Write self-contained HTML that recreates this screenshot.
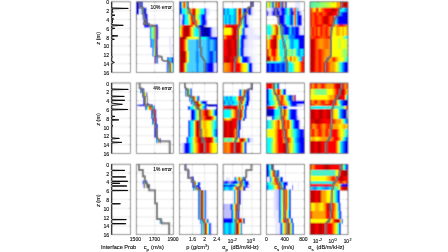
<!DOCTYPE html><html><head><meta charset="utf-8"><style>html,body{margin:0;padding:0;background:#fff;overflow:hidden}svg{display:block}text{font-family:"Liberation Sans",Arial,sans-serif;fill:#111;stroke:#111;stroke-width:0.12px}</style></head><body>
<svg width="448" height="252" viewBox="0 0 448 252">
<rect width="448" height="252" fill="#fff"/>
<filter id="bl" x="0" y="0" width="448" height="252" filterUnits="userSpaceOnUse"><feConvolveMatrix order="3" kernelMatrix="1 3 1 3 12 3 1 3 1" divisor="28" edgeMode="duplicate" preserveAlpha="true"/></filter>
<g filter="url(#bl)"><rect width="448" height="252" fill="#fff"/>
<line x1="111.40" y1="10.63" x2="130.60" y2="10.63" stroke="#d6d6d6" stroke-width="0.5"/>
<line x1="111.40" y1="19.45" x2="130.60" y2="19.45" stroke="#d6d6d6" stroke-width="0.5"/>
<line x1="111.40" y1="28.28" x2="130.60" y2="28.28" stroke="#d6d6d6" stroke-width="0.5"/>
<line x1="111.40" y1="37.10" x2="130.60" y2="37.10" stroke="#d6d6d6" stroke-width="0.5"/>
<line x1="111.40" y1="45.93" x2="130.60" y2="45.93" stroke="#d6d6d6" stroke-width="0.5"/>
<line x1="111.40" y1="54.75" x2="130.60" y2="54.75" stroke="#d6d6d6" stroke-width="0.5"/>
<line x1="111.40" y1="63.58" x2="130.60" y2="63.58" stroke="#d6d6d6" stroke-width="0.5"/>
<rect x="111.40" y="1.80" width="19.20" height="70.60" fill="none" stroke="#262626" stroke-width="0.6"/>
<path d="M111.40 10.63h0.90M130.60 10.63h-0.90M111.40 19.45h0.90M130.60 19.45h-0.90M111.40 28.28h0.90M130.60 28.28h-0.90M111.40 37.10h0.90M130.60 37.10h-0.90M111.40 45.93h0.90M130.60 45.93h-0.90M111.40 54.75h0.90M130.60 54.75h-0.90M111.40 63.58h0.90M130.60 63.58h-0.90" stroke="#262626" stroke-width="0.5" fill="none"/>
<line x1="136.25" y1="10.63" x2="173.40" y2="10.63" stroke="#d6d6d6" stroke-width="0.5"/>
<line x1="136.25" y1="19.45" x2="173.40" y2="19.45" stroke="#d6d6d6" stroke-width="0.5"/>
<line x1="136.25" y1="28.28" x2="173.40" y2="28.28" stroke="#d6d6d6" stroke-width="0.5"/>
<line x1="136.25" y1="37.10" x2="173.40" y2="37.10" stroke="#d6d6d6" stroke-width="0.5"/>
<line x1="136.25" y1="45.93" x2="173.40" y2="45.93" stroke="#d6d6d6" stroke-width="0.5"/>
<line x1="136.25" y1="54.75" x2="173.40" y2="54.75" stroke="#d6d6d6" stroke-width="0.5"/>
<line x1="136.25" y1="63.58" x2="173.40" y2="63.58" stroke="#d6d6d6" stroke-width="0.5"/>
<line x1="154.80" y1="1.80" x2="154.80" y2="72.40" stroke="#d6d6d6" stroke-width="0.5"/>
<linearGradient id="g1" gradientUnits="userSpaceOnUse" x1="136.25" y1="0" x2="173.40" y2="0">
<stop offset="0.0013" stop-color="#0000ff"/>
<stop offset="0.0740" stop-color="#0000ff"/>
<stop offset="0.0848" stop-color="#808080"/>
<stop offset="0.1036" stop-color="#ff0000"/>
<stop offset="0.1279" stop-color="#ff0000"/>
<stop offset="0.1386" stop-color="#0080ff"/>
<stop offset="0.1763" stop-color="#0000ff"/>
<stop offset="0.1898" stop-color="#ffffff" stop-opacity="0"/>
<stop offset="1.0000" stop-color="#ffffff" stop-opacity="0"/>
</linearGradient>
<rect x="136.25" y="1.80" width="37.15" height="6.55" fill="url(#g1)"/>
<linearGradient id="g2" gradientUnits="userSpaceOnUse" x1="136.25" y1="0" x2="173.40" y2="0">
<stop offset="0.0013" stop-color="#0000ff"/>
<stop offset="0.0633" stop-color="#0000ff"/>
<stop offset="0.0740" stop-color="#ffffff" stop-opacity="0"/>
<stop offset="0.1144" stop-color="#d2d2ff"/>
<stop offset="0.1332" stop-color="#aeaeff"/>
<stop offset="0.1602" stop-color="#00ffff"/>
<stop offset="0.1817" stop-color="#808080"/>
<stop offset="0.2032" stop-color="#00ffff"/>
<stop offset="0.2248" stop-color="#0000ff"/>
<stop offset="0.2490" stop-color="#0000a0"/>
<stop offset="0.2624" stop-color="#0000ff"/>
<stop offset="0.2840" stop-color="#e8e8ff"/>
<stop offset="0.3163" stop-color="#ffffff" stop-opacity="0"/>
<stop offset="1.0000" stop-color="#ffffff" stop-opacity="0"/>
</linearGradient>
<rect x="136.25" y="7.70" width="37.15" height="6.75" fill="url(#g2)"/>
<linearGradient id="g3" gradientUnits="userSpaceOnUse" x1="136.25" y1="0" x2="173.40" y2="0">
<stop offset="0.0013" stop-color="#0000ff"/>
<stop offset="0.0202" stop-color="#ffffff" stop-opacity="0"/>
<stop offset="0.1413" stop-color="#ffffff" stop-opacity="0"/>
<stop offset="0.1682" stop-color="#aeaeff"/>
<stop offset="0.1898" stop-color="#00ffff"/>
<stop offset="0.2167" stop-color="#808080"/>
<stop offset="0.2409" stop-color="#0000ff"/>
<stop offset="0.2894" stop-color="#0000ff"/>
<stop offset="0.3163" stop-color="#e8e8ff"/>
<stop offset="0.3432" stop-color="#ffffff" stop-opacity="0"/>
<stop offset="1.0000" stop-color="#ffffff" stop-opacity="0"/>
</linearGradient>
<rect x="136.25" y="13.80" width="37.15" height="5.85" fill="url(#g3)"/>
<linearGradient id="g4" gradientUnits="userSpaceOnUse" x1="136.25" y1="0" x2="173.40" y2="0">
<stop offset="0.0013" stop-color="#ffffff" stop-opacity="0"/>
<stop offset="0.1548" stop-color="#ffffff" stop-opacity="0"/>
<stop offset="0.1817" stop-color="#aeaeff"/>
<stop offset="0.2086" stop-color="#808080"/>
<stop offset="0.2355" stop-color="#0000ff"/>
<stop offset="0.2759" stop-color="#808080"/>
<stop offset="0.3028" stop-color="#0000ff"/>
<stop offset="0.3297" stop-color="#e8e8ff"/>
<stop offset="0.3567" stop-color="#ffffff" stop-opacity="0"/>
<stop offset="1.0000" stop-color="#ffffff" stop-opacity="0"/>
</linearGradient>
<rect x="136.25" y="19.00" width="37.15" height="4.65" fill="url(#g4)"/>
<linearGradient id="g5" gradientUnits="userSpaceOnUse" x1="136.25" y1="0" x2="173.40" y2="0">
<stop offset="0.0013" stop-color="#ffffff" stop-opacity="0"/>
<stop offset="0.1548" stop-color="#ffffff" stop-opacity="0"/>
<stop offset="0.1817" stop-color="#aeaeff"/>
<stop offset="0.2086" stop-color="#0000ff"/>
<stop offset="0.2248" stop-color="#808080"/>
<stop offset="0.2624" stop-color="#0000ff"/>
<stop offset="0.3378" stop-color="#808080"/>
<stop offset="0.3567" stop-color="#0000ff"/>
<stop offset="0.3836" stop-color="#ffffff" stop-opacity="0"/>
<stop offset="1.0000" stop-color="#ffffff" stop-opacity="0"/>
</linearGradient>
<rect x="136.25" y="23.00" width="37.15" height="2.25" fill="url(#g5)"/>
<linearGradient id="g6" gradientUnits="userSpaceOnUse" x1="136.25" y1="0" x2="173.40" y2="0">
<stop offset="0.0013" stop-color="#ffffff" stop-opacity="0"/>
<stop offset="0.1952" stop-color="#ffffff" stop-opacity="0"/>
<stop offset="0.2194" stop-color="#0000ff"/>
<stop offset="0.2624" stop-color="#0000ff"/>
<stop offset="0.3297" stop-color="#0000ff"/>
<stop offset="0.3594" stop-color="#808080"/>
<stop offset="0.3836" stop-color="#00ffff"/>
<stop offset="0.4159" stop-color="#ff0000"/>
<stop offset="0.4616" stop-color="#ff0000"/>
<stop offset="0.4859" stop-color="#00ffff"/>
<stop offset="0.5182" stop-color="#0000ff"/>
<stop offset="0.5720" stop-color="#0000ff"/>
<stop offset="0.5935" stop-color="#e8e8ff"/>
<stop offset="0.6124" stop-color="#ffffff" stop-opacity="0"/>
<stop offset="1.0000" stop-color="#ffffff" stop-opacity="0"/>
</linearGradient>
<rect x="136.25" y="24.60" width="37.15" height="2.85" fill="url(#g6)"/>
<linearGradient id="g7" gradientUnits="userSpaceOnUse" x1="136.25" y1="0" x2="173.40" y2="0">
<stop offset="0.0013" stop-color="#ffffff" stop-opacity="0"/>
<stop offset="0.3513" stop-color="#ffffff" stop-opacity="0"/>
<stop offset="0.3701" stop-color="#0000ff"/>
<stop offset="0.4024" stop-color="#00ffff"/>
<stop offset="0.4240" stop-color="#80ff80"/>
<stop offset="0.4697" stop-color="#80ff80"/>
<stop offset="0.4939" stop-color="#ffff00"/>
<stop offset="0.5182" stop-color="#808080"/>
<stop offset="0.5424" stop-color="#ff0000"/>
<stop offset="0.5585" stop-color="#0000ff"/>
<stop offset="0.5828" stop-color="#0000ff"/>
<stop offset="0.6016" stop-color="#e8e8ff"/>
<stop offset="0.6205" stop-color="#ffffff" stop-opacity="0"/>
<stop offset="1.0000" stop-color="#ffffff" stop-opacity="0"/>
</linearGradient>
<rect x="136.25" y="26.80" width="37.15" height="9.85" fill="url(#g7)"/>
<linearGradient id="g8" gradientUnits="userSpaceOnUse" x1="136.25" y1="0" x2="173.40" y2="0">
<stop offset="0.0013" stop-color="#ffffff" stop-opacity="0"/>
<stop offset="0.3513" stop-color="#ffffff" stop-opacity="0"/>
<stop offset="0.3701" stop-color="#0000ff"/>
<stop offset="0.4024" stop-color="#00ffff"/>
<stop offset="0.4240" stop-color="#80ff80"/>
<stop offset="0.4697" stop-color="#80ff80"/>
<stop offset="0.4939" stop-color="#ffff00"/>
<stop offset="0.5182" stop-color="#808080"/>
<stop offset="0.5424" stop-color="#ff0000"/>
<stop offset="0.5585" stop-color="#0000ff"/>
<stop offset="0.5828" stop-color="#0000ff"/>
<stop offset="0.6016" stop-color="#e8e8ff"/>
<stop offset="0.6205" stop-color="#ffffff" stop-opacity="0"/>
<stop offset="0.8681" stop-color="#ffffff" stop-opacity="0"/>
<stop offset="0.8950" stop-color="#e8e8ff"/>
<stop offset="0.9354" stop-color="#e8e8ff"/>
<stop offset="0.9623" stop-color="#ffffff" stop-opacity="0"/>
<stop offset="1.0000" stop-color="#ffffff" stop-opacity="0"/>
</linearGradient>
<rect x="136.25" y="36.00" width="37.15" height="3.45" fill="url(#g8)"/>
<linearGradient id="g9" gradientUnits="userSpaceOnUse" x1="136.25" y1="0" x2="173.40" y2="0">
<stop offset="0.0013" stop-color="#ffffff" stop-opacity="0"/>
<stop offset="0.3647" stop-color="#ffffff" stop-opacity="0"/>
<stop offset="0.3917" stop-color="#0000ff"/>
<stop offset="0.4320" stop-color="#00ffff"/>
<stop offset="0.4643" stop-color="#0080ff"/>
<stop offset="0.4939" stop-color="#ffff00"/>
<stop offset="0.5182" stop-color="#808080"/>
<stop offset="0.5424" stop-color="#ff0000"/>
<stop offset="0.5666" stop-color="#0000ff"/>
<stop offset="0.5908" stop-color="#ffffff" stop-opacity="0"/>
<stop offset="0.8681" stop-color="#ffffff" stop-opacity="0"/>
<stop offset="0.8950" stop-color="#e8e8ff"/>
<stop offset="0.9354" stop-color="#e8e8ff"/>
<stop offset="0.9623" stop-color="#ffffff" stop-opacity="0"/>
<stop offset="1.0000" stop-color="#ffffff" stop-opacity="0"/>
</linearGradient>
<rect x="136.25" y="38.80" width="37.15" height="8.85" fill="url(#g9)"/>
<linearGradient id="g10" gradientUnits="userSpaceOnUse" x1="136.25" y1="0" x2="173.40" y2="0">
<stop offset="0.0013" stop-color="#ffffff" stop-opacity="0"/>
<stop offset="0.4186" stop-color="#ffffff" stop-opacity="0"/>
<stop offset="0.4455" stop-color="#0000ff"/>
<stop offset="0.4724" stop-color="#00ffff"/>
<stop offset="0.4993" stop-color="#ffff00"/>
<stop offset="0.5262" stop-color="#808080"/>
<stop offset="0.5478" stop-color="#ff0000"/>
<stop offset="0.5720" stop-color="#0000ff"/>
<stop offset="0.5989" stop-color="#ffffff" stop-opacity="0"/>
<stop offset="0.8816" stop-color="#ffffff" stop-opacity="0"/>
<stop offset="0.9085" stop-color="#e8e8ff"/>
<stop offset="0.9489" stop-color="#e8e8ff"/>
<stop offset="0.9758" stop-color="#ffffff" stop-opacity="0"/>
<stop offset="1.0000" stop-color="#ffffff" stop-opacity="0"/>
</linearGradient>
<rect x="136.25" y="47.00" width="37.15" height="9.55" fill="url(#g10)"/>
<linearGradient id="g11" gradientUnits="userSpaceOnUse" x1="136.25" y1="0" x2="173.40" y2="0">
<stop offset="0.0013" stop-color="#ffffff" stop-opacity="0"/>
<stop offset="0.4724" stop-color="#ffffff" stop-opacity="0"/>
<stop offset="0.4993" stop-color="#0000ff"/>
<stop offset="0.5262" stop-color="#ff0000"/>
<stop offset="0.5532" stop-color="#00ffff"/>
<stop offset="0.5801" stop-color="#0000ff"/>
<stop offset="0.6070" stop-color="#ffffff" stop-opacity="0"/>
<stop offset="1.0000" stop-color="#ffffff" stop-opacity="0"/>
</linearGradient>
<rect x="136.25" y="55.90" width="37.15" height="1.75" fill="url(#g11)"/>
<linearGradient id="g12" gradientUnits="userSpaceOnUse" x1="136.25" y1="0" x2="173.40" y2="0">
<stop offset="0.0013" stop-color="#ffffff" stop-opacity="0"/>
<stop offset="0.4724" stop-color="#ffffff" stop-opacity="0"/>
<stop offset="0.4993" stop-color="#0000ff"/>
<stop offset="0.5262" stop-color="#ff0000"/>
<stop offset="0.5532" stop-color="#00ffff"/>
<stop offset="0.5801" stop-color="#0000ff"/>
<stop offset="0.6070" stop-color="#ffffff" stop-opacity="0"/>
<stop offset="0.8143" stop-color="#ffffff" stop-opacity="0"/>
<stop offset="0.8412" stop-color="#0000ff"/>
<stop offset="0.8816" stop-color="#00ffff"/>
<stop offset="0.9085" stop-color="#808080"/>
<stop offset="0.9354" stop-color="#00ffff"/>
<stop offset="0.9758" stop-color="#0000ff"/>
<stop offset="1.0000" stop-color="#0000ff"/>
</linearGradient>
<rect x="136.25" y="57.00" width="37.15" height="6.55" fill="url(#g12)"/>
<linearGradient id="g13" gradientUnits="userSpaceOnUse" x1="136.25" y1="0" x2="173.40" y2="0">
<stop offset="0.0013" stop-color="#ffffff" stop-opacity="0"/>
<stop offset="0.8008" stop-color="#ffffff" stop-opacity="0"/>
<stop offset="0.8277" stop-color="#0000ff"/>
<stop offset="0.8600" stop-color="#00ffff"/>
<stop offset="0.8869" stop-color="#ffff00"/>
<stop offset="0.9085" stop-color="#808080"/>
<stop offset="0.9300" stop-color="#ff0000"/>
<stop offset="0.9515" stop-color="#ffff00"/>
<stop offset="0.9758" stop-color="#00ffff"/>
<stop offset="1.0000" stop-color="#0000ff"/>
</linearGradient>
<rect x="136.25" y="62.90" width="37.15" height="9.55" fill="url(#g13)"/>
<polyline points="139.70,1.80 139.70,7.70 142.90,7.70 142.90,13.80 143.90,14.20 144.40,19.00 146.30,20.10 146.00,21.80 144.40,22.90 144.40,24.00 148.80,24.00 149.60,25.50 155.50,26.30 155.50,36.00 155.70,47.00 156.00,55.90 161.70,56.90 162.20,59.90 163.70,60.90 167.70,60.90 169.20,61.90 169.70,72.40" fill="none" stroke="#333333" stroke-width="1.8" stroke-linejoin="miter"/>
<polyline points="139.70,1.80 139.70,7.70 142.90,7.70 142.90,13.80 143.90,14.20 144.40,19.00 146.30,20.10 146.00,21.80 144.40,22.90 144.40,24.00 148.80,24.00 149.60,25.50 155.50,26.30 155.50,36.00 155.70,47.00 156.00,55.90 161.70,56.90 162.20,59.90 163.70,60.90 167.70,60.90 169.20,61.90 169.70,72.40" fill="none" stroke="#a8a8a8" stroke-width="0.85" stroke-linejoin="miter"/>
<rect x="136.25" y="1.80" width="37.15" height="70.60" fill="none" stroke="#262626" stroke-width="0.6"/>
<path d="M136.25 10.63h0.90M173.40 10.63h-0.90M136.25 19.45h0.90M173.40 19.45h-0.90M136.25 28.28h0.90M173.40 28.28h-0.90M136.25 37.10h0.90M173.40 37.10h-0.90M136.25 45.93h0.90M173.40 45.93h-0.90M136.25 54.75h0.90M173.40 54.75h-0.90M136.25 63.58h0.90M173.40 63.58h-0.90M154.80 1.80v0.90M154.80 72.40v-0.90" stroke="#262626" stroke-width="0.5" fill="none"/>
<line x1="179.50" y1="10.63" x2="217.60" y2="10.63" stroke="#d6d6d6" stroke-width="0.5"/>
<line x1="179.50" y1="19.45" x2="217.60" y2="19.45" stroke="#d6d6d6" stroke-width="0.5"/>
<line x1="179.50" y1="28.28" x2="217.60" y2="28.28" stroke="#d6d6d6" stroke-width="0.5"/>
<line x1="179.50" y1="37.10" x2="217.60" y2="37.10" stroke="#d6d6d6" stroke-width="0.5"/>
<line x1="179.50" y1="45.93" x2="217.60" y2="45.93" stroke="#d6d6d6" stroke-width="0.5"/>
<line x1="179.50" y1="54.75" x2="217.60" y2="54.75" stroke="#d6d6d6" stroke-width="0.5"/>
<line x1="179.50" y1="63.58" x2="217.60" y2="63.58" stroke="#d6d6d6" stroke-width="0.5"/>
<line x1="192.50" y1="1.80" x2="192.50" y2="72.40" stroke="#d6d6d6" stroke-width="0.5"/>
<line x1="204.60" y1="1.80" x2="204.60" y2="72.40" stroke="#d6d6d6" stroke-width="0.5"/>
<line x1="216.70" y1="1.80" x2="216.70" y2="72.40" stroke="#d6d6d6" stroke-width="0.5"/>
<linearGradient id="g14" gradientUnits="userSpaceOnUse" x1="179.50" y1="0" x2="217.60" y2="0">
<stop offset="0.0000" stop-color="#0000ff"/>
<stop offset="0.0382" stop-color="#0000ff"/>
<stop offset="0.0590" stop-color="#00ffff"/>
<stop offset="0.0902" stop-color="#ffff00"/>
<stop offset="0.1162" stop-color="#ff0000"/>
<stop offset="0.1422" stop-color="#ff0000"/>
<stop offset="0.1631" stop-color="#ffff00"/>
<stop offset="0.1839" stop-color="#00ffff"/>
<stop offset="0.2047" stop-color="#0000ff"/>
<stop offset="0.2255" stop-color="#0000ff"/>
<stop offset="0.2411" stop-color="#d2d2ff"/>
<stop offset="0.2619" stop-color="#ffffff" stop-opacity="0"/>
<stop offset="1.0000" stop-color="#ffffff" stop-opacity="0"/>
</linearGradient>
<rect x="179.50" y="1.80" width="38.10" height="7.18" fill="url(#g14)"/>
<linearGradient id="g15" gradientUnits="userSpaceOnUse" x1="179.50" y1="0" x2="217.60" y2="0">
<stop offset="0.0000" stop-color="#0000ff"/>
<stop offset="0.0382" stop-color="#0000ff"/>
<stop offset="0.0772" stop-color="#00ffff"/>
<stop offset="0.1422" stop-color="#00ffff"/>
<stop offset="0.1813" stop-color="#80ff80"/>
<stop offset="0.2255" stop-color="#808080"/>
<stop offset="0.2671" stop-color="#ffff00"/>
<stop offset="0.3113" stop-color="#ffa000"/>
<stop offset="0.3504" stop-color="#ff0000"/>
<stop offset="0.4024" stop-color="#b00000"/>
<stop offset="0.4414" stop-color="#ffff00"/>
<stop offset="0.5194" stop-color="#c0ff40"/>
<stop offset="0.5715" stop-color="#00ffff"/>
<stop offset="0.6365" stop-color="#00ffff"/>
<stop offset="0.6755" stop-color="#0000ff"/>
<stop offset="0.7145" stop-color="#d2d2ff"/>
<stop offset="0.7796" stop-color="#e8e8ff"/>
<stop offset="0.8446" stop-color="#ffffff" stop-opacity="0"/>
<stop offset="1.0000" stop-color="#ffffff" stop-opacity="0"/>
</linearGradient>
<rect x="179.50" y="8.33" width="38.10" height="6.70" fill="url(#g15)"/>
<linearGradient id="g16" gradientUnits="userSpaceOnUse" x1="179.50" y1="0" x2="217.60" y2="0">
<stop offset="0.0000" stop-color="#e8e8ff"/>
<stop offset="0.0642" stop-color="#e8e8ff"/>
<stop offset="0.1032" stop-color="#0000ff"/>
<stop offset="0.1553" stop-color="#00ffff"/>
<stop offset="0.2073" stop-color="#00ffff"/>
<stop offset="0.2593" stop-color="#ffff00"/>
<stop offset="0.3243" stop-color="#ff0000"/>
<stop offset="0.3894" stop-color="#b00000"/>
<stop offset="0.4414" stop-color="#ffff00"/>
<stop offset="0.4934" stop-color="#80ff80"/>
<stop offset="0.5454" stop-color="#00ffff"/>
<stop offset="0.5975" stop-color="#0000ff"/>
<stop offset="0.6625" stop-color="#0000ff"/>
<stop offset="0.7145" stop-color="#d2d2ff"/>
<stop offset="0.7666" stop-color="#ffffff" stop-opacity="0"/>
<stop offset="1.0000" stop-color="#ffffff" stop-opacity="0"/>
</linearGradient>
<rect x="179.50" y="14.37" width="38.10" height="6.10" fill="url(#g16)"/>
<linearGradient id="g17" gradientUnits="userSpaceOnUse" x1="179.50" y1="0" x2="217.60" y2="0">
<stop offset="0.0000" stop-color="#e8e8ff"/>
<stop offset="0.0512" stop-color="#d2d2ff"/>
<stop offset="0.0902" stop-color="#0000ff"/>
<stop offset="0.1553" stop-color="#00ffff"/>
<stop offset="0.2203" stop-color="#00ffff"/>
<stop offset="0.2723" stop-color="#ffff00"/>
<stop offset="0.3373" stop-color="#ff0000"/>
<stop offset="0.4024" stop-color="#ff0000"/>
<stop offset="0.4544" stop-color="#ffa000"/>
<stop offset="0.5064" stop-color="#ffff00"/>
<stop offset="0.5454" stop-color="#00ffff"/>
<stop offset="0.6105" stop-color="#0000ff"/>
<stop offset="0.6755" stop-color="#0000ff"/>
<stop offset="0.7275" stop-color="#d2d2ff"/>
<stop offset="0.7796" stop-color="#ffffff" stop-opacity="0"/>
<stop offset="1.0000" stop-color="#ffffff" stop-opacity="0"/>
</linearGradient>
<rect x="179.50" y="19.82" width="38.10" height="5.80" fill="url(#g17)"/>
<linearGradient id="g18" gradientUnits="userSpaceOnUse" x1="179.50" y1="0" x2="217.60" y2="0">
<stop offset="0.0000" stop-color="#00ffff"/>
<stop offset="0.0252" stop-color="#80ff80"/>
<stop offset="0.0642" stop-color="#ffa000"/>
<stop offset="0.1162" stop-color="#ff0000"/>
<stop offset="0.1943" stop-color="#b00000"/>
<stop offset="0.2983" stop-color="#ff0000"/>
<stop offset="0.3504" stop-color="#ffa000"/>
<stop offset="0.4024" stop-color="#ffff00"/>
<stop offset="0.4674" stop-color="#80ff80"/>
<stop offset="0.5324" stop-color="#0000ff"/>
<stop offset="0.6105" stop-color="#0000a0"/>
<stop offset="0.6885" stop-color="#aeaeff"/>
<stop offset="0.7666" stop-color="#ffffff" stop-opacity="0"/>
<stop offset="1.0000" stop-color="#ffffff" stop-opacity="0"/>
</linearGradient>
<rect x="179.50" y="24.97" width="38.10" height="2.63" fill="url(#g18)"/>
<linearGradient id="g19" gradientUnits="userSpaceOnUse" x1="179.50" y1="0" x2="217.60" y2="0">
<stop offset="0.0000" stop-color="#00ffff"/>
<stop offset="0.0252" stop-color="#ffff00"/>
<stop offset="0.0590" stop-color="#ffa000"/>
<stop offset="0.0902" stop-color="#ff0000"/>
<stop offset="0.1422" stop-color="#b00000"/>
<stop offset="0.2203" stop-color="#b00000"/>
<stop offset="0.2671" stop-color="#ff0000"/>
<stop offset="0.2983" stop-color="#ffa000"/>
<stop offset="0.3295" stop-color="#ffff00"/>
<stop offset="0.3764" stop-color="#80ff80"/>
<stop offset="0.4284" stop-color="#00ffff"/>
<stop offset="0.5064" stop-color="#00ffff"/>
<stop offset="0.5585" stop-color="#0000ff"/>
<stop offset="0.6625" stop-color="#0000a0"/>
<stop offset="0.7405" stop-color="#0000a0"/>
<stop offset="0.8056" stop-color="#0000ff"/>
<stop offset="0.8576" stop-color="#d2d2ff"/>
<stop offset="0.9226" stop-color="#e8e8ff"/>
<stop offset="1.0000" stop-color="#e8e8ff"/>
</linearGradient>
<rect x="179.50" y="26.96" width="38.10" height="10.56" fill="url(#g19)"/>
<linearGradient id="g20" gradientUnits="userSpaceOnUse" x1="179.50" y1="0" x2="217.60" y2="0">
<stop offset="0.0000" stop-color="#ff0000"/>
<stop offset="0.0512" stop-color="#b00000"/>
<stop offset="0.1553" stop-color="#b00000"/>
<stop offset="0.1943" stop-color="#ffa000"/>
<stop offset="0.2333" stop-color="#ffff00"/>
<stop offset="0.4284" stop-color="#ffff00"/>
<stop offset="0.4934" stop-color="#c0ff40"/>
<stop offset="0.5454" stop-color="#00ffff"/>
<stop offset="0.6885" stop-color="#00ffff"/>
<stop offset="0.7666" stop-color="#0080ff"/>
<stop offset="0.8446" stop-color="#0000ff"/>
<stop offset="1.0000" stop-color="#0000ff"/>
</linearGradient>
<rect x="179.50" y="36.87" width="38.10" height="3.13" fill="url(#g20)"/>
<linearGradient id="g21" gradientUnits="userSpaceOnUse" x1="179.50" y1="0" x2="217.60" y2="0">
<stop offset="0.0000" stop-color="#ff0000"/>
<stop offset="0.0382" stop-color="#b00000"/>
<stop offset="0.1162" stop-color="#ff0000"/>
<stop offset="0.1553" stop-color="#ffa000"/>
<stop offset="0.1891" stop-color="#ffff00"/>
<stop offset="0.2151" stop-color="#80ff80"/>
<stop offset="0.2463" stop-color="#48d0ff"/>
<stop offset="0.3504" stop-color="#48d0ff"/>
<stop offset="0.4284" stop-color="#48d0ff"/>
<stop offset="0.4674" stop-color="#0080ff"/>
<stop offset="0.5064" stop-color="#48d0ff"/>
<stop offset="0.6105" stop-color="#48d0ff"/>
<stop offset="0.6885" stop-color="#48d0ff"/>
<stop offset="0.7666" stop-color="#0080ff"/>
<stop offset="0.8446" stop-color="#48d0ff"/>
<stop offset="0.9226" stop-color="#0080ff"/>
<stop offset="1.0000" stop-color="#0000ff"/>
</linearGradient>
<rect x="179.50" y="39.34" width="38.10" height="12.28" fill="url(#g21)"/>
<linearGradient id="g22" gradientUnits="userSpaceOnUse" x1="179.50" y1="0" x2="217.60" y2="0">
<stop offset="0.0000" stop-color="#ff0000"/>
<stop offset="0.0382" stop-color="#b00000"/>
<stop offset="0.1292" stop-color="#b00000"/>
<stop offset="0.1631" stop-color="#ff0000"/>
<stop offset="0.1891" stop-color="#ffa000"/>
<stop offset="0.2099" stop-color="#ffff00"/>
<stop offset="0.2411" stop-color="#80ff80"/>
<stop offset="0.2723" stop-color="#48d0ff"/>
<stop offset="0.3504" stop-color="#48d0ff"/>
<stop offset="0.4024" stop-color="#48d0ff"/>
<stop offset="0.4674" stop-color="#0080ff"/>
<stop offset="0.5324" stop-color="#48d0ff"/>
<stop offset="0.6105" stop-color="#48d0ff"/>
<stop offset="0.6885" stop-color="#48d0ff"/>
<stop offset="0.7796" stop-color="#0080ff"/>
<stop offset="0.8316" stop-color="#0000ff"/>
<stop offset="0.8836" stop-color="#0080ff"/>
<stop offset="0.9356" stop-color="#48d0ff"/>
<stop offset="0.9747" stop-color="#0000ff"/>
<stop offset="1.0000" stop-color="#0000ff"/>
</linearGradient>
<rect x="179.50" y="50.97" width="38.10" height="12.54" fill="url(#g22)"/>
<linearGradient id="g23" gradientUnits="userSpaceOnUse" x1="179.50" y1="0" x2="217.60" y2="0">
<stop offset="0.0000" stop-color="#ff0000"/>
<stop offset="0.0512" stop-color="#b00000"/>
<stop offset="0.1162" stop-color="#ff0000"/>
<stop offset="0.1475" stop-color="#ffff00"/>
<stop offset="0.1813" stop-color="#80ff80"/>
<stop offset="0.2333" stop-color="#48d0ff"/>
<stop offset="0.3243" stop-color="#48d0ff"/>
<stop offset="0.4284" stop-color="#48d0ff"/>
<stop offset="0.4674" stop-color="#0080ff"/>
<stop offset="0.5194" stop-color="#48d0ff"/>
<stop offset="0.6105" stop-color="#48d0ff"/>
<stop offset="0.6885" stop-color="#0080ff"/>
<stop offset="0.7666" stop-color="#0000ff"/>
<stop offset="0.8706" stop-color="#0000ff"/>
<stop offset="0.9096" stop-color="#d2d2ff"/>
<stop offset="0.9616" stop-color="#e8e8ff"/>
<stop offset="1.0000" stop-color="#0000ff"/>
</linearGradient>
<rect x="179.50" y="62.87" width="38.10" height="9.58" fill="url(#g23)"/>
<polyline points="187.70,1.80 187.70,7.40 189.40,8.90 189.90,12.90 192.40,15.90 194.30,17.30 193.30,19.80 195.30,22.80 195.80,25.00 197.30,27.00 199.30,28.00 199.80,31.90 199.80,47.00 201.30,48.00 201.30,55.90 202.80,57.90 204.70,60.90 204.70,72.40" fill="none" stroke="#333333" stroke-width="1.8" stroke-linejoin="miter"/>
<polyline points="187.70,1.80 187.70,7.40 189.40,8.90 189.90,12.90 192.40,15.90 194.30,17.30 193.30,19.80 195.30,22.80 195.80,25.00 197.30,27.00 199.30,28.00 199.80,31.90 199.80,47.00 201.30,48.00 201.30,55.90 202.80,57.90 204.70,60.90 204.70,72.40" fill="none" stroke="#a8a8a8" stroke-width="0.85" stroke-linejoin="miter"/>
<rect x="179.50" y="1.80" width="38.10" height="70.60" fill="none" stroke="#262626" stroke-width="0.6"/>
<path d="M179.50 10.63h0.90M217.60 10.63h-0.90M179.50 19.45h0.90M217.60 19.45h-0.90M179.50 28.28h0.90M217.60 28.28h-0.90M179.50 37.10h0.90M217.60 37.10h-0.90M179.50 45.93h0.90M217.60 45.93h-0.90M179.50 54.75h0.90M217.60 54.75h-0.90M179.50 63.58h0.90M217.60 63.58h-0.90M192.50 1.80v0.90M192.50 72.40v-0.90M204.60 1.80v0.90M204.60 72.40v-0.90M216.70 1.80v0.90M216.70 72.40v-0.90" stroke="#262626" stroke-width="0.5" fill="none"/>
<line x1="223.10" y1="10.63" x2="260.80" y2="10.63" stroke="#d6d6d6" stroke-width="0.5"/>
<line x1="223.10" y1="19.45" x2="260.80" y2="19.45" stroke="#d6d6d6" stroke-width="0.5"/>
<line x1="223.10" y1="28.28" x2="260.80" y2="28.28" stroke="#d6d6d6" stroke-width="0.5"/>
<line x1="223.10" y1="37.10" x2="260.80" y2="37.10" stroke="#d6d6d6" stroke-width="0.5"/>
<line x1="223.10" y1="45.93" x2="260.80" y2="45.93" stroke="#d6d6d6" stroke-width="0.5"/>
<line x1="223.10" y1="54.75" x2="260.80" y2="54.75" stroke="#d6d6d6" stroke-width="0.5"/>
<line x1="223.10" y1="63.58" x2="260.80" y2="63.58" stroke="#d6d6d6" stroke-width="0.5"/>
<line x1="232.70" y1="1.80" x2="232.70" y2="72.40" stroke="#d6d6d6" stroke-width="0.5"/>
<line x1="242.30" y1="1.80" x2="242.30" y2="72.40" stroke="#d6d6d6" stroke-width="0.5"/>
<line x1="251.90" y1="1.80" x2="251.90" y2="72.40" stroke="#d6d6d6" stroke-width="0.5"/>
<linearGradient id="g24" gradientUnits="userSpaceOnUse" x1="223.10" y1="0" x2="260.80" y2="0">
<stop offset="0.0000" stop-color="#ffffff" stop-opacity="0"/>
<stop offset="0.7012" stop-color="#ffffff" stop-opacity="0"/>
<stop offset="0.7196" stop-color="#0000a0"/>
<stop offset="0.7406" stop-color="#0000ff"/>
<stop offset="0.7590" stop-color="#ffa000"/>
<stop offset="0.7748" stop-color="#808080"/>
<stop offset="0.7906" stop-color="#0000a0"/>
<stop offset="0.8116" stop-color="#0000ff"/>
<stop offset="0.8274" stop-color="#ffffff" stop-opacity="0"/>
<stop offset="1.0000" stop-color="#ffffff" stop-opacity="0"/>
</linearGradient>
<rect x="223.10" y="1.80" width="37.70" height="4.99" fill="url(#g24)"/>
<linearGradient id="g25" gradientUnits="userSpaceOnUse" x1="223.10" y1="0" x2="260.80" y2="0">
<stop offset="0.0000" stop-color="#ffffff" stop-opacity="0"/>
<stop offset="0.6276" stop-color="#ffffff" stop-opacity="0"/>
<stop offset="0.6591" stop-color="#aeaeff"/>
<stop offset="0.6854" stop-color="#ffa000"/>
<stop offset="0.7064" stop-color="#808080"/>
<stop offset="0.7327" stop-color="#0000ff"/>
<stop offset="0.7537" stop-color="#d2d2ff"/>
<stop offset="0.7853" stop-color="#ffffff" stop-opacity="0"/>
<stop offset="1.0000" stop-color="#ffffff" stop-opacity="0"/>
</linearGradient>
<rect x="223.10" y="6.14" width="37.70" height="2.63" fill="url(#g25)"/>
<linearGradient id="g26" gradientUnits="userSpaceOnUse" x1="223.10" y1="0" x2="260.80" y2="0">
<stop offset="0.0000" stop-color="#0000ff"/>
<stop offset="0.0361" stop-color="#0080ff"/>
<stop offset="0.0755" stop-color="#00ffff"/>
<stop offset="0.1281" stop-color="#0080ff"/>
<stop offset="0.1807" stop-color="#00ffff"/>
<stop offset="0.2595" stop-color="#00ffff"/>
<stop offset="0.3384" stop-color="#0080ff"/>
<stop offset="0.3857" stop-color="#ffff00"/>
<stop offset="0.4173" stop-color="#ff0000"/>
<stop offset="0.4567" stop-color="#b00000"/>
<stop offset="0.4909" stop-color="#ffa000"/>
<stop offset="0.5224" stop-color="#00ffff"/>
<stop offset="0.5618" stop-color="#0000ff"/>
<stop offset="0.6065" stop-color="#0000ff"/>
<stop offset="0.6407" stop-color="#ffff00"/>
<stop offset="0.6617" stop-color="#808080"/>
<stop offset="0.6854" stop-color="#0000ff"/>
<stop offset="0.7222" stop-color="#0000ff"/>
<stop offset="0.7590" stop-color="#d2d2ff"/>
<stop offset="0.7984" stop-color="#e8e8ff"/>
<stop offset="0.8642" stop-color="#ffffff" stop-opacity="0"/>
<stop offset="1.0000" stop-color="#ffffff" stop-opacity="0"/>
</linearGradient>
<rect x="223.10" y="8.13" width="37.70" height="7.39" fill="url(#g26)"/>
<linearGradient id="g27" gradientUnits="userSpaceOnUse" x1="223.10" y1="0" x2="260.80" y2="0">
<stop offset="0.0000" stop-color="#0080ff"/>
<stop offset="0.0361" stop-color="#00ffff"/>
<stop offset="0.0755" stop-color="#0080ff"/>
<stop offset="0.1149" stop-color="#00ffff"/>
<stop offset="0.1807" stop-color="#0080ff"/>
<stop offset="0.2332" stop-color="#00ffff"/>
<stop offset="0.3384" stop-color="#0080ff"/>
<stop offset="0.3857" stop-color="#ffff00"/>
<stop offset="0.4225" stop-color="#ff0000"/>
<stop offset="0.4646" stop-color="#ff0000"/>
<stop offset="0.4961" stop-color="#ffff00"/>
<stop offset="0.5277" stop-color="#00ffff"/>
<stop offset="0.5540" stop-color="#808080"/>
<stop offset="0.5802" stop-color="#0000ff"/>
<stop offset="0.6065" stop-color="#0000ff"/>
<stop offset="0.6407" stop-color="#d2d2ff"/>
<stop offset="0.6933" stop-color="#e8e8ff"/>
<stop offset="0.7590" stop-color="#ffffff" stop-opacity="0"/>
<stop offset="1.0000" stop-color="#ffffff" stop-opacity="0"/>
</linearGradient>
<rect x="223.10" y="14.87" width="37.70" height="10.76" fill="url(#g27)"/>
<linearGradient id="g28" gradientUnits="userSpaceOnUse" x1="223.10" y1="0" x2="260.80" y2="0">
<stop offset="0.0000" stop-color="#ff0000"/>
<stop offset="0.0361" stop-color="#ffa000"/>
<stop offset="0.0755" stop-color="#ff0000"/>
<stop offset="0.1807" stop-color="#ff0000"/>
<stop offset="0.2595" stop-color="#b00000"/>
<stop offset="0.3384" stop-color="#ff0000"/>
<stop offset="0.3910" stop-color="#ff0000"/>
<stop offset="0.4304" stop-color="#808080"/>
<stop offset="0.4567" stop-color="#ffff00"/>
<stop offset="0.4961" stop-color="#ffff00"/>
<stop offset="0.5356" stop-color="#00ffff"/>
<stop offset="0.5881" stop-color="#0000ff"/>
<stop offset="0.6407" stop-color="#0000ff"/>
<stop offset="0.6801" stop-color="#d2d2ff"/>
<stop offset="0.7196" stop-color="#e8e8ff"/>
<stop offset="0.7853" stop-color="#ffffff" stop-opacity="0"/>
<stop offset="1.0000" stop-color="#ffffff" stop-opacity="0"/>
</linearGradient>
<rect x="223.10" y="24.48" width="37.70" height="4.12" fill="url(#g28)"/>
<linearGradient id="g29" gradientUnits="userSpaceOnUse" x1="223.10" y1="0" x2="260.80" y2="0">
<stop offset="0.0000" stop-color="#ffa000"/>
<stop offset="0.0361" stop-color="#ffff00"/>
<stop offset="0.1938" stop-color="#ffff00"/>
<stop offset="0.2280" stop-color="#ffa000"/>
<stop offset="0.2595" stop-color="#ff0000"/>
<stop offset="0.3121" stop-color="#b00000"/>
<stop offset="0.3647" stop-color="#ff0000"/>
<stop offset="0.4041" stop-color="#808080"/>
<stop offset="0.4304" stop-color="#ffff00"/>
<stop offset="0.4698" stop-color="#ffff00"/>
<stop offset="0.5014" stop-color="#00ffff"/>
<stop offset="0.5487" stop-color="#0000ff"/>
<stop offset="0.5881" stop-color="#d2d2ff"/>
<stop offset="0.6539" stop-color="#e8e8ff"/>
<stop offset="0.7590" stop-color="#e8e8ff"/>
<stop offset="1.0000" stop-color="#ffffff" stop-opacity="0"/>
</linearGradient>
<rect x="223.10" y="27.95" width="37.70" height="7.59" fill="url(#g29)"/>
<linearGradient id="g30" gradientUnits="userSpaceOnUse" x1="223.10" y1="0" x2="260.80" y2="0">
<stop offset="0.0000" stop-color="#ff0000"/>
<stop offset="0.0361" stop-color="#ffa000"/>
<stop offset="0.1281" stop-color="#ff0000"/>
<stop offset="0.2069" stop-color="#ff0000"/>
<stop offset="0.2858" stop-color="#b00000"/>
<stop offset="0.3647" stop-color="#ff0000"/>
<stop offset="0.4041" stop-color="#808080"/>
<stop offset="0.4304" stop-color="#ffff00"/>
<stop offset="0.4567" stop-color="#00ffff"/>
<stop offset="0.4961" stop-color="#0000ff"/>
<stop offset="0.5618" stop-color="#0000ff"/>
<stop offset="0.6276" stop-color="#aeaeff"/>
<stop offset="0.6801" stop-color="#e8e8ff"/>
<stop offset="1.0000" stop-color="#e8e8ff"/>
</linearGradient>
<rect x="223.10" y="34.88" width="37.70" height="5.11" fill="url(#g30)"/>
<linearGradient id="g31" gradientUnits="userSpaceOnUse" x1="223.10" y1="0" x2="260.80" y2="0">
<stop offset="0.0000" stop-color="#ff0000"/>
<stop offset="0.0755" stop-color="#ff0000"/>
<stop offset="0.1544" stop-color="#b00000"/>
<stop offset="0.2595" stop-color="#ff0000"/>
<stop offset="0.3384" stop-color="#b00000"/>
<stop offset="0.3778" stop-color="#ff0000"/>
<stop offset="0.3962" stop-color="#808080"/>
<stop offset="0.4225" stop-color="#ffff00"/>
<stop offset="0.4514" stop-color="#00ffff"/>
<stop offset="0.4830" stop-color="#0000ff"/>
<stop offset="0.5277" stop-color="#0000ff"/>
<stop offset="0.5750" stop-color="#d2d2ff"/>
<stop offset="0.6801" stop-color="#e8e8ff"/>
<stop offset="1.0000" stop-color="#ffffff" stop-opacity="0"/>
</linearGradient>
<rect x="223.10" y="39.34" width="37.70" height="9.31" fill="url(#g31)"/>
<linearGradient id="g32" gradientUnits="userSpaceOnUse" x1="223.10" y1="0" x2="260.80" y2="0">
<stop offset="0.0000" stop-color="#ff0000"/>
<stop offset="0.0755" stop-color="#ff0000"/>
<stop offset="0.1807" stop-color="#b00000"/>
<stop offset="0.2858" stop-color="#ff0000"/>
<stop offset="0.3515" stop-color="#b00000"/>
<stop offset="0.3778" stop-color="#808080"/>
<stop offset="0.4120" stop-color="#ffff00"/>
<stop offset="0.4435" stop-color="#00ffff"/>
<stop offset="0.4830" stop-color="#0000ff"/>
<stop offset="0.5277" stop-color="#0000ff"/>
<stop offset="0.5618" stop-color="#d2d2ff"/>
<stop offset="0.6276" stop-color="#e8e8ff"/>
<stop offset="1.0000" stop-color="#ffffff" stop-opacity="0"/>
</linearGradient>
<rect x="223.10" y="48.00" width="37.70" height="9.07" fill="url(#g32)"/>
<linearGradient id="g33" gradientUnits="userSpaceOnUse" x1="223.10" y1="0" x2="260.80" y2="0">
<stop offset="0.0000" stop-color="#ff0000"/>
<stop offset="0.1281" stop-color="#b00000"/>
<stop offset="0.2332" stop-color="#ff0000"/>
<stop offset="0.2858" stop-color="#b00000"/>
<stop offset="0.3121" stop-color="#808080"/>
<stop offset="0.3515" stop-color="#ff0000"/>
<stop offset="0.4041" stop-color="#ffa000"/>
<stop offset="0.4567" stop-color="#ffff00"/>
<stop offset="0.4909" stop-color="#00ffff"/>
<stop offset="0.5277" stop-color="#0000ff"/>
<stop offset="0.6276" stop-color="#0000ff"/>
<stop offset="0.7064" stop-color="#aeaeff"/>
<stop offset="0.7590" stop-color="#e8e8ff"/>
<stop offset="1.0000" stop-color="#ffffff" stop-opacity="0"/>
</linearGradient>
<rect x="223.10" y="56.42" width="37.70" height="7.09" fill="url(#g33)"/>
<linearGradient id="g34" gradientUnits="userSpaceOnUse" x1="223.10" y1="0" x2="260.80" y2="0">
<stop offset="0.0000" stop-color="#ffa000"/>
<stop offset="0.0492" stop-color="#ffa000"/>
<stop offset="0.1807" stop-color="#ff6000"/>
<stop offset="0.2201" stop-color="#ff0000"/>
<stop offset="0.2806" stop-color="#ff0000"/>
<stop offset="0.2990" stop-color="#808080"/>
<stop offset="0.3252" stop-color="#ff0000"/>
<stop offset="0.4435" stop-color="#ff0000"/>
<stop offset="0.4830" stop-color="#ffa000"/>
<stop offset="0.5487" stop-color="#ffff00"/>
<stop offset="0.6276" stop-color="#ffff00"/>
<stop offset="0.6670" stop-color="#00ffff"/>
<stop offset="0.7064" stop-color="#0000ff"/>
<stop offset="0.7643" stop-color="#0000ff"/>
<stop offset="0.7853" stop-color="#e8e8ff"/>
<stop offset="1.0000" stop-color="#ffffff" stop-opacity="0"/>
</linearGradient>
<rect x="223.10" y="62.87" width="37.70" height="9.58" fill="url(#g34)"/>
<polyline points="252.20,1.80 252.20,5.90 249.70,7.40 247.70,8.40 247.30,11.90 243.80,14.90 242.80,16.80 241.30,19.80 240.30,25.00 239.00,26.00 237.90,29.90 237.80,47.00 237.80,48.00 237.80,55.90 235.90,58.90 234.90,61.90 234.40,72.40" fill="none" stroke="#333333" stroke-width="1.8" stroke-linejoin="miter"/>
<polyline points="252.20,1.80 252.20,5.90 249.70,7.40 247.70,8.40 247.30,11.90 243.80,14.90 242.80,16.80 241.30,19.80 240.30,25.00 239.00,26.00 237.90,29.90 237.80,47.00 237.80,48.00 237.80,55.90 235.90,58.90 234.90,61.90 234.40,72.40" fill="none" stroke="#a8a8a8" stroke-width="0.85" stroke-linejoin="miter"/>
<rect x="223.10" y="1.80" width="37.70" height="70.60" fill="none" stroke="#262626" stroke-width="0.6"/>
<path d="M223.10 10.63h0.90M260.80 10.63h-0.90M223.10 19.45h0.90M260.80 19.45h-0.90M223.10 28.28h0.90M260.80 28.28h-0.90M223.10 37.10h0.90M260.80 37.10h-0.90M223.10 45.93h0.90M260.80 45.93h-0.90M223.10 54.75h0.90M260.80 54.75h-0.90M223.10 63.58h0.90M260.80 63.58h-0.90M232.70 1.80v0.90M232.70 72.40v-0.90M242.30 1.80v0.90M242.30 72.40v-0.90M251.90 1.80v0.90M251.90 72.40v-0.90" stroke="#262626" stroke-width="0.5" fill="none"/>
<line x1="266.25" y1="10.63" x2="304.50" y2="10.63" stroke="#d6d6d6" stroke-width="0.5"/>
<line x1="266.25" y1="19.45" x2="304.50" y2="19.45" stroke="#d6d6d6" stroke-width="0.5"/>
<line x1="266.25" y1="28.28" x2="304.50" y2="28.28" stroke="#d6d6d6" stroke-width="0.5"/>
<line x1="266.25" y1="37.10" x2="304.50" y2="37.10" stroke="#d6d6d6" stroke-width="0.5"/>
<line x1="266.25" y1="45.93" x2="304.50" y2="45.93" stroke="#d6d6d6" stroke-width="0.5"/>
<line x1="266.25" y1="54.75" x2="304.50" y2="54.75" stroke="#d6d6d6" stroke-width="0.5"/>
<line x1="266.25" y1="63.58" x2="304.50" y2="63.58" stroke="#d6d6d6" stroke-width="0.5"/>
<line x1="285.40" y1="1.80" x2="285.40" y2="72.40" stroke="#d6d6d6" stroke-width="0.5"/>
<linearGradient id="g35" gradientUnits="userSpaceOnUse" x1="266.25" y1="0" x2="304.50" y2="0">
<stop offset="0.0008" stop-color="#00ffff"/>
<stop offset="0.0241" stop-color="#80ff80"/>
<stop offset="0.0578" stop-color="#ffff00"/>
<stop offset="0.0837" stop-color="#ffa000"/>
<stop offset="0.1174" stop-color="#80ff80"/>
<stop offset="0.1485" stop-color="#00ffff"/>
<stop offset="0.1796" stop-color="#0000ff"/>
<stop offset="0.2132" stop-color="#ffff00"/>
<stop offset="0.2391" stop-color="#80ff80"/>
<stop offset="0.2651" stop-color="#ffff00"/>
<stop offset="0.2910" stop-color="#ffa000"/>
<stop offset="0.3169" stop-color="#ff0000"/>
<stop offset="0.3557" stop-color="#ff0000"/>
<stop offset="0.3868" stop-color="#00ffff"/>
<stop offset="0.4205" stop-color="#0000ff"/>
<stop offset="0.4594" stop-color="#ffa000"/>
<stop offset="0.4853" stop-color="#ffff00"/>
<stop offset="0.5060" stop-color="#0000ff"/>
<stop offset="0.5268" stop-color="#0000ff"/>
<stop offset="0.5423" stop-color="#ffffff" stop-opacity="0"/>
<stop offset="0.7185" stop-color="#ffffff" stop-opacity="0"/>
<stop offset="0.7703" stop-color="#e8e8ff"/>
<stop offset="0.8740" stop-color="#e8e8ff"/>
<stop offset="0.9258" stop-color="#ffffff" stop-opacity="0"/>
<stop offset="1.0000" stop-color="#ffffff" stop-opacity="0"/>
</linearGradient>
<rect x="266.25" y="1.80" width="38.25" height="6.58" fill="url(#g35)"/>
<linearGradient id="g36" gradientUnits="userSpaceOnUse" x1="266.25" y1="0" x2="304.50" y2="0">
<stop offset="0.0008" stop-color="#d2d2ff"/>
<stop offset="0.0319" stop-color="#e8e8ff"/>
<stop offset="0.0966" stop-color="#e8e8ff"/>
<stop offset="0.1355" stop-color="#d2d2ff"/>
<stop offset="0.1744" stop-color="#aeaeff"/>
<stop offset="0.2210" stop-color="#0000ff"/>
<stop offset="0.2417" stop-color="#808080"/>
<stop offset="0.2651" stop-color="#808080"/>
<stop offset="0.2780" stop-color="#0000ff"/>
<stop offset="0.3557" stop-color="#aeaeff"/>
<stop offset="0.4076" stop-color="#0000ff"/>
<stop offset="0.4594" stop-color="#0000ff"/>
<stop offset="0.4983" stop-color="#0080ff"/>
<stop offset="0.5501" stop-color="#00ffff"/>
<stop offset="0.5889" stop-color="#80ff80"/>
<stop offset="0.6278" stop-color="#0080ff"/>
<stop offset="0.6667" stop-color="#0000ff"/>
<stop offset="0.7055" stop-color="#aeaeff"/>
<stop offset="0.7314" stop-color="#ffa000"/>
<stop offset="0.7651" stop-color="#ff0000"/>
<stop offset="0.7962" stop-color="#00ffff"/>
<stop offset="0.8351" stop-color="#aeaeff"/>
<stop offset="0.8740" stop-color="#e8e8ff"/>
<stop offset="0.9258" stop-color="#ffffff" stop-opacity="0"/>
<stop offset="1.0000" stop-color="#ffffff" stop-opacity="0"/>
</linearGradient>
<rect x="266.25" y="7.73" width="38.25" height="4.02" fill="url(#g36)"/>
<linearGradient id="g37" gradientUnits="userSpaceOnUse" x1="266.25" y1="0" x2="304.50" y2="0">
<stop offset="0.0008" stop-color="#e8e8ff"/>
<stop offset="0.0189" stop-color="#0000ff"/>
<stop offset="0.0578" stop-color="#aeaeff"/>
<stop offset="0.0966" stop-color="#e8e8ff"/>
<stop offset="0.1485" stop-color="#aeaeff"/>
<stop offset="0.1873" stop-color="#0000ff"/>
<stop offset="0.2262" stop-color="#0000ff"/>
<stop offset="0.2417" stop-color="#808080"/>
<stop offset="0.2651" stop-color="#808080"/>
<stop offset="0.2780" stop-color="#0000ff"/>
<stop offset="0.3298" stop-color="#0000ff"/>
<stop offset="0.3687" stop-color="#aeaeff"/>
<stop offset="0.4205" stop-color="#0000ff"/>
<stop offset="0.4594" stop-color="#0000ff"/>
<stop offset="0.4983" stop-color="#0080ff"/>
<stop offset="0.5501" stop-color="#00ffff"/>
<stop offset="0.5889" stop-color="#80ff80"/>
<stop offset="0.6278" stop-color="#0080ff"/>
<stop offset="0.6667" stop-color="#0000ff"/>
<stop offset="0.7055" stop-color="#0000ff"/>
<stop offset="0.7314" stop-color="#ffa000"/>
<stop offset="0.7651" stop-color="#ff0000"/>
<stop offset="0.7962" stop-color="#00ffff"/>
<stop offset="0.8351" stop-color="#0000ff"/>
<stop offset="0.8869" stop-color="#aeaeff"/>
<stop offset="0.9258" stop-color="#e8e8ff"/>
<stop offset="1.0000" stop-color="#ffffff" stop-opacity="0"/>
</linearGradient>
<rect x="266.25" y="11.10" width="38.25" height="4.71" fill="url(#g37)"/>
<linearGradient id="g38" gradientUnits="userSpaceOnUse" x1="266.25" y1="0" x2="304.50" y2="0">
<stop offset="0.0008" stop-color="#aeaeff"/>
<stop offset="0.0189" stop-color="#ffffff" stop-opacity="0"/>
<stop offset="0.2910" stop-color="#ffffff" stop-opacity="0"/>
<stop offset="0.3039" stop-color="#808080"/>
<stop offset="0.3350" stop-color="#808080"/>
<stop offset="0.3506" stop-color="#0000ff"/>
<stop offset="0.4594" stop-color="#0000ff"/>
<stop offset="0.4905" stop-color="#aeaeff"/>
<stop offset="0.5242" stop-color="#00ffff"/>
<stop offset="0.5889" stop-color="#00ffff"/>
<stop offset="0.6278" stop-color="#0080ff"/>
<stop offset="0.6796" stop-color="#0000ff"/>
<stop offset="0.7055" stop-color="#00ffff"/>
<stop offset="0.7392" stop-color="#ffa000"/>
<stop offset="0.7625" stop-color="#ff0000"/>
<stop offset="0.7962" stop-color="#00ffff"/>
<stop offset="0.8351" stop-color="#0000ff"/>
<stop offset="0.9128" stop-color="#0000ff"/>
<stop offset="0.9387" stop-color="#e8e8ff"/>
<stop offset="1.0000" stop-color="#ffffff" stop-opacity="0"/>
</linearGradient>
<rect x="266.25" y="15.16" width="38.25" height="10.46" fill="url(#g38)"/>
<linearGradient id="g39" gradientUnits="userSpaceOnUse" x1="266.25" y1="0" x2="304.50" y2="0">
<stop offset="0.0008" stop-color="#00ffff"/>
<stop offset="0.0448" stop-color="#80ff80"/>
<stop offset="0.0966" stop-color="#00ffff"/>
<stop offset="0.1485" stop-color="#ffff00"/>
<stop offset="0.2132" stop-color="#ffa000"/>
<stop offset="0.2651" stop-color="#ff0000"/>
<stop offset="0.3039" stop-color="#ffff00"/>
<stop offset="0.3428" stop-color="#00ffff"/>
<stop offset="0.3687" stop-color="#808080"/>
<stop offset="0.4076" stop-color="#808080"/>
<stop offset="0.4335" stop-color="#0000ff"/>
<stop offset="0.5112" stop-color="#0000ff"/>
<stop offset="0.5760" stop-color="#ffffff" stop-opacity="0"/>
<stop offset="1.0000" stop-color="#ffffff" stop-opacity="0"/>
</linearGradient>
<rect x="266.25" y="24.48" width="38.25" height="2.63" fill="url(#g39)"/>
<linearGradient id="g40" gradientUnits="userSpaceOnUse" x1="266.25" y1="0" x2="304.50" y2="0">
<stop offset="0.0008" stop-color="#ffff00"/>
<stop offset="0.0241" stop-color="#00ffff"/>
<stop offset="0.0966" stop-color="#00ffff"/>
<stop offset="0.1485" stop-color="#80ff80"/>
<stop offset="0.1951" stop-color="#ffff00"/>
<stop offset="0.2391" stop-color="#ffa000"/>
<stop offset="0.2910" stop-color="#b00000"/>
<stop offset="0.3298" stop-color="#ffff00"/>
<stop offset="0.3765" stop-color="#00ffff"/>
<stop offset="0.3998" stop-color="#808080"/>
<stop offset="0.4231" stop-color="#808080"/>
<stop offset="0.4464" stop-color="#0080ff"/>
<stop offset="0.4983" stop-color="#0000ff"/>
<stop offset="0.5630" stop-color="#0000ff"/>
<stop offset="0.6019" stop-color="#0080ff"/>
<stop offset="0.6408" stop-color="#00ffff"/>
<stop offset="0.6796" stop-color="#0000ff"/>
<stop offset="0.7314" stop-color="#0080ff"/>
<stop offset="0.7703" stop-color="#0000ff"/>
<stop offset="0.8351" stop-color="#0000ff"/>
<stop offset="0.8869" stop-color="#e8e8ff"/>
<stop offset="1.0000" stop-color="#e8e8ff"/>
</linearGradient>
<rect x="266.25" y="26.46" width="38.25" height="9.07" fill="url(#g40)"/>
<linearGradient id="g41" gradientUnits="userSpaceOnUse" x1="266.25" y1="0" x2="304.50" y2="0">
<stop offset="0.0008" stop-color="#ffa000"/>
<stop offset="0.0448" stop-color="#ffff00"/>
<stop offset="0.0837" stop-color="#00ffff"/>
<stop offset="0.1355" stop-color="#ffa000"/>
<stop offset="0.2003" stop-color="#ff0000"/>
<stop offset="0.2521" stop-color="#b00000"/>
<stop offset="0.2910" stop-color="#ffa000"/>
<stop offset="0.3428" stop-color="#ffff00"/>
<stop offset="0.3817" stop-color="#80ff80"/>
<stop offset="0.4205" stop-color="#808080"/>
<stop offset="0.4542" stop-color="#00ffff"/>
<stop offset="0.4905" stop-color="#00ffff"/>
<stop offset="0.5242" stop-color="#ffa000"/>
<stop offset="0.5630" stop-color="#00ffff"/>
<stop offset="0.6408" stop-color="#0080ff"/>
<stop offset="0.7185" stop-color="#0080ff"/>
<stop offset="0.7703" stop-color="#0000ff"/>
<stop offset="1.0000" stop-color="#0000ff"/>
</linearGradient>
<rect x="266.25" y="34.88" width="38.25" height="5.11" fill="url(#g41)"/>
<linearGradient id="g42" gradientUnits="userSpaceOnUse" x1="266.25" y1="0" x2="304.50" y2="0">
<stop offset="0.0008" stop-color="#ff0000"/>
<stop offset="0.0448" stop-color="#ffff00"/>
<stop offset="0.0837" stop-color="#ffa000"/>
<stop offset="0.1226" stop-color="#ff0000"/>
<stop offset="0.2262" stop-color="#b00000"/>
<stop offset="0.2728" stop-color="#ff0000"/>
<stop offset="0.3091" stop-color="#ffff00"/>
<stop offset="0.3557" stop-color="#00ffff"/>
<stop offset="0.4076" stop-color="#00ffff"/>
<stop offset="0.4387" stop-color="#808080"/>
<stop offset="0.4723" stop-color="#00ffff"/>
<stop offset="0.5242" stop-color="#00ffff"/>
<stop offset="0.5630" stop-color="#ffff00"/>
<stop offset="0.6019" stop-color="#00ffff"/>
<stop offset="0.6796" stop-color="#0080ff"/>
<stop offset="0.7444" stop-color="#00ffff"/>
<stop offset="0.8221" stop-color="#00ffff"/>
<stop offset="0.8740" stop-color="#0000ff"/>
<stop offset="1.0000" stop-color="#0000ff"/>
</linearGradient>
<rect x="266.25" y="39.34" width="38.25" height="10.30" fill="url(#g42)"/>
<linearGradient id="g43" gradientUnits="userSpaceOnUse" x1="266.25" y1="0" x2="304.50" y2="0">
<stop offset="0.0008" stop-color="#ffa000"/>
<stop offset="0.0448" stop-color="#ff0000"/>
<stop offset="0.0966" stop-color="#ffff00"/>
<stop offset="0.1485" stop-color="#ff0000"/>
<stop offset="0.2391" stop-color="#ff0000"/>
<stop offset="0.2780" stop-color="#ffa000"/>
<stop offset="0.3169" stop-color="#ffff00"/>
<stop offset="0.3687" stop-color="#00ffff"/>
<stop offset="0.4335" stop-color="#00ffff"/>
<stop offset="0.4594" stop-color="#80ff80"/>
<stop offset="0.4853" stop-color="#808080"/>
<stop offset="0.5242" stop-color="#00ffff"/>
<stop offset="0.5760" stop-color="#80ff80"/>
<stop offset="0.6278" stop-color="#c0ff40"/>
<stop offset="0.6796" stop-color="#00ffff"/>
<stop offset="0.7314" stop-color="#ffff00"/>
<stop offset="0.7833" stop-color="#00ffff"/>
<stop offset="0.8610" stop-color="#0080ff"/>
<stop offset="0.9258" stop-color="#00ffff"/>
<stop offset="1.0000" stop-color="#0080ff"/>
</linearGradient>
<rect x="266.25" y="48.99" width="38.25" height="8.08" fill="url(#g43)"/>
<linearGradient id="g44" gradientUnits="userSpaceOnUse" x1="266.25" y1="0" x2="304.50" y2="0">
<stop offset="0.0008" stop-color="#b00000"/>
<stop offset="0.0655" stop-color="#b00000"/>
<stop offset="0.0966" stop-color="#ff0000"/>
<stop offset="0.1485" stop-color="#ffff00"/>
<stop offset="0.2003" stop-color="#ff0000"/>
<stop offset="0.2651" stop-color="#ffa000"/>
<stop offset="0.3298" stop-color="#ffff00"/>
<stop offset="0.3817" stop-color="#80ff80"/>
<stop offset="0.4335" stop-color="#00ffff"/>
<stop offset="0.4853" stop-color="#808080"/>
<stop offset="0.5371" stop-color="#ffff00"/>
<stop offset="0.6019" stop-color="#ffff00"/>
<stop offset="0.6408" stop-color="#ff0000"/>
<stop offset="0.6796" stop-color="#ffff00"/>
<stop offset="0.7444" stop-color="#ffa000"/>
<stop offset="0.7962" stop-color="#ffff00"/>
<stop offset="0.8740" stop-color="#00ffff"/>
<stop offset="0.9387" stop-color="#0080ff"/>
<stop offset="0.9646" stop-color="#ff0000"/>
<stop offset="1.0000" stop-color="#ff0000"/>
</linearGradient>
<rect x="266.25" y="56.42" width="38.25" height="5.61" fill="url(#g44)"/>
<linearGradient id="g45" gradientUnits="userSpaceOnUse" x1="266.25" y1="0" x2="304.50" y2="0">
<stop offset="0.0008" stop-color="#80ff80"/>
<stop offset="0.0966" stop-color="#00ffff"/>
<stop offset="0.2003" stop-color="#00ffff"/>
<stop offset="0.3298" stop-color="#00ffff"/>
<stop offset="0.4594" stop-color="#0080ff"/>
<stop offset="0.5242" stop-color="#808080"/>
<stop offset="0.5889" stop-color="#00ffff"/>
<stop offset="0.6667" stop-color="#80ff80"/>
<stop offset="0.7444" stop-color="#ffff00"/>
<stop offset="0.8351" stop-color="#ffff00"/>
<stop offset="0.8740" stop-color="#ffa000"/>
<stop offset="0.9258" stop-color="#ff0000"/>
<stop offset="1.0000" stop-color="#ff0000"/>
</linearGradient>
<rect x="266.25" y="61.38" width="38.25" height="2.33" fill="url(#g45)"/>
<linearGradient id="g46" gradientUnits="userSpaceOnUse" x1="266.25" y1="0" x2="304.50" y2="0">
<stop offset="0.0008" stop-color="#0000ff"/>
<stop offset="0.0578" stop-color="#0000ff"/>
<stop offset="0.0966" stop-color="#0080ff"/>
<stop offset="0.1355" stop-color="#0000ff"/>
<stop offset="0.2003" stop-color="#0000ff"/>
<stop offset="0.2521" stop-color="#0080ff"/>
<stop offset="0.3039" stop-color="#0000ff"/>
<stop offset="0.3817" stop-color="#0080ff"/>
<stop offset="0.4464" stop-color="#0000ff"/>
<stop offset="0.4983" stop-color="#0080ff"/>
<stop offset="0.5371" stop-color="#808080"/>
<stop offset="0.5630" stop-color="#808080"/>
<stop offset="0.6019" stop-color="#00ffff"/>
<stop offset="0.6796" stop-color="#00ffff"/>
<stop offset="0.7185" stop-color="#80ff80"/>
<stop offset="0.7703" stop-color="#ffff00"/>
<stop offset="0.8351" stop-color="#ffff00"/>
<stop offset="0.8869" stop-color="#ffa000"/>
<stop offset="0.9387" stop-color="#ff0000"/>
<stop offset="1.0000" stop-color="#ff0000"/>
</linearGradient>
<rect x="266.25" y="63.06" width="38.25" height="9.39" fill="url(#g46)"/>
<polyline points="275.80,1.80 275.80,14.00 276.50,16.00 278.50,17.50 278.50,23.50 280.80,24.50 281.30,27.00 281.80,34.00 283.30,40.00 285.50,48.00 285.80,56.00 287.00,61.00 287.00,72.40" fill="none" stroke="#333333" stroke-width="1.8" stroke-linejoin="miter"/>
<polyline points="275.80,1.80 275.80,14.00 276.50,16.00 278.50,17.50 278.50,23.50 280.80,24.50 281.30,27.00 281.80,34.00 283.30,40.00 285.50,48.00 285.80,56.00 287.00,61.00 287.00,72.40" fill="none" stroke="#a8a8a8" stroke-width="0.85" stroke-linejoin="miter"/>
<rect x="266.25" y="1.80" width="38.25" height="70.60" fill="none" stroke="#262626" stroke-width="0.6"/>
<path d="M266.25 10.63h0.90M304.50 10.63h-0.90M266.25 19.45h0.90M304.50 19.45h-0.90M266.25 28.28h0.90M304.50 28.28h-0.90M266.25 37.10h0.90M304.50 37.10h-0.90M266.25 45.93h0.90M304.50 45.93h-0.90M266.25 54.75h0.90M304.50 54.75h-0.90M266.25 63.58h0.90M304.50 63.58h-0.90M285.40 1.80v0.90M285.40 72.40v-0.90" stroke="#262626" stroke-width="0.5" fill="none"/>
<line x1="310.00" y1="10.63" x2="348.00" y2="10.63" stroke="#d6d6d6" stroke-width="0.5"/>
<line x1="310.00" y1="19.45" x2="348.00" y2="19.45" stroke="#d6d6d6" stroke-width="0.5"/>
<line x1="310.00" y1="28.28" x2="348.00" y2="28.28" stroke="#d6d6d6" stroke-width="0.5"/>
<line x1="310.00" y1="37.10" x2="348.00" y2="37.10" stroke="#d6d6d6" stroke-width="0.5"/>
<line x1="310.00" y1="45.93" x2="348.00" y2="45.93" stroke="#d6d6d6" stroke-width="0.5"/>
<line x1="310.00" y1="54.75" x2="348.00" y2="54.75" stroke="#d6d6d6" stroke-width="0.5"/>
<line x1="310.00" y1="63.58" x2="348.00" y2="63.58" stroke="#d6d6d6" stroke-width="0.5"/>
<line x1="318.10" y1="1.80" x2="318.10" y2="72.40" stroke="#d6d6d6" stroke-width="0.5"/>
<line x1="333.10" y1="1.80" x2="333.10" y2="72.40" stroke="#d6d6d6" stroke-width="0.5"/>
<linearGradient id="g47" gradientUnits="userSpaceOnUse" x1="310.00" y1="0" x2="348.00" y2="0">
<stop offset="0.0000" stop-color="#50f0a8"/>
<stop offset="0.1297" stop-color="#60f8a0"/>
<stop offset="0.3123" stop-color="#90ff70"/>
<stop offset="0.4948" stop-color="#c0ff40"/>
<stop offset="0.5992" stop-color="#ffff00"/>
<stop offset="0.6774" stop-color="#ffff00"/>
<stop offset="0.7165" stop-color="#ffa000"/>
<stop offset="0.7817" stop-color="#ffa000"/>
<stop offset="0.8078" stop-color="#ff0000"/>
<stop offset="0.8339" stop-color="#808080"/>
<stop offset="0.8600" stop-color="#ff0000"/>
<stop offset="0.9252" stop-color="#b00000"/>
<stop offset="1.0000" stop-color="#ff0000"/>
</linearGradient>
<rect x="310.00" y="1.80" width="38.00" height="6.58" fill="url(#g47)"/>
<linearGradient id="g48" gradientUnits="userSpaceOnUse" x1="310.00" y1="0" x2="348.00" y2="0">
<stop offset="0.0000" stop-color="#ff0000"/>
<stop offset="0.0384" stop-color="#ff6000"/>
<stop offset="0.0775" stop-color="#ffa000"/>
<stop offset="0.1167" stop-color="#ffff00"/>
<stop offset="0.1558" stop-color="#ff6000"/>
<stop offset="0.2079" stop-color="#ff0000"/>
<stop offset="0.2471" stop-color="#ffff00"/>
<stop offset="0.2862" stop-color="#ffa000"/>
<stop offset="0.3383" stop-color="#ff6000"/>
<stop offset="0.4036" stop-color="#ff0000"/>
<stop offset="0.5209" stop-color="#ff0000"/>
<stop offset="0.6252" stop-color="#b00000"/>
<stop offset="0.7035" stop-color="#ff0000"/>
<stop offset="0.7426" stop-color="#ff0000"/>
<stop offset="0.7687" stop-color="#808080"/>
<stop offset="0.8078" stop-color="#00ffff"/>
<stop offset="0.8861" stop-color="#00ffff"/>
<stop offset="0.9382" stop-color="#0080ff"/>
<stop offset="1.0000" stop-color="#0080ff"/>
</linearGradient>
<rect x="310.00" y="7.73" width="38.00" height="4.81" fill="url(#g48)"/>
<linearGradient id="g49" gradientUnits="userSpaceOnUse" x1="310.00" y1="0" x2="348.00" y2="0">
<stop offset="0.0000" stop-color="#ff0000"/>
<stop offset="0.0775" stop-color="#ff6000"/>
<stop offset="0.1297" stop-color="#ff0000"/>
<stop offset="0.2079" stop-color="#ff6000"/>
<stop offset="0.2862" stop-color="#ff0000"/>
<stop offset="0.3644" stop-color="#ff6000"/>
<stop offset="0.4427" stop-color="#ff0000"/>
<stop offset="0.5470" stop-color="#b00000"/>
<stop offset="0.6252" stop-color="#ff0000"/>
<stop offset="0.7035" stop-color="#ff0000"/>
<stop offset="0.7296" stop-color="#808080"/>
<stop offset="0.7687" stop-color="#00ffff"/>
<stop offset="0.8208" stop-color="#0080ff"/>
<stop offset="0.8730" stop-color="#0000ff"/>
<stop offset="1.0000" stop-color="#0000ff"/>
</linearGradient>
<rect x="310.00" y="11.89" width="38.00" height="4.61" fill="url(#g49)"/>
<linearGradient id="g50" gradientUnits="userSpaceOnUse" x1="310.00" y1="0" x2="348.00" y2="0">
<stop offset="0.0000" stop-color="#ff0000"/>
<stop offset="0.0775" stop-color="#ff6000"/>
<stop offset="0.1558" stop-color="#ff0000"/>
<stop offset="0.2601" stop-color="#ff6000"/>
<stop offset="0.3383" stop-color="#ff0000"/>
<stop offset="0.4166" stop-color="#b00000"/>
<stop offset="0.4948" stop-color="#ff0000"/>
<stop offset="0.5600" stop-color="#ff6000"/>
<stop offset="0.6044" stop-color="#ff0000"/>
<stop offset="0.6383" stop-color="#808080"/>
<stop offset="0.6826" stop-color="#00ffff"/>
<stop offset="0.7165" stop-color="#0080ff"/>
<stop offset="0.7556" stop-color="#0000ff"/>
<stop offset="0.9121" stop-color="#0000ff"/>
<stop offset="1.0000" stop-color="#0000ff"/>
</linearGradient>
<rect x="310.00" y="15.86" width="38.00" height="9.77" fill="url(#g50)"/>
<linearGradient id="g51" gradientUnits="userSpaceOnUse" x1="310.00" y1="0" x2="348.00" y2="0">
<stop offset="0.0000" stop-color="#ff0000"/>
<stop offset="0.0775" stop-color="#ff6000"/>
<stop offset="0.1819" stop-color="#ff0000"/>
<stop offset="0.2862" stop-color="#ff0000"/>
<stop offset="0.3905" stop-color="#ff6000"/>
<stop offset="0.4948" stop-color="#ff0000"/>
<stop offset="0.5731" stop-color="#ff0000"/>
<stop offset="0.5992" stop-color="#808080"/>
<stop offset="0.6383" stop-color="#ffa000"/>
<stop offset="0.7035" stop-color="#ffa000"/>
<stop offset="0.8078" stop-color="#ff0000"/>
<stop offset="1.0000" stop-color="#ffa000"/>
</linearGradient>
<rect x="310.00" y="24.48" width="38.00" height="3.13" fill="url(#g51)"/>
<linearGradient id="g52" gradientUnits="userSpaceOnUse" x1="310.00" y1="0" x2="348.00" y2="0">
<stop offset="0.0000" stop-color="#ffa000"/>
<stop offset="0.0775" stop-color="#ff0000"/>
<stop offset="0.1297" stop-color="#ff6000"/>
<stop offset="0.1819" stop-color="#ff0000"/>
<stop offset="0.2340" stop-color="#ffa000"/>
<stop offset="0.2862" stop-color="#ff0000"/>
<stop offset="0.3644" stop-color="#ff6000"/>
<stop offset="0.4427" stop-color="#ff0000"/>
<stop offset="0.5209" stop-color="#ffa000"/>
<stop offset="0.5548" stop-color="#808080"/>
<stop offset="0.5992" stop-color="#ffff00"/>
<stop offset="0.6644" stop-color="#ffff00"/>
<stop offset="0.7035" stop-color="#ffa000"/>
<stop offset="0.7556" stop-color="#ffa000"/>
<stop offset="0.8208" stop-color="#ffff00"/>
<stop offset="0.8730" stop-color="#ffa000"/>
<stop offset="0.9121" stop-color="#ffff00"/>
<stop offset="1.0000" stop-color="#ffa000"/>
</linearGradient>
<rect x="310.00" y="26.96" width="38.00" height="9.57" fill="url(#g52)"/>
<linearGradient id="g53" gradientUnits="userSpaceOnUse" x1="310.00" y1="0" x2="348.00" y2="0">
<stop offset="0.0000" stop-color="#ff6000"/>
<stop offset="0.1819" stop-color="#ff0000"/>
<stop offset="0.3383" stop-color="#ff6000"/>
<stop offset="0.5209" stop-color="#ff0000"/>
<stop offset="0.5470" stop-color="#808080"/>
<stop offset="0.5861" stop-color="#ffff00"/>
<stop offset="0.8078" stop-color="#ffff00"/>
<stop offset="0.8861" stop-color="#c0ff40"/>
<stop offset="0.9513" stop-color="#00ffff"/>
<stop offset="1.0000" stop-color="#00ffff"/>
</linearGradient>
<rect x="310.00" y="35.88" width="38.00" height="3.62" fill="url(#g53)"/>
<linearGradient id="g54" gradientUnits="userSpaceOnUse" x1="310.00" y1="0" x2="348.00" y2="0">
<stop offset="0.0000" stop-color="#ff0000"/>
<stop offset="0.0775" stop-color="#b00000"/>
<stop offset="0.1297" stop-color="#ff0000"/>
<stop offset="0.1819" stop-color="#ff6000"/>
<stop offset="0.2862" stop-color="#ffa000"/>
<stop offset="0.4427" stop-color="#ff6000"/>
<stop offset="0.5340" stop-color="#ffa000"/>
<stop offset="0.5600" stop-color="#808080"/>
<stop offset="0.5861" stop-color="#ffff00"/>
<stop offset="0.7035" stop-color="#ffff00"/>
<stop offset="0.7817" stop-color="#c0ff40"/>
<stop offset="0.8600" stop-color="#ffff00"/>
<stop offset="1.0000" stop-color="#c0ff40"/>
</linearGradient>
<rect x="310.00" y="38.85" width="38.00" height="10.79" fill="url(#g54)"/>
<linearGradient id="g55" gradientUnits="userSpaceOnUse" x1="310.00" y1="0" x2="348.00" y2="0">
<stop offset="0.0000" stop-color="#ff0000"/>
<stop offset="0.0775" stop-color="#b00000"/>
<stop offset="0.1297" stop-color="#ff0000"/>
<stop offset="0.1819" stop-color="#ff6000"/>
<stop offset="0.2601" stop-color="#ff0000"/>
<stop offset="0.3383" stop-color="#ff6000"/>
<stop offset="0.4427" stop-color="#ffa000"/>
<stop offset="0.5340" stop-color="#ffa000"/>
<stop offset="0.5522" stop-color="#808080"/>
<stop offset="0.5861" stop-color="#ffff00"/>
<stop offset="0.7817" stop-color="#ffff00"/>
<stop offset="0.8600" stop-color="#c0ff40"/>
<stop offset="0.9382" stop-color="#80ff80"/>
<stop offset="1.0000" stop-color="#c0ff40"/>
</linearGradient>
<rect x="310.00" y="48.99" width="38.00" height="8.58" fill="url(#g55)"/>
<linearGradient id="g56" gradientUnits="userSpaceOnUse" x1="310.00" y1="0" x2="348.00" y2="0">
<stop offset="0.0000" stop-color="#ff0000"/>
<stop offset="0.0775" stop-color="#b00000"/>
<stop offset="0.1297" stop-color="#ff0000"/>
<stop offset="0.1819" stop-color="#ff6000"/>
<stop offset="0.2601" stop-color="#ff0000"/>
<stop offset="0.3383" stop-color="#ff6000"/>
<stop offset="0.4036" stop-color="#ffa000"/>
<stop offset="0.4557" stop-color="#808080"/>
<stop offset="0.5079" stop-color="#ffa000"/>
<stop offset="0.5731" stop-color="#ffa000"/>
<stop offset="0.6252" stop-color="#ff0000"/>
<stop offset="0.7035" stop-color="#ffa000"/>
<stop offset="0.7817" stop-color="#ffff00"/>
<stop offset="0.8600" stop-color="#ffff00"/>
<stop offset="0.9252" stop-color="#80ff80"/>
<stop offset="1.0000" stop-color="#00ffff"/>
</linearGradient>
<rect x="310.00" y="56.92" width="38.00" height="5.61" fill="url(#g56)"/>
<linearGradient id="g57" gradientUnits="userSpaceOnUse" x1="310.00" y1="0" x2="348.00" y2="0">
<stop offset="0.0000" stop-color="#ff0000"/>
<stop offset="0.0645" stop-color="#b00000"/>
<stop offset="0.1167" stop-color="#ff0000"/>
<stop offset="0.1819" stop-color="#ff6000"/>
<stop offset="0.2601" stop-color="#ff0000"/>
<stop offset="0.3383" stop-color="#ff6000"/>
<stop offset="0.3905" stop-color="#ff0000"/>
<stop offset="0.4166" stop-color="#808080"/>
<stop offset="0.4427" stop-color="#ff0000"/>
<stop offset="0.5470" stop-color="#ffa000"/>
<stop offset="0.6252" stop-color="#ffa000"/>
<stop offset="0.7035" stop-color="#ffff00"/>
<stop offset="0.7687" stop-color="#80ff80"/>
<stop offset="0.8208" stop-color="#00ffff"/>
<stop offset="0.8730" stop-color="#0080ff"/>
<stop offset="0.9252" stop-color="#0000ff"/>
<stop offset="1.0000" stop-color="#0000ff"/>
</linearGradient>
<rect x="310.00" y="61.88" width="38.00" height="10.57" fill="url(#g57)"/>
<polyline points="341.70,1.80 341.70,7.40 339.20,8.90 338.70,14.90 336.70,16.80 334.70,19.80 333.30,22.80 333.80,24.00 332.30,27.00 331.30,31.90 330.80,47.00 330.80,55.90 328.30,58.90 325.80,61.90 325.30,72.40" fill="none" stroke="#333333" stroke-width="1.8" stroke-linejoin="miter"/>
<polyline points="341.70,1.80 341.70,7.40 339.20,8.90 338.70,14.90 336.70,16.80 334.70,19.80 333.30,22.80 333.80,24.00 332.30,27.00 331.30,31.90 330.80,47.00 330.80,55.90 328.30,58.90 325.80,61.90 325.30,72.40" fill="none" stroke="#a8a8a8" stroke-width="0.85" stroke-linejoin="miter"/>
<rect x="310.00" y="1.80" width="38.00" height="70.60" fill="none" stroke="#262626" stroke-width="0.6"/>
<path d="M310.00 10.63h0.90M348.00 10.63h-0.90M310.00 19.45h0.90M348.00 19.45h-0.90M310.00 28.28h0.90M348.00 28.28h-0.90M310.00 37.10h0.90M348.00 37.10h-0.90M310.00 45.93h0.90M348.00 45.93h-0.90M310.00 54.75h0.90M348.00 54.75h-0.90M310.00 63.58h0.90M348.00 63.58h-0.90M318.10 1.80v0.90M318.10 72.40v-0.90M333.10 1.80v0.90M333.10 72.40v-0.90" stroke="#262626" stroke-width="0.5" fill="none"/>
<line x1="111.40" y1="91.80" x2="130.60" y2="91.80" stroke="#d6d6d6" stroke-width="0.5"/>
<line x1="111.40" y1="100.60" x2="130.60" y2="100.60" stroke="#d6d6d6" stroke-width="0.5"/>
<line x1="111.40" y1="109.40" x2="130.60" y2="109.40" stroke="#d6d6d6" stroke-width="0.5"/>
<line x1="111.40" y1="118.20" x2="130.60" y2="118.20" stroke="#d6d6d6" stroke-width="0.5"/>
<line x1="111.40" y1="127.00" x2="130.60" y2="127.00" stroke="#d6d6d6" stroke-width="0.5"/>
<line x1="111.40" y1="135.80" x2="130.60" y2="135.80" stroke="#d6d6d6" stroke-width="0.5"/>
<line x1="111.40" y1="144.60" x2="130.60" y2="144.60" stroke="#d6d6d6" stroke-width="0.5"/>
<rect x="111.40" y="83.00" width="19.20" height="70.40" fill="none" stroke="#262626" stroke-width="0.6"/>
<path d="M111.40 91.80h0.90M130.60 91.80h-0.90M111.40 100.60h0.90M130.60 100.60h-0.90M111.40 109.40h0.90M130.60 109.40h-0.90M111.40 118.20h0.90M130.60 118.20h-0.90M111.40 127.00h0.90M130.60 127.00h-0.90M111.40 135.80h0.90M130.60 135.80h-0.90M111.40 144.60h0.90M130.60 144.60h-0.90" stroke="#262626" stroke-width="0.5" fill="none"/>
<line x1="136.25" y1="91.80" x2="173.40" y2="91.80" stroke="#d6d6d6" stroke-width="0.5"/>
<line x1="136.25" y1="100.60" x2="173.40" y2="100.60" stroke="#d6d6d6" stroke-width="0.5"/>
<line x1="136.25" y1="109.40" x2="173.40" y2="109.40" stroke="#d6d6d6" stroke-width="0.5"/>
<line x1="136.25" y1="118.20" x2="173.40" y2="118.20" stroke="#d6d6d6" stroke-width="0.5"/>
<line x1="136.25" y1="127.00" x2="173.40" y2="127.00" stroke="#d6d6d6" stroke-width="0.5"/>
<line x1="136.25" y1="135.80" x2="173.40" y2="135.80" stroke="#d6d6d6" stroke-width="0.5"/>
<line x1="136.25" y1="144.60" x2="173.40" y2="144.60" stroke="#d6d6d6" stroke-width="0.5"/>
<line x1="154.80" y1="83.00" x2="154.80" y2="153.40" stroke="#d6d6d6" stroke-width="0.5"/>
<linearGradient id="g58" gradientUnits="userSpaceOnUse" x1="136.25" y1="0" x2="173.40" y2="0">
<stop offset="0.0013" stop-color="#ffffff" stop-opacity="0"/>
<stop offset="0.0606" stop-color="#ffffff" stop-opacity="0"/>
<stop offset="0.0848" stop-color="#808080"/>
<stop offset="0.1117" stop-color="#ffffff" stop-opacity="0"/>
<stop offset="1.0000" stop-color="#ffffff" stop-opacity="0"/>
</linearGradient>
<rect x="136.25" y="83.00" width="37.15" height="6.05" fill="url(#g58)"/>
<linearGradient id="g59" gradientUnits="userSpaceOnUse" x1="136.25" y1="0" x2="173.40" y2="0">
<stop offset="0.0013" stop-color="#ffffff" stop-opacity="0"/>
<stop offset="0.0875" stop-color="#ffffff" stop-opacity="0"/>
<stop offset="0.1090" stop-color="#0000ff"/>
<stop offset="0.1279" stop-color="#00ffff"/>
<stop offset="0.1521" stop-color="#808080"/>
<stop offset="0.1790" stop-color="#0000ff"/>
<stop offset="0.2086" stop-color="#0000ff"/>
<stop offset="0.2355" stop-color="#ffffff" stop-opacity="0"/>
<stop offset="1.0000" stop-color="#ffffff" stop-opacity="0"/>
</linearGradient>
<rect x="136.25" y="88.40" width="37.15" height="4.75" fill="url(#g59)"/>
<linearGradient id="g60" gradientUnits="userSpaceOnUse" x1="136.25" y1="0" x2="173.40" y2="0">
<stop offset="0.0013" stop-color="#ffffff" stop-opacity="0"/>
<stop offset="0.1413" stop-color="#ffffff" stop-opacity="0"/>
<stop offset="0.1682" stop-color="#0000ff"/>
<stop offset="0.1952" stop-color="#80ff80"/>
<stop offset="0.2194" stop-color="#808080"/>
<stop offset="0.2490" stop-color="#ffff00"/>
<stop offset="0.2894" stop-color="#0000ff"/>
<stop offset="0.3163" stop-color="#ffffff" stop-opacity="0"/>
<stop offset="1.0000" stop-color="#ffffff" stop-opacity="0"/>
</linearGradient>
<rect x="136.25" y="92.50" width="37.15" height="4.65" fill="url(#g60)"/>
<linearGradient id="g61" gradientUnits="userSpaceOnUse" x1="136.25" y1="0" x2="173.40" y2="0">
<stop offset="0.0013" stop-color="#ffffff" stop-opacity="0"/>
<stop offset="0.1682" stop-color="#ffffff" stop-opacity="0"/>
<stop offset="0.1952" stop-color="#0000ff"/>
<stop offset="0.2221" stop-color="#80ff80"/>
<stop offset="0.2490" stop-color="#808080"/>
<stop offset="0.2759" stop-color="#ffff00"/>
<stop offset="0.3028" stop-color="#0000ff"/>
<stop offset="0.3297" stop-color="#ffffff" stop-opacity="0"/>
<stop offset="1.0000" stop-color="#ffffff" stop-opacity="0"/>
</linearGradient>
<rect x="136.25" y="96.50" width="37.15" height="7.65" fill="url(#g61)"/>
<linearGradient id="g62" gradientUnits="userSpaceOnUse" x1="136.25" y1="0" x2="173.40" y2="0">
<stop offset="0.0013" stop-color="#ffffff" stop-opacity="0"/>
<stop offset="0.1682" stop-color="#ffffff" stop-opacity="0"/>
<stop offset="0.1952" stop-color="#0000ff"/>
<stop offset="0.2221" stop-color="#808080"/>
<stop offset="0.2759" stop-color="#ffa000"/>
<stop offset="0.3028" stop-color="#0000ff"/>
<stop offset="0.3432" stop-color="#0000ff"/>
<stop offset="0.3701" stop-color="#ffffff" stop-opacity="0"/>
<stop offset="1.0000" stop-color="#ffffff" stop-opacity="0"/>
</linearGradient>
<rect x="136.25" y="103.50" width="37.15" height="1.75" fill="url(#g62)"/>
<linearGradient id="g63" gradientUnits="userSpaceOnUse" x1="136.25" y1="0" x2="173.40" y2="0">
<stop offset="0.0013" stop-color="#ffffff" stop-opacity="0"/>
<stop offset="0.0148" stop-color="#aeaeff"/>
<stop offset="0.1009" stop-color="#0000ff"/>
<stop offset="0.1682" stop-color="#0000ff"/>
<stop offset="0.1952" stop-color="#0000ff"/>
<stop offset="0.2221" stop-color="#808080"/>
<stop offset="0.2894" stop-color="#808080"/>
<stop offset="0.3432" stop-color="#0000ff"/>
<stop offset="0.4374" stop-color="#0000ff"/>
<stop offset="0.4643" stop-color="#ffffff" stop-opacity="0"/>
<stop offset="1.0000" stop-color="#ffffff" stop-opacity="0"/>
</linearGradient>
<rect x="136.25" y="104.60" width="37.15" height="1.65" fill="url(#g63)"/>
<linearGradient id="g64" gradientUnits="userSpaceOnUse" x1="136.25" y1="0" x2="173.40" y2="0">
<stop offset="0.0013" stop-color="#ffffff" stop-opacity="0"/>
<stop offset="0.2221" stop-color="#ffffff" stop-opacity="0"/>
<stop offset="0.2490" stop-color="#0000ff"/>
<stop offset="0.2894" stop-color="#00ffff"/>
<stop offset="0.3297" stop-color="#ffff00"/>
<stop offset="0.3701" stop-color="#ff0000"/>
<stop offset="0.4105" stop-color="#ffff00"/>
<stop offset="0.4374" stop-color="#808080"/>
<stop offset="0.4643" stop-color="#00ffff"/>
<stop offset="0.4913" stop-color="#0000ff"/>
<stop offset="0.5182" stop-color="#ffffff" stop-opacity="0"/>
<stop offset="1.0000" stop-color="#ffffff" stop-opacity="0"/>
</linearGradient>
<rect x="136.25" y="105.50" width="37.15" height="4.65" fill="url(#g64)"/>
<linearGradient id="g65" gradientUnits="userSpaceOnUse" x1="136.25" y1="0" x2="173.40" y2="0">
<stop offset="0.0013" stop-color="#ffffff" stop-opacity="0"/>
<stop offset="0.3836" stop-color="#ffffff" stop-opacity="0"/>
<stop offset="0.4105" stop-color="#0000ff"/>
<stop offset="0.4374" stop-color="#00ffff"/>
<stop offset="0.4643" stop-color="#ffff00"/>
<stop offset="0.4778" stop-color="#808080"/>
<stop offset="0.5047" stop-color="#ff0000"/>
<stop offset="0.5316" stop-color="#0000ff"/>
<stop offset="0.5585" stop-color="#ffffff" stop-opacity="0"/>
<stop offset="1.0000" stop-color="#ffffff" stop-opacity="0"/>
</linearGradient>
<rect x="136.25" y="109.50" width="37.15" height="9.15" fill="url(#g65)"/>
<linearGradient id="g66" gradientUnits="userSpaceOnUse" x1="136.25" y1="0" x2="173.40" y2="0">
<stop offset="0.0013" stop-color="#ffffff" stop-opacity="0"/>
<stop offset="0.4105" stop-color="#ffffff" stop-opacity="0"/>
<stop offset="0.4374" stop-color="#0000ff"/>
<stop offset="0.4643" stop-color="#00ffff"/>
<stop offset="0.4913" stop-color="#808080"/>
<stop offset="0.5182" stop-color="#ff0000"/>
<stop offset="0.5451" stop-color="#0000ff"/>
<stop offset="0.5720" stop-color="#ffffff" stop-opacity="0"/>
<stop offset="1.0000" stop-color="#ffffff" stop-opacity="0"/>
</linearGradient>
<rect x="136.25" y="118.00" width="37.15" height="6.65" fill="url(#g66)"/>
<linearGradient id="g67" gradientUnits="userSpaceOnUse" x1="136.25" y1="0" x2="173.40" y2="0">
<stop offset="0.0013" stop-color="#ffffff" stop-opacity="0"/>
<stop offset="0.4643" stop-color="#ffffff" stop-opacity="0"/>
<stop offset="0.4913" stop-color="#0000ff"/>
<stop offset="0.5316" stop-color="#808080"/>
<stop offset="0.5720" stop-color="#0000ff"/>
<stop offset="0.5989" stop-color="#ffffff" stop-opacity="0"/>
<stop offset="1.0000" stop-color="#ffffff" stop-opacity="0"/>
</linearGradient>
<rect x="136.25" y="124.00" width="37.15" height="13.65" fill="url(#g67)"/>
<linearGradient id="g68" gradientUnits="userSpaceOnUse" x1="136.25" y1="0" x2="173.40" y2="0">
<stop offset="0.0013" stop-color="#ffffff" stop-opacity="0"/>
<stop offset="0.5182" stop-color="#ffffff" stop-opacity="0"/>
<stop offset="0.5451" stop-color="#808080"/>
<stop offset="0.5720" stop-color="#ffffff" stop-opacity="0"/>
<stop offset="1.0000" stop-color="#ffffff" stop-opacity="0"/>
</linearGradient>
<rect x="136.25" y="137.00" width="37.15" height="1.65" fill="url(#g68)"/>
<linearGradient id="g69" gradientUnits="userSpaceOnUse" x1="136.25" y1="0" x2="173.40" y2="0">
<stop offset="0.0013" stop-color="#ffffff" stop-opacity="0"/>
<stop offset="0.5182" stop-color="#ffffff" stop-opacity="0"/>
<stop offset="0.5397" stop-color="#0000ff"/>
<stop offset="0.5720" stop-color="#00ffff"/>
<stop offset="0.5989" stop-color="#ff0000"/>
<stop offset="0.6258" stop-color="#ffff00"/>
<stop offset="0.6528" stop-color="#0000ff"/>
<stop offset="0.6797" stop-color="#ffffff" stop-opacity="0"/>
<stop offset="1.0000" stop-color="#ffffff" stop-opacity="0"/>
</linearGradient>
<rect x="136.25" y="138.00" width="37.15" height="5.15" fill="url(#g69)"/>
<linearGradient id="g70" gradientUnits="userSpaceOnUse" x1="136.25" y1="0" x2="173.40" y2="0">
<stop offset="0.0013" stop-color="#ffffff" stop-opacity="0"/>
<stop offset="1.0000" stop-color="#ffffff" stop-opacity="0"/>
</linearGradient>
<rect x="136.25" y="142.50" width="37.15" height="10.95" fill="url(#g70)"/>
<polyline points="139.60,83.00 139.60,88.00 141.80,88.50 143.30,90.00 143.30,96.50 144.80,97.00 145.20,104.00 145.20,105.50 151.20,105.50 152.30,107.50 152.80,109.50 153.80,117.90 154.80,123.80 156.20,129.00 156.80,130.00 156.80,137.40 158.30,139.00 159.30,141.40 169.70,141.40 169.70,153.40" fill="none" stroke="#333333" stroke-width="1.8" stroke-linejoin="miter"/>
<polyline points="139.60,83.00 139.60,88.00 141.80,88.50 143.30,90.00 143.30,96.50 144.80,97.00 145.20,104.00 145.20,105.50 151.20,105.50 152.30,107.50 152.80,109.50 153.80,117.90 154.80,123.80 156.20,129.00 156.80,130.00 156.80,137.40 158.30,139.00 159.30,141.40 169.70,141.40 169.70,153.40" fill="none" stroke="#a8a8a8" stroke-width="0.85" stroke-linejoin="miter"/>
<rect x="136.25" y="83.00" width="37.15" height="70.40" fill="none" stroke="#262626" stroke-width="0.6"/>
<path d="M136.25 91.80h0.90M173.40 91.80h-0.90M136.25 100.60h0.90M173.40 100.60h-0.90M136.25 109.40h0.90M173.40 109.40h-0.90M136.25 118.20h0.90M173.40 118.20h-0.90M136.25 127.00h0.90M173.40 127.00h-0.90M136.25 135.80h0.90M173.40 135.80h-0.90M136.25 144.60h0.90M173.40 144.60h-0.90M154.80 83.00v0.90M154.80 153.40v-0.90" stroke="#262626" stroke-width="0.5" fill="none"/>
<line x1="179.50" y1="91.80" x2="217.60" y2="91.80" stroke="#d6d6d6" stroke-width="0.5"/>
<line x1="179.50" y1="100.60" x2="217.60" y2="100.60" stroke="#d6d6d6" stroke-width="0.5"/>
<line x1="179.50" y1="109.40" x2="217.60" y2="109.40" stroke="#d6d6d6" stroke-width="0.5"/>
<line x1="179.50" y1="118.20" x2="217.60" y2="118.20" stroke="#d6d6d6" stroke-width="0.5"/>
<line x1="179.50" y1="127.00" x2="217.60" y2="127.00" stroke="#d6d6d6" stroke-width="0.5"/>
<line x1="179.50" y1="135.80" x2="217.60" y2="135.80" stroke="#d6d6d6" stroke-width="0.5"/>
<line x1="179.50" y1="144.60" x2="217.60" y2="144.60" stroke="#d6d6d6" stroke-width="0.5"/>
<line x1="192.50" y1="83.00" x2="192.50" y2="153.40" stroke="#d6d6d6" stroke-width="0.5"/>
<line x1="204.60" y1="83.00" x2="204.60" y2="153.40" stroke="#d6d6d6" stroke-width="0.5"/>
<line x1="216.70" y1="83.00" x2="216.70" y2="153.40" stroke="#d6d6d6" stroke-width="0.5"/>
<linearGradient id="g71" gradientUnits="userSpaceOnUse" x1="179.50" y1="0" x2="217.60" y2="0">
<stop offset="0.0000" stop-color="#ffffff" stop-opacity="0"/>
<stop offset="0.1162" stop-color="#ffffff" stop-opacity="0"/>
<stop offset="0.1422" stop-color="#808080"/>
<stop offset="0.1683" stop-color="#ffffff" stop-opacity="0"/>
<stop offset="1.0000" stop-color="#ffffff" stop-opacity="0"/>
</linearGradient>
<rect x="179.50" y="83.00" width="38.10" height="6.08" fill="url(#g71)"/>
<linearGradient id="g72" gradientUnits="userSpaceOnUse" x1="179.50" y1="0" x2="217.60" y2="0">
<stop offset="0.0000" stop-color="#ffffff" stop-opacity="0"/>
<stop offset="0.1292" stop-color="#ffffff" stop-opacity="0"/>
<stop offset="0.1475" stop-color="#0000ff"/>
<stop offset="0.1735" stop-color="#00ffff"/>
<stop offset="0.1995" stop-color="#ffa000"/>
<stop offset="0.2151" stop-color="#ff0000"/>
<stop offset="0.2333" stop-color="#808080"/>
<stop offset="0.2541" stop-color="#ffff00"/>
<stop offset="0.2775" stop-color="#00ffff"/>
<stop offset="0.3035" stop-color="#0000ff"/>
<stop offset="0.3295" stop-color="#aeaeff"/>
<stop offset="0.3504" stop-color="#ffffff" stop-opacity="0"/>
<stop offset="1.0000" stop-color="#ffffff" stop-opacity="0"/>
</linearGradient>
<rect x="179.50" y="88.43" width="38.10" height="8.08" fill="url(#g72)"/>
<linearGradient id="g73" gradientUnits="userSpaceOnUse" x1="179.50" y1="0" x2="217.60" y2="0">
<stop offset="0.0000" stop-color="#ffffff" stop-opacity="0"/>
<stop offset="0.2333" stop-color="#ffffff" stop-opacity="0"/>
<stop offset="0.2515" stop-color="#0000ff"/>
<stop offset="0.2905" stop-color="#00ffff"/>
<stop offset="0.3243" stop-color="#808080"/>
<stop offset="0.3556" stop-color="#808080"/>
<stop offset="0.3816" stop-color="#ff0000"/>
<stop offset="0.4232" stop-color="#ffff00"/>
<stop offset="0.4596" stop-color="#00ffff"/>
<stop offset="0.4934" stop-color="#0000ff"/>
<stop offset="0.5272" stop-color="#aeaeff"/>
<stop offset="0.5532" stop-color="#ffffff" stop-opacity="0"/>
<stop offset="1.0000" stop-color="#ffffff" stop-opacity="0"/>
</linearGradient>
<rect x="179.50" y="95.87" width="38.10" height="5.61" fill="url(#g73)"/>
<linearGradient id="g74" gradientUnits="userSpaceOnUse" x1="179.50" y1="0" x2="217.60" y2="0">
<stop offset="0.0000" stop-color="#ffffff" stop-opacity="0"/>
<stop offset="0.2723" stop-color="#ffffff" stop-opacity="0"/>
<stop offset="0.3035" stop-color="#0000ff"/>
<stop offset="0.3504" stop-color="#00ffff"/>
<stop offset="0.3894" stop-color="#808080"/>
<stop offset="0.4154" stop-color="#808080"/>
<stop offset="0.4414" stop-color="#ff0000"/>
<stop offset="0.4804" stop-color="#b00000"/>
<stop offset="0.5194" stop-color="#ffff00"/>
<stop offset="0.5637" stop-color="#00ffff"/>
<stop offset="0.6157" stop-color="#0000ff"/>
<stop offset="0.6885" stop-color="#0000ff"/>
<stop offset="0.7275" stop-color="#aeaeff"/>
<stop offset="0.7666" stop-color="#ffffff" stop-opacity="0"/>
<stop offset="1.0000" stop-color="#ffffff" stop-opacity="0"/>
</linearGradient>
<rect x="179.50" y="100.82" width="38.10" height="3.83" fill="url(#g74)"/>
<linearGradient id="g75" gradientUnits="userSpaceOnUse" x1="179.50" y1="0" x2="217.60" y2="0">
<stop offset="0.0000" stop-color="#ffffff" stop-opacity="0"/>
<stop offset="0.2983" stop-color="#ffffff" stop-opacity="0"/>
<stop offset="0.3373" stop-color="#00ffff"/>
<stop offset="0.3894" stop-color="#808080"/>
<stop offset="0.4284" stop-color="#ff0000"/>
<stop offset="0.5064" stop-color="#b00000"/>
<stop offset="0.5897" stop-color="#ffff00"/>
<stop offset="0.6417" stop-color="#00ffff"/>
<stop offset="0.7015" stop-color="#0000ff"/>
<stop offset="0.7666" stop-color="#0000a0"/>
<stop offset="0.9747" stop-color="#0000ff"/>
<stop offset="1.0000" stop-color="#0000ff"/>
</linearGradient>
<rect x="179.50" y="104.00" width="38.10" height="2.63" fill="url(#g75)"/>
<linearGradient id="g76" gradientUnits="userSpaceOnUse" x1="179.50" y1="0" x2="217.60" y2="0">
<stop offset="0.0000" stop-color="#ffffff" stop-opacity="0"/>
<stop offset="0.1943" stop-color="#ffffff" stop-opacity="0"/>
<stop offset="0.2333" stop-color="#0000ff"/>
<stop offset="0.2983" stop-color="#00ffff"/>
<stop offset="0.3634" stop-color="#00ffff"/>
<stop offset="0.4024" stop-color="#ffff00"/>
<stop offset="0.4466" stop-color="#808080"/>
<stop offset="0.4934" stop-color="#b00000"/>
<stop offset="0.5454" stop-color="#ffff00"/>
<stop offset="0.6157" stop-color="#00ffff"/>
<stop offset="0.6885" stop-color="#0000ff"/>
<stop offset="0.7275" stop-color="#d2d2ff"/>
<stop offset="0.7535" stop-color="#ffffff" stop-opacity="0"/>
<stop offset="0.9356" stop-color="#ffffff" stop-opacity="0"/>
<stop offset="0.9747" stop-color="#0000ff"/>
<stop offset="1.0000" stop-color="#0000ff"/>
</linearGradient>
<rect x="179.50" y="105.98" width="38.10" height="4.12" fill="url(#g76)"/>
<linearGradient id="g77" gradientUnits="userSpaceOnUse" x1="179.50" y1="0" x2="217.60" y2="0">
<stop offset="0.0000" stop-color="#ffffff" stop-opacity="0"/>
<stop offset="0.2723" stop-color="#ffffff" stop-opacity="0"/>
<stop offset="0.3113" stop-color="#0000ff"/>
<stop offset="0.3764" stop-color="#0000ff"/>
<stop offset="0.4284" stop-color="#00ffff"/>
<stop offset="0.4856" stop-color="#ffff00"/>
<stop offset="0.5324" stop-color="#808080"/>
<stop offset="0.5897" stop-color="#ffa000"/>
<stop offset="0.6625" stop-color="#ff0000"/>
<stop offset="0.7275" stop-color="#b00000"/>
<stop offset="0.7926" stop-color="#ffa000"/>
<stop offset="0.8446" stop-color="#ffff00"/>
<stop offset="0.9018" stop-color="#00ffff"/>
<stop offset="0.9486" stop-color="#0000ff"/>
<stop offset="1.0000" stop-color="#0000ff"/>
</linearGradient>
<rect x="179.50" y="109.45" width="38.10" height="7.09" fill="url(#g77)"/>
<linearGradient id="g78" gradientUnits="userSpaceOnUse" x1="179.50" y1="0" x2="217.60" y2="0">
<stop offset="0.0000" stop-color="#ffffff" stop-opacity="0"/>
<stop offset="0.2723" stop-color="#ffffff" stop-opacity="0"/>
<stop offset="0.3113" stop-color="#0000ff"/>
<stop offset="0.3764" stop-color="#0000ff"/>
<stop offset="0.4284" stop-color="#00ffff"/>
<stop offset="0.4934" stop-color="#ffff00"/>
<stop offset="0.5454" stop-color="#808080"/>
<stop offset="0.6105" stop-color="#ffa000"/>
<stop offset="0.6885" stop-color="#ff0000"/>
<stop offset="0.7535" stop-color="#b00000"/>
<stop offset="0.8316" stop-color="#ff0000"/>
<stop offset="0.8836" stop-color="#ffa000"/>
<stop offset="0.9226" stop-color="#ffff00"/>
<stop offset="0.9616" stop-color="#00ffff"/>
<stop offset="1.0000" stop-color="#0000ff"/>
</linearGradient>
<rect x="179.50" y="115.89" width="38.10" height="5.11" fill="url(#g78)"/>
<linearGradient id="g79" gradientUnits="userSpaceOnUse" x1="179.50" y1="0" x2="217.60" y2="0">
<stop offset="0.0000" stop-color="#ffffff" stop-opacity="0"/>
<stop offset="0.2073" stop-color="#ffffff" stop-opacity="0"/>
<stop offset="0.2411" stop-color="#0000ff"/>
<stop offset="0.2983" stop-color="#00ffff"/>
<stop offset="0.3556" stop-color="#00ffff"/>
<stop offset="0.3972" stop-color="#ffff00"/>
<stop offset="0.4414" stop-color="#ff0000"/>
<stop offset="0.4934" stop-color="#b00000"/>
<stop offset="0.5402" stop-color="#808080"/>
<stop offset="0.5845" stop-color="#ffff00"/>
<stop offset="0.6625" stop-color="#ffa000"/>
<stop offset="0.7405" stop-color="#ffff00"/>
<stop offset="0.8056" stop-color="#ffff00"/>
<stop offset="0.8576" stop-color="#80ff80"/>
<stop offset="0.9226" stop-color="#00ffff"/>
<stop offset="1.0000" stop-color="#0080ff"/>
</linearGradient>
<rect x="179.50" y="120.35" width="38.10" height="9.30" fill="url(#g79)"/>
<linearGradient id="g80" gradientUnits="userSpaceOnUse" x1="179.50" y1="0" x2="217.60" y2="0">
<stop offset="0.0000" stop-color="#ffffff" stop-opacity="0"/>
<stop offset="0.2073" stop-color="#ffffff" stop-opacity="0"/>
<stop offset="0.2411" stop-color="#0000ff"/>
<stop offset="0.2983" stop-color="#00ffff"/>
<stop offset="0.3556" stop-color="#00ffff"/>
<stop offset="0.3972" stop-color="#ffff00"/>
<stop offset="0.4414" stop-color="#ff0000"/>
<stop offset="0.5012" stop-color="#b00000"/>
<stop offset="0.5454" stop-color="#ffa000"/>
<stop offset="0.5715" stop-color="#808080"/>
<stop offset="0.6105" stop-color="#ffff00"/>
<stop offset="0.6885" stop-color="#ffa000"/>
<stop offset="0.7666" stop-color="#ffff00"/>
<stop offset="0.8316" stop-color="#ffff00"/>
<stop offset="0.8966" stop-color="#00ffff"/>
<stop offset="0.9486" stop-color="#0080ff"/>
<stop offset="1.0000" stop-color="#0000ff"/>
</linearGradient>
<rect x="179.50" y="129.00" width="38.10" height="8.58" fill="url(#g80)"/>
<linearGradient id="g81" gradientUnits="userSpaceOnUse" x1="179.50" y1="0" x2="217.60" y2="0">
<stop offset="0.0000" stop-color="#ffffff" stop-opacity="0"/>
<stop offset="0.1553" stop-color="#ffffff" stop-opacity="0"/>
<stop offset="0.1943" stop-color="#0000ff"/>
<stop offset="0.2593" stop-color="#00ffff"/>
<stop offset="0.3243" stop-color="#00ffff"/>
<stop offset="0.3764" stop-color="#ffff00"/>
<stop offset="0.4284" stop-color="#ffa000"/>
<stop offset="0.4934" stop-color="#ff0000"/>
<stop offset="0.5454" stop-color="#b00000"/>
<stop offset="0.6105" stop-color="#808080"/>
<stop offset="0.6885" stop-color="#ff0000"/>
<stop offset="0.7666" stop-color="#b00000"/>
<stop offset="0.8446" stop-color="#ff0000"/>
<stop offset="0.9096" stop-color="#ffff00"/>
<stop offset="0.9486" stop-color="#00ffff"/>
<stop offset="1.0000" stop-color="#00ffff"/>
</linearGradient>
<rect x="179.50" y="136.93" width="38.10" height="6.60" fill="url(#g81)"/>
<linearGradient id="g82" gradientUnits="userSpaceOnUse" x1="179.50" y1="0" x2="217.60" y2="0">
<stop offset="0.0000" stop-color="#ffffff" stop-opacity="0"/>
<stop offset="0.0512" stop-color="#e8e8ff"/>
<stop offset="0.1032" stop-color="#d2d2ff"/>
<stop offset="0.1553" stop-color="#0000ff"/>
<stop offset="0.2333" stop-color="#0000ff"/>
<stop offset="0.2983" stop-color="#00ffff"/>
<stop offset="0.3556" stop-color="#80ff80"/>
<stop offset="0.4024" stop-color="#ffff00"/>
<stop offset="0.4544" stop-color="#ffa000"/>
<stop offset="0.5194" stop-color="#ff0000"/>
<stop offset="0.5845" stop-color="#b00000"/>
<stop offset="0.6365" stop-color="#ff0000"/>
<stop offset="0.6625" stop-color="#808080"/>
<stop offset="0.7015" stop-color="#ff0000"/>
<stop offset="0.7666" stop-color="#ff0000"/>
<stop offset="0.8186" stop-color="#ffa000"/>
<stop offset="0.8836" stop-color="#ffff00"/>
<stop offset="0.9486" stop-color="#ffff00"/>
<stop offset="1.0000" stop-color="#ffff00"/>
</linearGradient>
<rect x="179.50" y="142.88" width="38.10" height="10.57" fill="url(#g82)"/>
<polyline points="184.90,83.00 184.90,87.40 186.90,88.90 187.90,90.90 188.40,95.90 192.40,97.40 193.30,100.80 194.80,102.80 195.30,104.00 196.80,107.00 199.80,110.00 200.30,115.90 200.30,129.00 201.30,129.50 201.30,136.90 203.80,139.90 204.70,142.90 204.70,153.40" fill="none" stroke="#333333" stroke-width="1.8" stroke-linejoin="miter"/>
<polyline points="184.90,83.00 184.90,87.40 186.90,88.90 187.90,90.90 188.40,95.90 192.40,97.40 193.30,100.80 194.80,102.80 195.30,104.00 196.80,107.00 199.80,110.00 200.30,115.90 200.30,129.00 201.30,129.50 201.30,136.90 203.80,139.90 204.70,142.90 204.70,153.40" fill="none" stroke="#a8a8a8" stroke-width="0.85" stroke-linejoin="miter"/>
<rect x="179.50" y="83.00" width="38.10" height="70.40" fill="none" stroke="#262626" stroke-width="0.6"/>
<path d="M179.50 91.80h0.90M217.60 91.80h-0.90M179.50 100.60h0.90M217.60 100.60h-0.90M179.50 109.40h0.90M217.60 109.40h-0.90M179.50 118.20h0.90M217.60 118.20h-0.90M179.50 127.00h0.90M217.60 127.00h-0.90M179.50 135.80h0.90M217.60 135.80h-0.90M179.50 144.60h0.90M217.60 144.60h-0.90M192.50 83.00v0.90M192.50 153.40v-0.90M204.60 83.00v0.90M204.60 153.40v-0.90M216.70 83.00v0.90M216.70 153.40v-0.90" stroke="#262626" stroke-width="0.5" fill="none"/>
<line x1="223.10" y1="91.80" x2="260.80" y2="91.80" stroke="#d6d6d6" stroke-width="0.5"/>
<line x1="223.10" y1="100.60" x2="260.80" y2="100.60" stroke="#d6d6d6" stroke-width="0.5"/>
<line x1="223.10" y1="109.40" x2="260.80" y2="109.40" stroke="#d6d6d6" stroke-width="0.5"/>
<line x1="223.10" y1="118.20" x2="260.80" y2="118.20" stroke="#d6d6d6" stroke-width="0.5"/>
<line x1="223.10" y1="127.00" x2="260.80" y2="127.00" stroke="#d6d6d6" stroke-width="0.5"/>
<line x1="223.10" y1="135.80" x2="260.80" y2="135.80" stroke="#d6d6d6" stroke-width="0.5"/>
<line x1="223.10" y1="144.60" x2="260.80" y2="144.60" stroke="#d6d6d6" stroke-width="0.5"/>
<line x1="232.70" y1="83.00" x2="232.70" y2="153.40" stroke="#d6d6d6" stroke-width="0.5"/>
<line x1="242.30" y1="83.00" x2="242.30" y2="153.40" stroke="#d6d6d6" stroke-width="0.5"/>
<line x1="251.90" y1="83.00" x2="251.90" y2="153.40" stroke="#d6d6d6" stroke-width="0.5"/>
<linearGradient id="g83" gradientUnits="userSpaceOnUse" x1="223.10" y1="0" x2="260.80" y2="0">
<stop offset="0.0000" stop-color="#ffffff" stop-opacity="0"/>
<stop offset="0.7196" stop-color="#ffffff" stop-opacity="0"/>
<stop offset="0.7380" stop-color="#0000ff"/>
<stop offset="0.7590" stop-color="#808080"/>
<stop offset="0.7800" stop-color="#0000ff"/>
<stop offset="0.7984" stop-color="#ffffff" stop-opacity="0"/>
<stop offset="1.0000" stop-color="#ffffff" stop-opacity="0"/>
</linearGradient>
<rect x="223.10" y="83.00" width="37.70" height="7.07" fill="url(#g83)"/>
<linearGradient id="g84" gradientUnits="userSpaceOnUse" x1="223.10" y1="0" x2="260.80" y2="0">
<stop offset="0.0000" stop-color="#ffffff" stop-opacity="0"/>
<stop offset="0.3778" stop-color="#ffffff" stop-opacity="0"/>
<stop offset="0.4173" stop-color="#d2d2ff"/>
<stop offset="0.4567" stop-color="#0000ff"/>
<stop offset="0.4909" stop-color="#00ffff"/>
<stop offset="0.5277" stop-color="#ffff00"/>
<stop offset="0.5618" stop-color="#ff0000"/>
<stop offset="0.5881" stop-color="#808080"/>
<stop offset="0.6144" stop-color="#00ffff"/>
<stop offset="0.6407" stop-color="#0000ff"/>
<stop offset="0.6801" stop-color="#0000ff"/>
<stop offset="0.7117" stop-color="#e8e8ff"/>
<stop offset="0.7380" stop-color="#ffffff" stop-opacity="0"/>
<stop offset="1.0000" stop-color="#ffffff" stop-opacity="0"/>
</linearGradient>
<rect x="223.10" y="89.42" width="37.70" height="7.09" fill="url(#g84)"/>
<linearGradient id="g85" gradientUnits="userSpaceOnUse" x1="223.10" y1="0" x2="260.80" y2="0">
<stop offset="0.0000" stop-color="#0080ff"/>
<stop offset="0.0492" stop-color="#00ffff"/>
<stop offset="0.1018" stop-color="#0080ff"/>
<stop offset="0.1544" stop-color="#00ffff"/>
<stop offset="0.2069" stop-color="#0080ff"/>
<stop offset="0.2595" stop-color="#00ffff"/>
<stop offset="0.3384" stop-color="#00ffff"/>
<stop offset="0.3857" stop-color="#ffff00"/>
<stop offset="0.4225" stop-color="#ff0000"/>
<stop offset="0.4567" stop-color="#ff0000"/>
<stop offset="0.5014" stop-color="#808080"/>
<stop offset="0.5434" stop-color="#ff0000"/>
<stop offset="0.5750" stop-color="#ffff00"/>
<stop offset="0.6065" stop-color="#00ffff"/>
<stop offset="0.6328" stop-color="#0000ff"/>
<stop offset="0.6801" stop-color="#0000ff"/>
<stop offset="0.7196" stop-color="#e8e8ff"/>
<stop offset="0.7459" stop-color="#ffffff" stop-opacity="0"/>
<stop offset="1.0000" stop-color="#ffffff" stop-opacity="0"/>
</linearGradient>
<rect x="223.10" y="95.87" width="37.70" height="5.61" fill="url(#g85)"/>
<linearGradient id="g86" gradientUnits="userSpaceOnUse" x1="223.10" y1="0" x2="260.80" y2="0">
<stop offset="0.0000" stop-color="#0000ff"/>
<stop offset="0.0361" stop-color="#0080ff"/>
<stop offset="0.1018" stop-color="#00ffff"/>
<stop offset="0.1544" stop-color="#0080ff"/>
<stop offset="0.2069" stop-color="#00ffff"/>
<stop offset="0.2595" stop-color="#0080ff"/>
<stop offset="0.3121" stop-color="#00ffff"/>
<stop offset="0.3778" stop-color="#00ffff"/>
<stop offset="0.4173" stop-color="#ffa000"/>
<stop offset="0.4567" stop-color="#808080"/>
<stop offset="0.4961" stop-color="#ff0000"/>
<stop offset="0.5487" stop-color="#ffff00"/>
<stop offset="0.5881" stop-color="#00ffff"/>
<stop offset="0.6223" stop-color="#0000ff"/>
<stop offset="0.6801" stop-color="#0000ff"/>
<stop offset="0.7064" stop-color="#ffffff" stop-opacity="0"/>
<stop offset="1.0000" stop-color="#ffffff" stop-opacity="0"/>
</linearGradient>
<rect x="223.10" y="100.82" width="37.70" height="3.83" fill="url(#g86)"/>
<linearGradient id="g87" gradientUnits="userSpaceOnUse" x1="223.10" y1="0" x2="260.80" y2="0">
<stop offset="0.0000" stop-color="#0080ff"/>
<stop offset="0.0755" stop-color="#00ffff"/>
<stop offset="0.1807" stop-color="#0080ff"/>
<stop offset="0.2858" stop-color="#00ffff"/>
<stop offset="0.3778" stop-color="#00ffff"/>
<stop offset="0.4120" stop-color="#ffa000"/>
<stop offset="0.4567" stop-color="#808080"/>
<stop offset="0.5093" stop-color="#ffff00"/>
<stop offset="0.5618" stop-color="#00ffff"/>
<stop offset="0.6065" stop-color="#0000ff"/>
<stop offset="0.6670" stop-color="#0000ff"/>
<stop offset="0.6933" stop-color="#ffffff" stop-opacity="0"/>
<stop offset="1.0000" stop-color="#ffffff" stop-opacity="0"/>
</linearGradient>
<rect x="223.10" y="104.00" width="37.70" height="2.14" fill="url(#g87)"/>
<linearGradient id="g88" gradientUnits="userSpaceOnUse" x1="223.10" y1="0" x2="260.80" y2="0">
<stop offset="0.0000" stop-color="#ff0000"/>
<stop offset="0.0361" stop-color="#ff0000"/>
<stop offset="0.1281" stop-color="#b00000"/>
<stop offset="0.2332" stop-color="#ff0000"/>
<stop offset="0.3121" stop-color="#b00000"/>
<stop offset="0.3647" stop-color="#ff0000"/>
<stop offset="0.4041" stop-color="#ffa000"/>
<stop offset="0.4435" stop-color="#808080"/>
<stop offset="0.4830" stop-color="#ffff00"/>
<stop offset="0.5172" stop-color="#ff0000"/>
<stop offset="0.5434" stop-color="#ffa000"/>
<stop offset="0.5671" stop-color="#00ffff"/>
<stop offset="0.6013" stop-color="#0000ff"/>
<stop offset="0.6328" stop-color="#0000ff"/>
<stop offset="0.6539" stop-color="#ffffff" stop-opacity="0"/>
<stop offset="1.0000" stop-color="#ffffff" stop-opacity="0"/>
</linearGradient>
<rect x="223.10" y="105.49" width="37.70" height="4.61" fill="url(#g88)"/>
<linearGradient id="g89" gradientUnits="userSpaceOnUse" x1="223.10" y1="0" x2="260.80" y2="0">
<stop offset="0.0000" stop-color="#0080ff"/>
<stop offset="0.0361" stop-color="#00ffff"/>
<stop offset="0.1807" stop-color="#00ffff"/>
<stop offset="0.2201" stop-color="#80ff80"/>
<stop offset="0.2543" stop-color="#ffff00"/>
<stop offset="0.2990" stop-color="#ffa000"/>
<stop offset="0.3515" stop-color="#ff0000"/>
<stop offset="0.4041" stop-color="#808080"/>
<stop offset="0.4435" stop-color="#b00000"/>
<stop offset="0.4961" stop-color="#ff0000"/>
<stop offset="0.5277" stop-color="#ffff00"/>
<stop offset="0.5540" stop-color="#00ffff"/>
<stop offset="0.5802" stop-color="#0000ff"/>
<stop offset="0.6144" stop-color="#0000ff"/>
<stop offset="0.6328" stop-color="#ffffff" stop-opacity="0"/>
<stop offset="1.0000" stop-color="#ffffff" stop-opacity="0"/>
</linearGradient>
<rect x="223.10" y="109.45" width="37.70" height="9.07" fill="url(#g89)"/>
<linearGradient id="g90" gradientUnits="userSpaceOnUse" x1="223.10" y1="0" x2="260.80" y2="0">
<stop offset="0.0000" stop-color="#ff0000"/>
<stop offset="0.0361" stop-color="#ffa000"/>
<stop offset="0.1281" stop-color="#ffff00"/>
<stop offset="0.2069" stop-color="#ffa000"/>
<stop offset="0.2464" stop-color="#ff0000"/>
<stop offset="0.3647" stop-color="#ff0000"/>
<stop offset="0.3910" stop-color="#808080"/>
<stop offset="0.4304" stop-color="#ff0000"/>
<stop offset="0.4698" stop-color="#ff0000"/>
<stop offset="0.5014" stop-color="#ffff00"/>
<stop offset="0.5224" stop-color="#00ffff"/>
<stop offset="0.5487" stop-color="#0000ff"/>
<stop offset="0.5750" stop-color="#0000ff"/>
<stop offset="0.5960" stop-color="#ffffff" stop-opacity="0"/>
<stop offset="1.0000" stop-color="#ffffff" stop-opacity="0"/>
</linearGradient>
<rect x="223.10" y="117.88" width="37.70" height="3.13" fill="url(#g90)"/>
<linearGradient id="g91" gradientUnits="userSpaceOnUse" x1="223.10" y1="0" x2="260.80" y2="0">
<stop offset="0.0000" stop-color="#ff0000"/>
<stop offset="0.0492" stop-color="#b00000"/>
<stop offset="0.1281" stop-color="#ff0000"/>
<stop offset="0.2069" stop-color="#b00000"/>
<stop offset="0.2858" stop-color="#ff0000"/>
<stop offset="0.3515" stop-color="#ff0000"/>
<stop offset="0.3831" stop-color="#808080"/>
<stop offset="0.4120" stop-color="#00ffff"/>
<stop offset="0.4357" stop-color="#0000ff"/>
<stop offset="0.4619" stop-color="#0000ff"/>
<stop offset="0.4830" stop-color="#ffffff" stop-opacity="0"/>
<stop offset="1.0000" stop-color="#ffffff" stop-opacity="0"/>
</linearGradient>
<rect x="223.10" y="120.35" width="37.70" height="9.30" fill="url(#g91)"/>
<linearGradient id="g92" gradientUnits="userSpaceOnUse" x1="223.10" y1="0" x2="260.80" y2="0">
<stop offset="0.0000" stop-color="#ff0000"/>
<stop offset="0.0492" stop-color="#b00000"/>
<stop offset="0.1281" stop-color="#ff0000"/>
<stop offset="0.2069" stop-color="#b00000"/>
<stop offset="0.2858" stop-color="#ff0000"/>
<stop offset="0.3331" stop-color="#ffa000"/>
<stop offset="0.3699" stop-color="#808080"/>
<stop offset="0.3962" stop-color="#00ffff"/>
<stop offset="0.4225" stop-color="#0000ff"/>
<stop offset="0.4435" stop-color="#0000ff"/>
<stop offset="0.4646" stop-color="#ffffff" stop-opacity="0"/>
<stop offset="1.0000" stop-color="#ffffff" stop-opacity="0"/>
</linearGradient>
<rect x="223.10" y="129.00" width="37.70" height="9.57" fill="url(#g92)"/>
<linearGradient id="g93" gradientUnits="userSpaceOnUse" x1="223.10" y1="0" x2="260.80" y2="0">
<stop offset="0.0000" stop-color="#48f0c8"/>
<stop offset="0.0755" stop-color="#80ff80"/>
<stop offset="0.1544" stop-color="#48f0c8"/>
<stop offset="0.2464" stop-color="#80ff80"/>
<stop offset="0.2858" stop-color="#ffff00"/>
<stop offset="0.3252" stop-color="#808080"/>
<stop offset="0.3647" stop-color="#00ffff"/>
<stop offset="0.4041" stop-color="#ffff00"/>
<stop offset="0.4567" stop-color="#ff0000"/>
<stop offset="0.5224" stop-color="#b00000"/>
<stop offset="0.5802" stop-color="#ffa000"/>
<stop offset="0.6144" stop-color="#ffff00"/>
<stop offset="0.6407" stop-color="#00ffff"/>
<stop offset="0.6801" stop-color="#0000ff"/>
<stop offset="0.7064" stop-color="#d2d2ff"/>
<stop offset="0.7853" stop-color="#e8e8ff"/>
<stop offset="0.8642" stop-color="#ffffff" stop-opacity="0"/>
<stop offset="1.0000" stop-color="#ffffff" stop-opacity="0"/>
</linearGradient>
<rect x="223.10" y="137.92" width="37.70" height="4.61" fill="url(#g93)"/>
<linearGradient id="g94" gradientUnits="userSpaceOnUse" x1="223.10" y1="0" x2="260.80" y2="0">
<stop offset="0.0000" stop-color="#ffa000"/>
<stop offset="0.0492" stop-color="#ff6000"/>
<stop offset="0.1544" stop-color="#ffa000"/>
<stop offset="0.2069" stop-color="#ff0000"/>
<stop offset="0.2727" stop-color="#ff0000"/>
<stop offset="0.2990" stop-color="#808080"/>
<stop offset="0.3331" stop-color="#ff0000"/>
<stop offset="0.3910" stop-color="#b00000"/>
<stop offset="0.4567" stop-color="#ff0000"/>
<stop offset="0.5014" stop-color="#ffa000"/>
<stop offset="0.5356" stop-color="#ffff00"/>
<stop offset="0.5566" stop-color="#00ffff"/>
<stop offset="0.5881" stop-color="#0000ff"/>
<stop offset="0.6144" stop-color="#0000ff"/>
<stop offset="0.6328" stop-color="#ffffff" stop-opacity="0"/>
<stop offset="1.0000" stop-color="#ffffff" stop-opacity="0"/>
</linearGradient>
<rect x="223.10" y="141.88" width="37.70" height="11.57" fill="url(#g94)"/>
<polyline points="251.70,83.00 251.70,88.40 248.20,89.40 245.80,91.90 245.30,95.90 242.30,98.30 241.30,100.80 240.30,104.00 240.30,107.00 239.30,110.00 238.80,117.90 237.80,120.80 237.50,129.00 237.30,137.90 235.90,139.40 234.90,141.90 234.40,153.40" fill="none" stroke="#333333" stroke-width="1.8" stroke-linejoin="miter"/>
<polyline points="251.70,83.00 251.70,88.40 248.20,89.40 245.80,91.90 245.30,95.90 242.30,98.30 241.30,100.80 240.30,104.00 240.30,107.00 239.30,110.00 238.80,117.90 237.80,120.80 237.50,129.00 237.30,137.90 235.90,139.40 234.90,141.90 234.40,153.40" fill="none" stroke="#a8a8a8" stroke-width="0.85" stroke-linejoin="miter"/>
<rect x="223.10" y="83.00" width="37.70" height="70.40" fill="none" stroke="#262626" stroke-width="0.6"/>
<path d="M223.10 91.80h0.90M260.80 91.80h-0.90M223.10 100.60h0.90M260.80 100.60h-0.90M223.10 109.40h0.90M260.80 109.40h-0.90M223.10 118.20h0.90M260.80 118.20h-0.90M223.10 127.00h0.90M260.80 127.00h-0.90M223.10 135.80h0.90M260.80 135.80h-0.90M223.10 144.60h0.90M260.80 144.60h-0.90M232.70 83.00v0.90M232.70 153.40v-0.90M242.30 83.00v0.90M242.30 153.40v-0.90M251.90 83.00v0.90M251.90 153.40v-0.90" stroke="#262626" stroke-width="0.5" fill="none"/>
<line x1="266.25" y1="91.80" x2="304.50" y2="91.80" stroke="#d6d6d6" stroke-width="0.5"/>
<line x1="266.25" y1="100.60" x2="304.50" y2="100.60" stroke="#d6d6d6" stroke-width="0.5"/>
<line x1="266.25" y1="109.40" x2="304.50" y2="109.40" stroke="#d6d6d6" stroke-width="0.5"/>
<line x1="266.25" y1="118.20" x2="304.50" y2="118.20" stroke="#d6d6d6" stroke-width="0.5"/>
<line x1="266.25" y1="127.00" x2="304.50" y2="127.00" stroke="#d6d6d6" stroke-width="0.5"/>
<line x1="266.25" y1="135.80" x2="304.50" y2="135.80" stroke="#d6d6d6" stroke-width="0.5"/>
<line x1="266.25" y1="144.60" x2="304.50" y2="144.60" stroke="#d6d6d6" stroke-width="0.5"/>
<line x1="285.40" y1="83.00" x2="285.40" y2="153.40" stroke="#d6d6d6" stroke-width="0.5"/>
<linearGradient id="g95" gradientUnits="userSpaceOnUse" x1="266.25" y1="0" x2="304.50" y2="0">
<stop offset="0.0008" stop-color="#ff0000"/>
<stop offset="0.1485" stop-color="#ff0000"/>
<stop offset="0.1744" stop-color="#ffa000"/>
<stop offset="0.2003" stop-color="#808080"/>
<stop offset="0.2391" stop-color="#00ffff"/>
<stop offset="0.2780" stop-color="#80ff80"/>
<stop offset="0.3091" stop-color="#0000ff"/>
<stop offset="0.3350" stop-color="#0000ff"/>
<stop offset="0.3557" stop-color="#ffffff" stop-opacity="0"/>
<stop offset="1.0000" stop-color="#ffffff" stop-opacity="0"/>
</linearGradient>
<rect x="266.25" y="83.00" width="38.25" height="6.58" fill="url(#g95)"/>
<linearGradient id="g96" gradientUnits="userSpaceOnUse" x1="266.25" y1="0" x2="304.50" y2="0">
<stop offset="0.0008" stop-color="#0000ff"/>
<stop offset="0.0448" stop-color="#0000ff"/>
<stop offset="0.0837" stop-color="#00ffff"/>
<stop offset="0.1355" stop-color="#00ffff"/>
<stop offset="0.1744" stop-color="#ffff00"/>
<stop offset="0.2132" stop-color="#808080"/>
<stop offset="0.2573" stop-color="#ffff00"/>
<stop offset="0.3039" stop-color="#ff0000"/>
<stop offset="0.3506" stop-color="#ff0000"/>
<stop offset="0.3817" stop-color="#ffff00"/>
<stop offset="0.4283" stop-color="#00ffff"/>
<stop offset="0.4723" stop-color="#0000ff"/>
<stop offset="0.5112" stop-color="#0000ff"/>
<stop offset="0.5371" stop-color="#ffffff" stop-opacity="0"/>
<stop offset="1.0000" stop-color="#ffffff" stop-opacity="0"/>
</linearGradient>
<rect x="266.25" y="88.93" width="38.25" height="6.60" fill="url(#g96)"/>
<linearGradient id="g97" gradientUnits="userSpaceOnUse" x1="266.25" y1="0" x2="304.50" y2="0">
<stop offset="0.0008" stop-color="#0000ff"/>
<stop offset="0.0448" stop-color="#0000ff"/>
<stop offset="0.0837" stop-color="#00ffff"/>
<stop offset="0.1355" stop-color="#00ffff"/>
<stop offset="0.1873" stop-color="#80ff80"/>
<stop offset="0.2391" stop-color="#ffff00"/>
<stop offset="0.3039" stop-color="#808080"/>
<stop offset="0.3557" stop-color="#ffa000"/>
<stop offset="0.4205" stop-color="#ff0000"/>
<stop offset="0.4853" stop-color="#ffff00"/>
<stop offset="0.5630" stop-color="#00ffff"/>
<stop offset="0.6200" stop-color="#0000ff"/>
<stop offset="0.6796" stop-color="#0080ff"/>
<stop offset="0.7185" stop-color="#ffa000"/>
<stop offset="0.7392" stop-color="#ff0000"/>
<stop offset="0.7651" stop-color="#0000ff"/>
<stop offset="0.7962" stop-color="#ffffff" stop-opacity="0"/>
<stop offset="1.0000" stop-color="#ffffff" stop-opacity="0"/>
</linearGradient>
<rect x="266.25" y="94.88" width="38.25" height="6.60" fill="url(#g97)"/>
<linearGradient id="g98" gradientUnits="userSpaceOnUse" x1="266.25" y1="0" x2="304.50" y2="0">
<stop offset="0.0008" stop-color="#0000ff"/>
<stop offset="0.0578" stop-color="#0000ff"/>
<stop offset="0.0966" stop-color="#00ffff"/>
<stop offset="0.1614" stop-color="#00ffff"/>
<stop offset="0.2262" stop-color="#80ff80"/>
<stop offset="0.2780" stop-color="#ffff00"/>
<stop offset="0.3350" stop-color="#808080"/>
<stop offset="0.3817" stop-color="#ff0000"/>
<stop offset="0.4594" stop-color="#ffa000"/>
<stop offset="0.5371" stop-color="#ffff00"/>
<stop offset="0.6019" stop-color="#00ffff"/>
<stop offset="0.6667" stop-color="#0000ff"/>
<stop offset="0.7703" stop-color="#0000ff"/>
<stop offset="0.8221" stop-color="#0000ff"/>
<stop offset="1.0000" stop-color="#0000ff"/>
</linearGradient>
<rect x="266.25" y="100.82" width="38.25" height="3.83" fill="url(#g98)"/>
<linearGradient id="g99" gradientUnits="userSpaceOnUse" x1="266.25" y1="0" x2="304.50" y2="0">
<stop offset="0.0008" stop-color="#0000ff"/>
<stop offset="0.0578" stop-color="#0080ff"/>
<stop offset="0.1226" stop-color="#00ffff"/>
<stop offset="0.2003" stop-color="#80ff80"/>
<stop offset="0.2780" stop-color="#ffff00"/>
<stop offset="0.3247" stop-color="#ffa000"/>
<stop offset="0.3687" stop-color="#808080"/>
<stop offset="0.4205" stop-color="#ff0000"/>
<stop offset="0.4905" stop-color="#ffa000"/>
<stop offset="0.5630" stop-color="#ffff00"/>
<stop offset="0.6200" stop-color="#00ffff"/>
<stop offset="0.6796" stop-color="#0000ff"/>
<stop offset="0.7703" stop-color="#0000ff"/>
<stop offset="0.8221" stop-color="#aeaeff"/>
<stop offset="1.0000" stop-color="#e8e8ff"/>
</linearGradient>
<rect x="266.25" y="104.00" width="38.25" height="2.63" fill="url(#g99)"/>
<linearGradient id="g100" gradientUnits="userSpaceOnUse" x1="266.25" y1="0" x2="304.50" y2="0">
<stop offset="0.0008" stop-color="#b00000"/>
<stop offset="0.0578" stop-color="#b00000"/>
<stop offset="0.1744" stop-color="#ff0000"/>
<stop offset="0.2262" stop-color="#ffa000"/>
<stop offset="0.2651" stop-color="#ffff00"/>
<stop offset="0.3169" stop-color="#00ffff"/>
<stop offset="0.3765" stop-color="#808080"/>
<stop offset="0.4205" stop-color="#00ffff"/>
<stop offset="0.4594" stop-color="#0000ff"/>
<stop offset="0.5112" stop-color="#0000ff"/>
<stop offset="0.5630" stop-color="#e8e8ff"/>
<stop offset="0.6149" stop-color="#ffffff" stop-opacity="0"/>
<stop offset="1.0000" stop-color="#ffffff" stop-opacity="0"/>
</linearGradient>
<rect x="266.25" y="105.98" width="38.25" height="3.62" fill="url(#g100)"/>
<linearGradient id="g101" gradientUnits="userSpaceOnUse" x1="266.25" y1="0" x2="304.50" y2="0">
<stop offset="0.0008" stop-color="#0000ff"/>
<stop offset="0.0707" stop-color="#0000a0"/>
<stop offset="0.1873" stop-color="#0000ff"/>
<stop offset="0.2391" stop-color="#00ffff"/>
<stop offset="0.3298" stop-color="#00ffff"/>
<stop offset="0.3687" stop-color="#80ff80"/>
<stop offset="0.4024" stop-color="#808080"/>
<stop offset="0.4387" stop-color="#ffff00"/>
<stop offset="0.4723" stop-color="#b00000"/>
<stop offset="0.5164" stop-color="#ffa000"/>
<stop offset="0.5578" stop-color="#ffff00"/>
<stop offset="0.5941" stop-color="#00ffff"/>
<stop offset="0.6537" stop-color="#0000ff"/>
<stop offset="0.7703" stop-color="#0000ff"/>
<stop offset="0.8221" stop-color="#e8e8ff"/>
<stop offset="0.8740" stop-color="#ffffff" stop-opacity="0"/>
<stop offset="1.0000" stop-color="#ffffff" stop-opacity="0"/>
</linearGradient>
<rect x="266.25" y="108.96" width="38.25" height="7.59" fill="url(#g101)"/>
<linearGradient id="g102" gradientUnits="userSpaceOnUse" x1="266.25" y1="0" x2="304.50" y2="0">
<stop offset="0.0008" stop-color="#d2d2ff"/>
<stop offset="0.0448" stop-color="#ffffff" stop-opacity="0"/>
<stop offset="0.1226" stop-color="#ffffff" stop-opacity="0"/>
<stop offset="0.1614" stop-color="#0000ff"/>
<stop offset="0.2262" stop-color="#00ffff"/>
<stop offset="0.3298" stop-color="#80ff80"/>
<stop offset="0.3946" stop-color="#808080"/>
<stop offset="0.4464" stop-color="#ff0000"/>
<stop offset="0.4983" stop-color="#ffa000"/>
<stop offset="0.5423" stop-color="#ffff00"/>
<stop offset="0.5941" stop-color="#00ffff"/>
<stop offset="0.6537" stop-color="#0000ff"/>
<stop offset="0.7703" stop-color="#0000ff"/>
<stop offset="0.8351" stop-color="#e8e8ff"/>
<stop offset="0.8999" stop-color="#ffffff" stop-opacity="0"/>
<stop offset="1.0000" stop-color="#ffffff" stop-opacity="0"/>
</linearGradient>
<rect x="266.25" y="115.89" width="38.25" height="4.61" fill="url(#g102)"/>
<linearGradient id="g103" gradientUnits="userSpaceOnUse" x1="266.25" y1="0" x2="304.50" y2="0">
<stop offset="0.0008" stop-color="#0080ff"/>
<stop offset="0.0578" stop-color="#00ffff"/>
<stop offset="0.1485" stop-color="#80ff80"/>
<stop offset="0.2132" stop-color="#ffff00"/>
<stop offset="0.2780" stop-color="#ffa000"/>
<stop offset="0.3298" stop-color="#ff0000"/>
<stop offset="0.3765" stop-color="#ffff00"/>
<stop offset="0.4283" stop-color="#808080"/>
<stop offset="0.4723" stop-color="#ff0000"/>
<stop offset="0.5242" stop-color="#ffa000"/>
<stop offset="0.5760" stop-color="#ff0000"/>
<stop offset="0.6278" stop-color="#ffff00"/>
<stop offset="0.6926" stop-color="#00ffff"/>
<stop offset="0.7574" stop-color="#0000ff"/>
<stop offset="0.8351" stop-color="#0000ff"/>
<stop offset="0.8869" stop-color="#e8e8ff"/>
<stop offset="0.9387" stop-color="#ffffff" stop-opacity="0"/>
<stop offset="1.0000" stop-color="#ffffff" stop-opacity="0"/>
</linearGradient>
<rect x="266.25" y="119.86" width="38.25" height="9.79" fill="url(#g103)"/>
<linearGradient id="g104" gradientUnits="userSpaceOnUse" x1="266.25" y1="0" x2="304.50" y2="0">
<stop offset="0.0008" stop-color="#c0ff40"/>
<stop offset="0.0966" stop-color="#ffff00"/>
<stop offset="0.2003" stop-color="#ffff00"/>
<stop offset="0.2651" stop-color="#ffa000"/>
<stop offset="0.3169" stop-color="#ff0000"/>
<stop offset="0.4076" stop-color="#ff0000"/>
<stop offset="0.4464" stop-color="#ffa000"/>
<stop offset="0.4775" stop-color="#808080"/>
<stop offset="0.5242" stop-color="#ff0000"/>
<stop offset="0.5889" stop-color="#ffff00"/>
<stop offset="0.6796" stop-color="#80ff80"/>
<stop offset="0.7574" stop-color="#00ffff"/>
<stop offset="0.8351" stop-color="#0080ff"/>
<stop offset="0.9128" stop-color="#0000ff"/>
<stop offset="0.9646" stop-color="#0000ff"/>
<stop offset="1.0000" stop-color="#e8e8ff"/>
</linearGradient>
<rect x="266.25" y="129.00" width="38.25" height="9.07" fill="url(#g104)"/>
<linearGradient id="g105" gradientUnits="userSpaceOnUse" x1="266.25" y1="0" x2="304.50" y2="0">
<stop offset="0.0008" stop-color="#00ffff"/>
<stop offset="0.0966" stop-color="#00ffff"/>
<stop offset="0.1614" stop-color="#80ff80"/>
<stop offset="0.2132" stop-color="#ffff00"/>
<stop offset="0.2651" stop-color="#ffa000"/>
<stop offset="0.3169" stop-color="#ff0000"/>
<stop offset="0.4205" stop-color="#ff0000"/>
<stop offset="0.4594" stop-color="#ffa000"/>
<stop offset="0.5112" stop-color="#808080"/>
<stop offset="0.5760" stop-color="#ff0000"/>
<stop offset="0.6278" stop-color="#ffa000"/>
<stop offset="0.6796" stop-color="#ffff00"/>
<stop offset="0.7444" stop-color="#00ffff"/>
<stop offset="0.8092" stop-color="#0080ff"/>
<stop offset="0.8869" stop-color="#0000ff"/>
<stop offset="1.0000" stop-color="#0000ff"/>
</linearGradient>
<rect x="266.25" y="137.42" width="38.25" height="6.10" fill="url(#g105)"/>
<linearGradient id="g106" gradientUnits="userSpaceOnUse" x1="266.25" y1="0" x2="304.50" y2="0">
<stop offset="0.0008" stop-color="#00ffff"/>
<stop offset="0.0837" stop-color="#00ffff"/>
<stop offset="0.1485" stop-color="#80ff80"/>
<stop offset="0.2003" stop-color="#ffff00"/>
<stop offset="0.2651" stop-color="#ffa000"/>
<stop offset="0.3298" stop-color="#ff0000"/>
<stop offset="0.4205" stop-color="#ff0000"/>
<stop offset="0.4983" stop-color="#b00000"/>
<stop offset="0.5553" stop-color="#808080"/>
<stop offset="0.5941" stop-color="#ffa000"/>
<stop offset="0.6537" stop-color="#ffff00"/>
<stop offset="0.7185" stop-color="#80ff80"/>
<stop offset="0.7703" stop-color="#00ffff"/>
<stop offset="0.8351" stop-color="#0080ff"/>
<stop offset="0.9128" stop-color="#0000ff"/>
<stop offset="1.0000" stop-color="#0000ff"/>
</linearGradient>
<rect x="266.25" y="142.88" width="38.25" height="10.57" fill="url(#g106)"/>
<polyline points="273.90,83.00 273.90,88.90 274.90,92.90 276.90,95.90 278.90,100.80 279.40,104.00 280.40,105.00 280.80,109.00 281.60,115.90 282.80,123.80 283.30,129.00 284.30,130.00 284.50,137.40 286.80,140.90 287.60,153.40" fill="none" stroke="#333333" stroke-width="1.8" stroke-linejoin="miter"/>
<polyline points="273.90,83.00 273.90,88.90 274.90,92.90 276.90,95.90 278.90,100.80 279.40,104.00 280.40,105.00 280.80,109.00 281.60,115.90 282.80,123.80 283.30,129.00 284.30,130.00 284.50,137.40 286.80,140.90 287.60,153.40" fill="none" stroke="#a8a8a8" stroke-width="0.85" stroke-linejoin="miter"/>
<rect x="266.25" y="83.00" width="38.25" height="70.40" fill="none" stroke="#262626" stroke-width="0.6"/>
<path d="M266.25 91.80h0.90M304.50 91.80h-0.90M266.25 100.60h0.90M304.50 100.60h-0.90M266.25 109.40h0.90M304.50 109.40h-0.90M266.25 118.20h0.90M304.50 118.20h-0.90M266.25 127.00h0.90M304.50 127.00h-0.90M266.25 135.80h0.90M304.50 135.80h-0.90M266.25 144.60h0.90M304.50 144.60h-0.90M285.40 83.00v0.90M285.40 153.40v-0.90" stroke="#262626" stroke-width="0.5" fill="none"/>
<line x1="310.00" y1="91.80" x2="348.00" y2="91.80" stroke="#d6d6d6" stroke-width="0.5"/>
<line x1="310.00" y1="100.60" x2="348.00" y2="100.60" stroke="#d6d6d6" stroke-width="0.5"/>
<line x1="310.00" y1="109.40" x2="348.00" y2="109.40" stroke="#d6d6d6" stroke-width="0.5"/>
<line x1="310.00" y1="118.20" x2="348.00" y2="118.20" stroke="#d6d6d6" stroke-width="0.5"/>
<line x1="310.00" y1="127.00" x2="348.00" y2="127.00" stroke="#d6d6d6" stroke-width="0.5"/>
<line x1="310.00" y1="135.80" x2="348.00" y2="135.80" stroke="#d6d6d6" stroke-width="0.5"/>
<line x1="310.00" y1="144.60" x2="348.00" y2="144.60" stroke="#d6d6d6" stroke-width="0.5"/>
<line x1="318.10" y1="83.00" x2="318.10" y2="153.40" stroke="#d6d6d6" stroke-width="0.5"/>
<line x1="333.10" y1="83.00" x2="333.10" y2="153.40" stroke="#d6d6d6" stroke-width="0.5"/>
<linearGradient id="g107" gradientUnits="userSpaceOnUse" x1="310.00" y1="0" x2="348.00" y2="0">
<stop offset="0.0000" stop-color="#ff0000"/>
<stop offset="0.0775" stop-color="#ffa000"/>
<stop offset="0.1558" stop-color="#ff0000"/>
<stop offset="0.2340" stop-color="#ffa000"/>
<stop offset="0.3383" stop-color="#ff0000"/>
<stop offset="0.4427" stop-color="#ffa000"/>
<stop offset="0.5992" stop-color="#ffa000"/>
<stop offset="0.6644" stop-color="#ff0000"/>
<stop offset="0.7556" stop-color="#b00000"/>
<stop offset="0.8026" stop-color="#ff0000"/>
<stop offset="0.8339" stop-color="#808080"/>
<stop offset="0.8730" stop-color="#ff0000"/>
<stop offset="0.9382" stop-color="#ffa000"/>
<stop offset="1.0000" stop-color="#ff0000"/>
</linearGradient>
<rect x="310.00" y="83.00" width="38.00" height="6.58" fill="url(#g107)"/>
<linearGradient id="g108" gradientUnits="userSpaceOnUse" x1="310.00" y1="0" x2="348.00" y2="0">
<stop offset="0.0000" stop-color="#ffa000"/>
<stop offset="0.0384" stop-color="#ffff00"/>
<stop offset="0.1036" stop-color="#c0ff40"/>
<stop offset="0.1819" stop-color="#80ff80"/>
<stop offset="0.3123" stop-color="#80ff80"/>
<stop offset="0.4166" stop-color="#80ff80"/>
<stop offset="0.4688" stop-color="#ffff00"/>
<stop offset="0.5731" stop-color="#ffff00"/>
<stop offset="0.6383" stop-color="#ffa000"/>
<stop offset="0.7035" stop-color="#ff0000"/>
<stop offset="0.7426" stop-color="#ff0000"/>
<stop offset="0.7817" stop-color="#808080"/>
<stop offset="0.8339" stop-color="#b00000"/>
<stop offset="0.9121" stop-color="#ff0000"/>
<stop offset="0.9513" stop-color="#ffa000"/>
<stop offset="1.0000" stop-color="#ffff00"/>
</linearGradient>
<rect x="310.00" y="88.93" width="38.00" height="6.60" fill="url(#g108)"/>
<linearGradient id="g109" gradientUnits="userSpaceOnUse" x1="310.00" y1="0" x2="348.00" y2="0">
<stop offset="0.0000" stop-color="#ffff00"/>
<stop offset="0.1819" stop-color="#ffff00"/>
<stop offset="0.4427" stop-color="#ffff00"/>
<stop offset="0.5470" stop-color="#ffa000"/>
<stop offset="0.6252" stop-color="#ffa000"/>
<stop offset="0.6774" stop-color="#ff0000"/>
<stop offset="0.7165" stop-color="#808080"/>
<stop offset="0.7687" stop-color="#b00000"/>
<stop offset="0.8339" stop-color="#ff0000"/>
<stop offset="0.9121" stop-color="#ff0000"/>
<stop offset="0.9382" stop-color="#ffff00"/>
<stop offset="0.9643" stop-color="#00ffff"/>
<stop offset="1.0000" stop-color="#0080ff"/>
</linearGradient>
<rect x="310.00" y="94.88" width="38.00" height="5.61" fill="url(#g109)"/>
<linearGradient id="g110" gradientUnits="userSpaceOnUse" x1="310.00" y1="0" x2="348.00" y2="0">
<stop offset="0.0000" stop-color="#ff0000"/>
<stop offset="0.0775" stop-color="#ffa000"/>
<stop offset="0.1558" stop-color="#ff0000"/>
<stop offset="0.2340" stop-color="#ffa000"/>
<stop offset="0.3383" stop-color="#ff0000"/>
<stop offset="0.4427" stop-color="#ffa000"/>
<stop offset="0.5470" stop-color="#ff0000"/>
<stop offset="0.5992" stop-color="#ff0000"/>
<stop offset="0.6305" stop-color="#808080"/>
<stop offset="0.6774" stop-color="#ff0000"/>
<stop offset="0.7296" stop-color="#ffff00"/>
<stop offset="0.7817" stop-color="#00ffff"/>
<stop offset="0.8339" stop-color="#0080ff"/>
<stop offset="0.8991" stop-color="#0000ff"/>
<stop offset="0.9513" stop-color="#0000a0"/>
<stop offset="1.0000" stop-color="#0000ff"/>
</linearGradient>
<rect x="310.00" y="99.83" width="38.00" height="4.82" fill="url(#g110)"/>
<linearGradient id="g111" gradientUnits="userSpaceOnUse" x1="310.00" y1="0" x2="348.00" y2="0">
<stop offset="0.0000" stop-color="#ff0000"/>
<stop offset="0.1819" stop-color="#ffa000"/>
<stop offset="0.4427" stop-color="#ff0000"/>
<stop offset="0.5600" stop-color="#ff0000"/>
<stop offset="0.5992" stop-color="#808080"/>
<stop offset="0.6513" stop-color="#ff0000"/>
<stop offset="0.7035" stop-color="#ffa000"/>
<stop offset="0.7556" stop-color="#ffff00"/>
<stop offset="0.8078" stop-color="#00ffff"/>
<stop offset="0.8600" stop-color="#0000ff"/>
<stop offset="1.0000" stop-color="#0000ff"/>
</linearGradient>
<rect x="310.00" y="104.00" width="38.00" height="2.63" fill="url(#g111)"/>
<linearGradient id="g112" gradientUnits="userSpaceOnUse" x1="310.00" y1="0" x2="348.00" y2="0">
<stop offset="0.0000" stop-color="#48f0c8"/>
<stop offset="0.1819" stop-color="#00ffff"/>
<stop offset="0.5731" stop-color="#48f0c8"/>
<stop offset="0.5992" stop-color="#808080"/>
<stop offset="0.6252" stop-color="#48f0c8"/>
<stop offset="0.8861" stop-color="#48f0c8"/>
<stop offset="0.9252" stop-color="#ffff00"/>
<stop offset="0.9513" stop-color="#ffa000"/>
<stop offset="0.9773" stop-color="#ff0000"/>
<stop offset="1.0000" stop-color="#ff0000"/>
</linearGradient>
<rect x="310.00" y="105.98" width="38.00" height="3.62" fill="url(#g112)"/>
<linearGradient id="g113" gradientUnits="userSpaceOnUse" x1="310.00" y1="0" x2="348.00" y2="0">
<stop offset="0.0000" stop-color="#ff0000"/>
<stop offset="0.0775" stop-color="#b00000"/>
<stop offset="0.1819" stop-color="#ff0000"/>
<stop offset="0.2862" stop-color="#b00000"/>
<stop offset="0.3905" stop-color="#ff0000"/>
<stop offset="0.4948" stop-color="#b00000"/>
<stop offset="0.5470" stop-color="#ff0000"/>
<stop offset="0.5679" stop-color="#808080"/>
<stop offset="0.6044" stop-color="#ffa000"/>
<stop offset="0.6644" stop-color="#ffff00"/>
<stop offset="0.7296" stop-color="#ffff00"/>
<stop offset="0.7687" stop-color="#00ffff"/>
<stop offset="0.8208" stop-color="#0080ff"/>
<stop offset="0.8861" stop-color="#0000ff"/>
<stop offset="0.9513" stop-color="#0000a0"/>
<stop offset="0.9773" stop-color="#e8e8ff"/>
<stop offset="1.0000" stop-color="#ffffff" stop-opacity="0"/>
</linearGradient>
<rect x="310.00" y="108.96" width="38.00" height="10.56" fill="url(#g113)"/>
<linearGradient id="g114" gradientUnits="userSpaceOnUse" x1="310.00" y1="0" x2="348.00" y2="0">
<stop offset="0.0000" stop-color="#ff0000"/>
<stop offset="0.1819" stop-color="#b00000"/>
<stop offset="0.3905" stop-color="#ff0000"/>
<stop offset="0.5470" stop-color="#ff0000"/>
<stop offset="0.5679" stop-color="#808080"/>
<stop offset="0.6122" stop-color="#ff0000"/>
<stop offset="0.7035" stop-color="#ffa000"/>
<stop offset="0.7948" stop-color="#ffa000"/>
<stop offset="0.8469" stop-color="#ffff00"/>
<stop offset="0.9121" stop-color="#00ffff"/>
<stop offset="0.9643" stop-color="#0080ff"/>
<stop offset="1.0000" stop-color="#0000ff"/>
</linearGradient>
<rect x="310.00" y="118.87" width="38.00" height="5.61" fill="url(#g114)"/>
<linearGradient id="g115" gradientUnits="userSpaceOnUse" x1="310.00" y1="0" x2="348.00" y2="0">
<stop offset="0.0000" stop-color="#ff0000"/>
<stop offset="0.1036" stop-color="#ffa000"/>
<stop offset="0.2340" stop-color="#ff0000"/>
<stop offset="0.3644" stop-color="#ffa000"/>
<stop offset="0.4948" stop-color="#ff0000"/>
<stop offset="0.5470" stop-color="#ffa000"/>
<stop offset="0.5679" stop-color="#808080"/>
<stop offset="0.6122" stop-color="#ffa000"/>
<stop offset="0.7035" stop-color="#ffa000"/>
<stop offset="0.8078" stop-color="#ffff00"/>
<stop offset="0.9121" stop-color="#ffa000"/>
<stop offset="1.0000" stop-color="#ffff00"/>
</linearGradient>
<rect x="310.00" y="123.82" width="38.00" height="5.83" fill="url(#g115)"/>
<linearGradient id="g116" gradientUnits="userSpaceOnUse" x1="310.00" y1="0" x2="348.00" y2="0">
<stop offset="0.0000" stop-color="#ffa000"/>
<stop offset="0.0775" stop-color="#ff0000"/>
<stop offset="0.1558" stop-color="#ffa000"/>
<stop offset="0.2601" stop-color="#ff0000"/>
<stop offset="0.3644" stop-color="#ffa000"/>
<stop offset="0.4427" stop-color="#ff0000"/>
<stop offset="0.5209" stop-color="#ffa000"/>
<stop offset="0.5418" stop-color="#808080"/>
<stop offset="0.5861" stop-color="#ff0000"/>
<stop offset="0.7035" stop-color="#ff0000"/>
<stop offset="0.7556" stop-color="#ffa000"/>
<stop offset="0.8208" stop-color="#ffff00"/>
<stop offset="0.8991" stop-color="#c0ff40"/>
<stop offset="0.9513" stop-color="#00ffff"/>
<stop offset="1.0000" stop-color="#00ffff"/>
</linearGradient>
<rect x="310.00" y="129.00" width="38.00" height="8.58" fill="url(#g116)"/>
<linearGradient id="g117" gradientUnits="userSpaceOnUse" x1="310.00" y1="0" x2="348.00" y2="0">
<stop offset="0.0000" stop-color="#ffff00"/>
<stop offset="0.0775" stop-color="#ffa000"/>
<stop offset="0.1819" stop-color="#ffff00"/>
<stop offset="0.3123" stop-color="#ffa000"/>
<stop offset="0.4427" stop-color="#ffa000"/>
<stop offset="0.4948" stop-color="#808080"/>
<stop offset="0.5470" stop-color="#ffa000"/>
<stop offset="0.6513" stop-color="#ff0000"/>
<stop offset="0.7296" stop-color="#ff0000"/>
<stop offset="0.7817" stop-color="#ffa000"/>
<stop offset="0.8339" stop-color="#ffff00"/>
<stop offset="0.8991" stop-color="#00ffff"/>
<stop offset="0.9513" stop-color="#0080ff"/>
<stop offset="1.0000" stop-color="#0000ff"/>
</linearGradient>
<rect x="310.00" y="136.93" width="38.00" height="4.61" fill="url(#g117)"/>
<linearGradient id="g118" gradientUnits="userSpaceOnUse" x1="310.00" y1="0" x2="348.00" y2="0">
<stop offset="0.0000" stop-color="#ff0000"/>
<stop offset="0.0775" stop-color="#b00000"/>
<stop offset="0.1558" stop-color="#ff0000"/>
<stop offset="0.2340" stop-color="#b00000"/>
<stop offset="0.3383" stop-color="#ff0000"/>
<stop offset="0.4036" stop-color="#ff0000"/>
<stop offset="0.4296" stop-color="#808080"/>
<stop offset="0.4688" stop-color="#ff0000"/>
<stop offset="0.5992" stop-color="#ff0000"/>
<stop offset="0.6774" stop-color="#ff0000"/>
<stop offset="0.7165" stop-color="#ffa000"/>
<stop offset="0.7556" stop-color="#ffff00"/>
<stop offset="0.8078" stop-color="#00ffff"/>
<stop offset="0.8730" stop-color="#0080ff"/>
<stop offset="0.9382" stop-color="#0000ff"/>
<stop offset="1.0000" stop-color="#0000ff"/>
</linearGradient>
<rect x="310.00" y="140.89" width="38.00" height="12.56" fill="url(#g118)"/>
<polyline points="341.70,83.00 341.70,88.40 340.20,90.40 339.70,94.90 336.70,98.30 334.70,100.80 333.30,103.80 332.80,104.00 333.30,107.00 331.80,109.50 331.30,129.00 330.80,130.00 330.30,137.40 328.30,140.40 325.80,142.90 325.80,153.40" fill="none" stroke="#333333" stroke-width="1.8" stroke-linejoin="miter"/>
<polyline points="341.70,83.00 341.70,88.40 340.20,90.40 339.70,94.90 336.70,98.30 334.70,100.80 333.30,103.80 332.80,104.00 333.30,107.00 331.80,109.50 331.30,129.00 330.80,130.00 330.30,137.40 328.30,140.40 325.80,142.90 325.80,153.40" fill="none" stroke="#a8a8a8" stroke-width="0.85" stroke-linejoin="miter"/>
<rect x="310.00" y="83.00" width="38.00" height="70.40" fill="none" stroke="#262626" stroke-width="0.6"/>
<path d="M310.00 91.80h0.90M348.00 91.80h-0.90M310.00 100.60h0.90M348.00 100.60h-0.90M310.00 109.40h0.90M348.00 109.40h-0.90M310.00 118.20h0.90M348.00 118.20h-0.90M310.00 127.00h0.90M348.00 127.00h-0.90M310.00 135.80h0.90M348.00 135.80h-0.90M310.00 144.60h0.90M348.00 144.60h-0.90M318.10 83.00v0.90M318.10 153.40v-0.90M333.10 83.00v0.90M333.10 153.40v-0.90" stroke="#262626" stroke-width="0.5" fill="none"/>
<line x1="111.40" y1="173.01" x2="130.60" y2="173.01" stroke="#d6d6d6" stroke-width="0.5"/>
<line x1="111.40" y1="181.82" x2="130.60" y2="181.82" stroke="#d6d6d6" stroke-width="0.5"/>
<line x1="111.40" y1="190.64" x2="130.60" y2="190.64" stroke="#d6d6d6" stroke-width="0.5"/>
<line x1="111.40" y1="199.45" x2="130.60" y2="199.45" stroke="#d6d6d6" stroke-width="0.5"/>
<line x1="111.40" y1="208.26" x2="130.60" y2="208.26" stroke="#d6d6d6" stroke-width="0.5"/>
<line x1="111.40" y1="217.07" x2="130.60" y2="217.07" stroke="#d6d6d6" stroke-width="0.5"/>
<line x1="111.40" y1="225.89" x2="130.60" y2="225.89" stroke="#d6d6d6" stroke-width="0.5"/>
<rect x="111.40" y="164.20" width="19.20" height="70.50" fill="none" stroke="#262626" stroke-width="0.6"/>
<path d="M111.40 173.01h0.90M130.60 173.01h-0.90M111.40 181.82h0.90M130.60 181.82h-0.90M111.40 190.64h0.90M130.60 190.64h-0.90M111.40 199.45h0.90M130.60 199.45h-0.90M111.40 208.26h0.90M130.60 208.26h-0.90M111.40 217.07h0.90M130.60 217.07h-0.90M111.40 225.89h0.90M130.60 225.89h-0.90" stroke="#262626" stroke-width="0.5" fill="none"/>
<line x1="136.25" y1="173.01" x2="173.40" y2="173.01" stroke="#d6d6d6" stroke-width="0.5"/>
<line x1="136.25" y1="181.82" x2="173.40" y2="181.82" stroke="#d6d6d6" stroke-width="0.5"/>
<line x1="136.25" y1="190.64" x2="173.40" y2="190.64" stroke="#d6d6d6" stroke-width="0.5"/>
<line x1="136.25" y1="199.45" x2="173.40" y2="199.45" stroke="#d6d6d6" stroke-width="0.5"/>
<line x1="136.25" y1="208.26" x2="173.40" y2="208.26" stroke="#d6d6d6" stroke-width="0.5"/>
<line x1="136.25" y1="217.07" x2="173.40" y2="217.07" stroke="#d6d6d6" stroke-width="0.5"/>
<line x1="136.25" y1="225.89" x2="173.40" y2="225.89" stroke="#d6d6d6" stroke-width="0.5"/>
<line x1="154.80" y1="164.20" x2="154.80" y2="234.70" stroke="#d6d6d6" stroke-width="0.5"/>
<linearGradient id="g119" gradientUnits="userSpaceOnUse" x1="136.25" y1="0" x2="173.40" y2="0">
<stop offset="0.0013" stop-color="#ffffff" stop-opacity="0"/>
<stop offset="1.0000" stop-color="#ffffff" stop-opacity="0"/>
</linearGradient>
<rect x="136.25" y="164.20" width="37.15" height="16.95" fill="url(#g119)"/>
<linearGradient id="g120" gradientUnits="userSpaceOnUse" x1="136.25" y1="0" x2="173.40" y2="0">
<stop offset="0.0013" stop-color="#ffffff" stop-opacity="0"/>
<stop offset="0.1413" stop-color="#ffffff" stop-opacity="0"/>
<stop offset="0.1682" stop-color="#aeaeff"/>
<stop offset="0.1871" stop-color="#0000ff"/>
<stop offset="0.2140" stop-color="#80ff80"/>
<stop offset="0.2355" stop-color="#808080"/>
<stop offset="0.2624" stop-color="#0000ff"/>
<stop offset="0.3028" stop-color="#aeaeff"/>
<stop offset="0.3244" stop-color="#ffffff" stop-opacity="0"/>
<stop offset="1.0000" stop-color="#ffffff" stop-opacity="0"/>
</linearGradient>
<rect x="136.25" y="180.50" width="37.15" height="4.15" fill="url(#g120)"/>
<linearGradient id="g121" gradientUnits="userSpaceOnUse" x1="136.25" y1="0" x2="173.40" y2="0">
<stop offset="0.0013" stop-color="#ffffff" stop-opacity="0"/>
<stop offset="0.1682" stop-color="#ffffff" stop-opacity="0"/>
<stop offset="0.1952" stop-color="#aeaeff"/>
<stop offset="0.2221" stop-color="#0000ff"/>
<stop offset="0.2490" stop-color="#ffff00"/>
<stop offset="0.2894" stop-color="#808080"/>
<stop offset="0.3244" stop-color="#0000ff"/>
<stop offset="0.3567" stop-color="#aeaeff"/>
<stop offset="0.3782" stop-color="#ffffff" stop-opacity="0"/>
<stop offset="1.0000" stop-color="#ffffff" stop-opacity="0"/>
</linearGradient>
<rect x="136.25" y="184.00" width="37.15" height="4.15" fill="url(#g121)"/>
<linearGradient id="g122" gradientUnits="userSpaceOnUse" x1="136.25" y1="0" x2="173.40" y2="0">
<stop offset="0.0013" stop-color="#ffffff" stop-opacity="0"/>
<stop offset="1.0000" stop-color="#ffffff" stop-opacity="0"/>
</linearGradient>
<rect x="136.25" y="187.50" width="37.15" height="31.45" fill="url(#g122)"/>
<linearGradient id="g123" gradientUnits="userSpaceOnUse" x1="136.25" y1="0" x2="173.40" y2="0">
<stop offset="0.0013" stop-color="#ffffff" stop-opacity="0"/>
<stop offset="0.6124" stop-color="#ffffff" stop-opacity="0"/>
<stop offset="0.6393" stop-color="#0080ff"/>
<stop offset="0.6662" stop-color="#00ffff"/>
<stop offset="0.6931" stop-color="#808080"/>
<stop offset="0.7201" stop-color="#ffffff" stop-opacity="0"/>
<stop offset="1.0000" stop-color="#ffffff" stop-opacity="0"/>
</linearGradient>
<rect x="136.25" y="218.30" width="37.15" height="5.75" fill="url(#g123)"/>
<linearGradient id="g124" gradientUnits="userSpaceOnUse" x1="136.25" y1="0" x2="173.40" y2="0">
<stop offset="0.0013" stop-color="#ffffff" stop-opacity="0"/>
<stop offset="1.0000" stop-color="#ffffff" stop-opacity="0"/>
</linearGradient>
<rect x="136.25" y="223.40" width="37.15" height="11.35" fill="url(#g124)"/>
<polyline points="139.00,164.20 139.00,170.00 142.80,170.00 142.80,176.30 144.80,176.30 144.80,181.00 146.50,183.50 149.20,185.30 149.20,190.40 155.10,190.40 155.10,203.30 157.00,203.30 157.00,219.10 160.50,219.10 162.00,223.30 169.20,223.30 169.20,234.70" fill="none" stroke="#333333" stroke-width="1.8" stroke-linejoin="miter"/>
<polyline points="139.00,164.20 139.00,170.00 142.80,170.00 142.80,176.30 144.80,176.30 144.80,181.00 146.50,183.50 149.20,185.30 149.20,190.40 155.10,190.40 155.10,203.30 157.00,203.30 157.00,219.10 160.50,219.10 162.00,223.30 169.20,223.30 169.20,234.70" fill="none" stroke="#a8a8a8" stroke-width="0.85" stroke-linejoin="miter"/>
<rect x="136.25" y="164.20" width="37.15" height="70.50" fill="none" stroke="#262626" stroke-width="0.6"/>
<path d="M136.25 173.01h0.90M173.40 173.01h-0.90M136.25 181.82h0.90M173.40 181.82h-0.90M136.25 190.64h0.90M173.40 190.64h-0.90M136.25 199.45h0.90M173.40 199.45h-0.90M136.25 208.26h0.90M173.40 208.26h-0.90M136.25 217.07h0.90M173.40 217.07h-0.90M136.25 225.89h0.90M173.40 225.89h-0.90M154.80 164.20v0.90M154.80 234.70v-0.90" stroke="#262626" stroke-width="0.5" fill="none"/>
<line x1="179.50" y1="173.01" x2="217.60" y2="173.01" stroke="#d6d6d6" stroke-width="0.5"/>
<line x1="179.50" y1="181.82" x2="217.60" y2="181.82" stroke="#d6d6d6" stroke-width="0.5"/>
<line x1="179.50" y1="190.64" x2="217.60" y2="190.64" stroke="#d6d6d6" stroke-width="0.5"/>
<line x1="179.50" y1="199.45" x2="217.60" y2="199.45" stroke="#d6d6d6" stroke-width="0.5"/>
<line x1="179.50" y1="208.26" x2="217.60" y2="208.26" stroke="#d6d6d6" stroke-width="0.5"/>
<line x1="179.50" y1="217.07" x2="217.60" y2="217.07" stroke="#d6d6d6" stroke-width="0.5"/>
<line x1="179.50" y1="225.89" x2="217.60" y2="225.89" stroke="#d6d6d6" stroke-width="0.5"/>
<line x1="192.50" y1="164.20" x2="192.50" y2="234.70" stroke="#d6d6d6" stroke-width="0.5"/>
<line x1="204.60" y1="164.20" x2="204.60" y2="234.70" stroke="#d6d6d6" stroke-width="0.5"/>
<line x1="216.70" y1="164.20" x2="216.70" y2="234.70" stroke="#d6d6d6" stroke-width="0.5"/>
<linearGradient id="g125" gradientUnits="userSpaceOnUse" x1="179.50" y1="0" x2="217.60" y2="0">
<stop offset="0.0000" stop-color="#ffffff" stop-opacity="0"/>
<stop offset="0.1260" stop-color="#ffffff" stop-opacity="0"/>
<stop offset="0.1391" stop-color="#0000ff"/>
<stop offset="0.1785" stop-color="#0000ff"/>
<stop offset="0.1916" stop-color="#ffffff" stop-opacity="0"/>
<stop offset="1.0000" stop-color="#ffffff" stop-opacity="0"/>
</linearGradient>
<rect x="179.50" y="164.20" width="38.10" height="6.45" fill="url(#g125)"/>
<linearGradient id="g126" gradientUnits="userSpaceOnUse" x1="179.50" y1="0" x2="217.60" y2="0">
<stop offset="0.0000" stop-color="#ffffff" stop-opacity="0"/>
<stop offset="0.2047" stop-color="#ffffff" stop-opacity="0"/>
<stop offset="0.2178" stop-color="#0000ff"/>
<stop offset="0.2572" stop-color="#0000ff"/>
<stop offset="0.2703" stop-color="#ffffff" stop-opacity="0"/>
<stop offset="1.0000" stop-color="#ffffff" stop-opacity="0"/>
</linearGradient>
<rect x="179.50" y="170.00" width="38.10" height="7.15" fill="url(#g126)"/>
<linearGradient id="g127" gradientUnits="userSpaceOnUse" x1="179.50" y1="0" x2="217.60" y2="0">
<stop offset="0.0000" stop-color="#ffffff" stop-opacity="0"/>
<stop offset="0.2835" stop-color="#ffffff" stop-opacity="0"/>
<stop offset="0.2966" stop-color="#0000ff"/>
<stop offset="0.3386" stop-color="#808080"/>
<stop offset="0.3675" stop-color="#0000ff"/>
<stop offset="0.3806" stop-color="#ffffff" stop-opacity="0"/>
<stop offset="1.0000" stop-color="#ffffff" stop-opacity="0"/>
</linearGradient>
<rect x="179.50" y="176.50" width="38.10" height="6.15" fill="url(#g127)"/>
<linearGradient id="g128" gradientUnits="userSpaceOnUse" x1="179.50" y1="0" x2="217.60" y2="0">
<stop offset="0.0000" stop-color="#ffffff" stop-opacity="0"/>
<stop offset="0.3150" stop-color="#ffffff" stop-opacity="0"/>
<stop offset="0.3386" stop-color="#0000ff"/>
<stop offset="0.3675" stop-color="#00ffff"/>
<stop offset="0.3937" stop-color="#ffff00"/>
<stop offset="0.4199" stop-color="#ff0000"/>
<stop offset="0.4462" stop-color="#ffff00"/>
<stop offset="0.4724" stop-color="#00ffff"/>
<stop offset="0.4987" stop-color="#0000ff"/>
<stop offset="0.5381" stop-color="#0000ff"/>
<stop offset="0.5643" stop-color="#ffffff" stop-opacity="0"/>
<stop offset="1.0000" stop-color="#ffffff" stop-opacity="0"/>
</linearGradient>
<rect x="179.50" y="182.00" width="38.10" height="3.65" fill="url(#g128)"/>
<linearGradient id="g129" gradientUnits="userSpaceOnUse" x1="179.50" y1="0" x2="217.60" y2="0">
<stop offset="0.0000" stop-color="#ffffff" stop-opacity="0"/>
<stop offset="0.3150" stop-color="#ffffff" stop-opacity="0"/>
<stop offset="0.3386" stop-color="#0000ff"/>
<stop offset="0.3753" stop-color="#808080"/>
<stop offset="0.4199" stop-color="#00ffff"/>
<stop offset="0.4646" stop-color="#0000ff"/>
<stop offset="0.5249" stop-color="#0000ff"/>
<stop offset="0.5512" stop-color="#ffffff" stop-opacity="0"/>
<stop offset="1.0000" stop-color="#ffffff" stop-opacity="0"/>
</linearGradient>
<rect x="179.50" y="185.00" width="38.10" height="2.65" fill="url(#g129)"/>
<linearGradient id="g130" gradientUnits="userSpaceOnUse" x1="179.50" y1="0" x2="217.60" y2="0">
<stop offset="0.0000" stop-color="#ffffff" stop-opacity="0"/>
<stop offset="0.3412" stop-color="#ffffff" stop-opacity="0"/>
<stop offset="0.3543" stop-color="#0000ff"/>
<stop offset="0.3937" stop-color="#00ffff"/>
<stop offset="0.4278" stop-color="#ffa000"/>
<stop offset="0.4646" stop-color="#ffff00"/>
<stop offset="0.4987" stop-color="#0000ff"/>
<stop offset="0.5512" stop-color="#0000ff"/>
<stop offset="0.5774" stop-color="#ffffff" stop-opacity="0"/>
<stop offset="1.0000" stop-color="#ffffff" stop-opacity="0"/>
</linearGradient>
<rect x="179.50" y="187.00" width="38.10" height="3.65" fill="url(#g130)"/>
<linearGradient id="g131" gradientUnits="userSpaceOnUse" x1="179.50" y1="0" x2="217.60" y2="0">
<stop offset="0.0000" stop-color="#ffffff" stop-opacity="0"/>
<stop offset="0.4672" stop-color="#ffffff" stop-opacity="0"/>
<stop offset="0.4908" stop-color="#0000ff"/>
<stop offset="0.5249" stop-color="#00ffff"/>
<stop offset="0.5459" stop-color="#ffff00"/>
<stop offset="0.5722" stop-color="#ff0000"/>
<stop offset="0.5984" stop-color="#b00000"/>
<stop offset="0.6247" stop-color="#ffa000"/>
<stop offset="0.6509" stop-color="#00ffff"/>
<stop offset="0.6772" stop-color="#0000ff"/>
<stop offset="0.7087" stop-color="#d2d2ff"/>
<stop offset="0.7612" stop-color="#ffffff" stop-opacity="0"/>
<stop offset="1.0000" stop-color="#ffffff" stop-opacity="0"/>
</linearGradient>
<rect x="179.50" y="190.00" width="38.10" height="29.55" fill="url(#g131)"/>
<linearGradient id="g132" gradientUnits="userSpaceOnUse" x1="179.50" y1="0" x2="217.60" y2="0">
<stop offset="0.0000" stop-color="#ffffff" stop-opacity="0"/>
<stop offset="0.5197" stop-color="#ffffff" stop-opacity="0"/>
<stop offset="0.5381" stop-color="#0000ff"/>
<stop offset="0.5774" stop-color="#00ffff"/>
<stop offset="0.6115" stop-color="#808080"/>
<stop offset="0.6430" stop-color="#ff0000"/>
<stop offset="0.6824" stop-color="#ffa000"/>
<stop offset="0.7165" stop-color="#00ffff"/>
<stop offset="0.7480" stop-color="#0000ff"/>
<stop offset="0.7874" stop-color="#ffffff" stop-opacity="0"/>
<stop offset="1.0000" stop-color="#ffffff" stop-opacity="0"/>
</linearGradient>
<rect x="179.50" y="218.90" width="38.10" height="4.65" fill="url(#g132)"/>
<linearGradient id="g133" gradientUnits="userSpaceOnUse" x1="179.50" y1="0" x2="217.60" y2="0">
<stop offset="0.0000" stop-color="#ffffff" stop-opacity="0"/>
<stop offset="0.5459" stop-color="#ffffff" stop-opacity="0"/>
<stop offset="0.5643" stop-color="#0000ff"/>
<stop offset="0.6037" stop-color="#00ffff"/>
<stop offset="0.6299" stop-color="#ffff00"/>
<stop offset="0.6562" stop-color="#808080"/>
<stop offset="0.6824" stop-color="#b00000"/>
<stop offset="0.7087" stop-color="#ff0000"/>
<stop offset="0.7349" stop-color="#ffff00"/>
<stop offset="0.7612" stop-color="#00ffff"/>
<stop offset="0.8005" stop-color="#0000ff"/>
<stop offset="0.8399" stop-color="#d2d2ff"/>
<stop offset="0.8793" stop-color="#ffffff" stop-opacity="0"/>
<stop offset="1.0000" stop-color="#ffffff" stop-opacity="0"/>
</linearGradient>
<rect x="179.50" y="222.90" width="38.10" height="11.85" fill="url(#g133)"/>
<polyline points="185.30,164.20 185.30,169.70 188.20,169.70 188.20,178.20 191.80,178.20 191.80,181.50 194.30,181.50 194.30,185.50 195.80,188.00 199.80,189.80 200.50,190.50 200.60,218.90 202.80,219.90 204.30,222.90 204.60,234.70" fill="none" stroke="#333333" stroke-width="1.8" stroke-linejoin="miter"/>
<polyline points="185.30,164.20 185.30,169.70 188.20,169.70 188.20,178.20 191.80,178.20 191.80,181.50 194.30,181.50 194.30,185.50 195.80,188.00 199.80,189.80 200.50,190.50 200.60,218.90 202.80,219.90 204.30,222.90 204.60,234.70" fill="none" stroke="#a8a8a8" stroke-width="0.85" stroke-linejoin="miter"/>
<rect x="179.50" y="164.20" width="38.10" height="70.50" fill="none" stroke="#262626" stroke-width="0.6"/>
<path d="M179.50 173.01h0.90M217.60 173.01h-0.90M179.50 181.82h0.90M217.60 181.82h-0.90M179.50 190.64h0.90M217.60 190.64h-0.90M179.50 199.45h0.90M217.60 199.45h-0.90M179.50 208.26h0.90M217.60 208.26h-0.90M179.50 217.07h0.90M217.60 217.07h-0.90M179.50 225.89h0.90M217.60 225.89h-0.90M192.50 164.20v0.90M192.50 234.70v-0.90M204.60 164.20v0.90M204.60 234.70v-0.90M216.70 164.20v0.90M216.70 234.70v-0.90" stroke="#262626" stroke-width="0.5" fill="none"/>
<line x1="223.10" y1="173.01" x2="260.80" y2="173.01" stroke="#d6d6d6" stroke-width="0.5"/>
<line x1="223.10" y1="181.82" x2="260.80" y2="181.82" stroke="#d6d6d6" stroke-width="0.5"/>
<line x1="223.10" y1="190.64" x2="260.80" y2="190.64" stroke="#d6d6d6" stroke-width="0.5"/>
<line x1="223.10" y1="199.45" x2="260.80" y2="199.45" stroke="#d6d6d6" stroke-width="0.5"/>
<line x1="223.10" y1="208.26" x2="260.80" y2="208.26" stroke="#d6d6d6" stroke-width="0.5"/>
<line x1="223.10" y1="217.07" x2="260.80" y2="217.07" stroke="#d6d6d6" stroke-width="0.5"/>
<line x1="223.10" y1="225.89" x2="260.80" y2="225.89" stroke="#d6d6d6" stroke-width="0.5"/>
<line x1="232.70" y1="164.20" x2="232.70" y2="234.70" stroke="#d6d6d6" stroke-width="0.5"/>
<line x1="242.30" y1="164.20" x2="242.30" y2="234.70" stroke="#d6d6d6" stroke-width="0.5"/>
<line x1="251.90" y1="164.20" x2="251.90" y2="234.70" stroke="#d6d6d6" stroke-width="0.5"/>
<linearGradient id="g134" gradientUnits="userSpaceOnUse" x1="223.10" y1="0" x2="260.80" y2="0">
<stop offset="0.0000" stop-color="#ffffff" stop-opacity="0"/>
<stop offset="1.0000" stop-color="#ffffff" stop-opacity="0"/>
</linearGradient>
<rect x="223.10" y="164.20" width="37.70" height="13.32" fill="url(#g134)"/>
<linearGradient id="g135" gradientUnits="userSpaceOnUse" x1="223.10" y1="0" x2="260.80" y2="0">
<stop offset="0.0000" stop-color="#ffffff" stop-opacity="0"/>
<stop offset="0.0624" stop-color="#ffffff" stop-opacity="0"/>
<stop offset="0.0886" stop-color="#e8e8ff"/>
<stop offset="0.1675" stop-color="#e8e8ff"/>
<stop offset="0.1938" stop-color="#ffffff" stop-opacity="0"/>
<stop offset="0.2858" stop-color="#ffffff" stop-opacity="0"/>
<stop offset="0.3121" stop-color="#0000ff"/>
<stop offset="0.3515" stop-color="#00ffff"/>
<stop offset="0.3910" stop-color="#ffff00"/>
<stop offset="0.4304" stop-color="#ff0000"/>
<stop offset="0.4698" stop-color="#ffff00"/>
<stop offset="0.5093" stop-color="#00ffff"/>
<stop offset="0.5487" stop-color="#0000ff"/>
<stop offset="0.6013" stop-color="#0000ff"/>
<stop offset="0.6276" stop-color="#ffffff" stop-opacity="0"/>
<stop offset="1.0000" stop-color="#ffffff" stop-opacity="0"/>
</linearGradient>
<rect x="223.10" y="176.87" width="37.70" height="4.61" fill="url(#g135)"/>
<linearGradient id="g136" gradientUnits="userSpaceOnUse" x1="223.10" y1="0" x2="260.80" y2="0">
<stop offset="0.0000" stop-color="#aeaeff"/>
<stop offset="0.0755" stop-color="#0000ff"/>
<stop offset="0.1807" stop-color="#aeaeff"/>
<stop offset="0.2858" stop-color="#0000ff"/>
<stop offset="0.3515" stop-color="#0000ff"/>
<stop offset="0.4041" stop-color="#00ffff"/>
<stop offset="0.4567" stop-color="#ff0000"/>
<stop offset="0.5093" stop-color="#ffa000"/>
<stop offset="0.5487" stop-color="#00ffff"/>
<stop offset="0.6013" stop-color="#0000ff"/>
<stop offset="0.6670" stop-color="#0000ff"/>
<stop offset="0.6933" stop-color="#ffffff" stop-opacity="0"/>
<stop offset="1.0000" stop-color="#ffffff" stop-opacity="0"/>
</linearGradient>
<rect x="223.10" y="180.83" width="37.70" height="3.62" fill="url(#g136)"/>
<linearGradient id="g137" gradientUnits="userSpaceOnUse" x1="223.10" y1="0" x2="260.80" y2="0">
<stop offset="0.0000" stop-color="#0080ff"/>
<stop offset="0.1281" stop-color="#00ffff"/>
<stop offset="0.2332" stop-color="#0080ff"/>
<stop offset="0.3121" stop-color="#00ffff"/>
<stop offset="0.3778" stop-color="#ffff00"/>
<stop offset="0.4435" stop-color="#ffa000"/>
<stop offset="0.5093" stop-color="#ffa000"/>
<stop offset="0.5540" stop-color="#00ffff"/>
<stop offset="0.6065" stop-color="#0000ff"/>
<stop offset="0.6670" stop-color="#0000ff"/>
<stop offset="0.7064" stop-color="#e8e8ff"/>
<stop offset="0.7327" stop-color="#ffffff" stop-opacity="0"/>
<stop offset="1.0000" stop-color="#ffffff" stop-opacity="0"/>
</linearGradient>
<rect x="223.10" y="183.80" width="37.70" height="3.82" fill="url(#g137)"/>
<linearGradient id="g138" gradientUnits="userSpaceOnUse" x1="223.10" y1="0" x2="260.80" y2="0">
<stop offset="0.0000" stop-color="#0000ff"/>
<stop offset="0.1807" stop-color="#0000ff"/>
<stop offset="0.2990" stop-color="#0000ff"/>
<stop offset="0.3515" stop-color="#00ffff"/>
<stop offset="0.4041" stop-color="#ffff00"/>
<stop offset="0.4567" stop-color="#ff0000"/>
<stop offset="0.5093" stop-color="#ffa000"/>
<stop offset="0.5618" stop-color="#00ffff"/>
<stop offset="0.6065" stop-color="#0000ff"/>
<stop offset="0.6407" stop-color="#ffffff" stop-opacity="0"/>
<stop offset="0.6670" stop-color="#e8e8ff"/>
<stop offset="0.7327" stop-color="#e8e8ff"/>
<stop offset="0.7590" stop-color="#ffffff" stop-opacity="0"/>
<stop offset="1.0000" stop-color="#ffffff" stop-opacity="0"/>
</linearGradient>
<rect x="223.10" y="185.00" width="37.70" height="2.14" fill="url(#g138)"/>
<linearGradient id="g139" gradientUnits="userSpaceOnUse" x1="223.10" y1="0" x2="260.80" y2="0">
<stop offset="0.0000" stop-color="#0080ff"/>
<stop offset="0.1018" stop-color="#00ffff"/>
<stop offset="0.2069" stop-color="#0080ff"/>
<stop offset="0.2727" stop-color="#00ffff"/>
<stop offset="0.3121" stop-color="#ffff00"/>
<stop offset="0.3594" stop-color="#ff0000"/>
<stop offset="0.4120" stop-color="#808080"/>
<stop offset="0.4567" stop-color="#ffa000"/>
<stop offset="0.5093" stop-color="#ffff00"/>
<stop offset="0.5487" stop-color="#0000ff"/>
<stop offset="0.5881" stop-color="#0000ff"/>
<stop offset="0.6065" stop-color="#ffffff" stop-opacity="0"/>
<stop offset="1.0000" stop-color="#ffffff" stop-opacity="0"/>
</linearGradient>
<rect x="223.10" y="186.49" width="37.70" height="4.12" fill="url(#g139)"/>
<linearGradient id="g140" gradientUnits="userSpaceOnUse" x1="223.10" y1="0" x2="260.80" y2="0">
<stop offset="0.0000" stop-color="#ffffff" stop-opacity="0"/>
<stop offset="0.2727" stop-color="#ffffff" stop-opacity="0"/>
<stop offset="0.2911" stop-color="#0000ff"/>
<stop offset="0.3252" stop-color="#00ffff"/>
<stop offset="0.3515" stop-color="#ffff00"/>
<stop offset="0.3778" stop-color="#ff0000"/>
<stop offset="0.4067" stop-color="#808080"/>
<stop offset="0.4330" stop-color="#0000ff"/>
<stop offset="0.4698" stop-color="#0000ff"/>
<stop offset="0.4882" stop-color="#ffffff" stop-opacity="0"/>
<stop offset="1.0000" stop-color="#ffffff" stop-opacity="0"/>
</linearGradient>
<rect x="223.10" y="189.96" width="37.70" height="14.53" fill="url(#g140)"/>
<linearGradient id="g141" gradientUnits="userSpaceOnUse" x1="223.10" y1="0" x2="260.80" y2="0">
<stop offset="0.0000" stop-color="#a8a8ff"/>
<stop offset="0.0755" stop-color="#c0c0ff"/>
<stop offset="0.1807" stop-color="#c0c0ff"/>
<stop offset="0.2201" stop-color="#0000ff"/>
<stop offset="0.2648" stop-color="#00ffff"/>
<stop offset="0.2990" stop-color="#ffff00"/>
<stop offset="0.3384" stop-color="#ff0000"/>
<stop offset="0.3778" stop-color="#808080"/>
<stop offset="0.4041" stop-color="#0000ff"/>
<stop offset="0.4304" stop-color="#0000ff"/>
<stop offset="0.4435" stop-color="#ffffff" stop-opacity="0"/>
<stop offset="1.0000" stop-color="#ffffff" stop-opacity="0"/>
</linearGradient>
<rect x="223.10" y="203.83" width="37.70" height="6.82" fill="url(#g141)"/>
<linearGradient id="g142" gradientUnits="userSpaceOnUse" x1="223.10" y1="0" x2="260.80" y2="0">
<stop offset="0.0000" stop-color="#c0c0ff"/>
<stop offset="0.2069" stop-color="#c0c0ff"/>
<stop offset="0.2385" stop-color="#0000ff"/>
<stop offset="0.2727" stop-color="#00ffff"/>
<stop offset="0.3121" stop-color="#ffff00"/>
<stop offset="0.3384" stop-color="#ff0000"/>
<stop offset="0.3778" stop-color="#808080"/>
<stop offset="0.4041" stop-color="#0000ff"/>
<stop offset="0.4304" stop-color="#0000ff"/>
<stop offset="0.4435" stop-color="#ffffff" stop-opacity="0"/>
<stop offset="1.0000" stop-color="#ffffff" stop-opacity="0"/>
</linearGradient>
<rect x="223.10" y="210.00" width="37.70" height="9.07" fill="url(#g142)"/>
<linearGradient id="g143" gradientUnits="userSpaceOnUse" x1="223.10" y1="0" x2="260.80" y2="0">
<stop offset="0.0000" stop-color="#0000ff"/>
<stop offset="0.2332" stop-color="#0000ff"/>
<stop offset="0.2727" stop-color="#00ffff"/>
<stop offset="0.3121" stop-color="#808080"/>
<stop offset="0.3515" stop-color="#ffff00"/>
<stop offset="0.3910" stop-color="#ffa000"/>
<stop offset="0.4435" stop-color="#b00000"/>
<stop offset="0.4830" stop-color="#ff0000"/>
<stop offset="0.5093" stop-color="#ffff00"/>
<stop offset="0.5487" stop-color="#0000ff"/>
<stop offset="0.5750" stop-color="#0000ff"/>
<stop offset="0.5908" stop-color="#ffffff" stop-opacity="0"/>
<stop offset="1.0000" stop-color="#ffffff" stop-opacity="0"/>
</linearGradient>
<rect x="223.10" y="218.42" width="37.70" height="5.11" fill="url(#g143)"/>
<linearGradient id="g144" gradientUnits="userSpaceOnUse" x1="223.10" y1="0" x2="260.80" y2="0">
<stop offset="0.0000" stop-color="#0080ff"/>
<stop offset="0.1018" stop-color="#00ffff"/>
<stop offset="0.1807" stop-color="#0080ff"/>
<stop offset="0.2464" stop-color="#00ffff"/>
<stop offset="0.2990" stop-color="#00ffff"/>
<stop offset="0.3331" stop-color="#808080"/>
<stop offset="0.3647" stop-color="#b00000"/>
<stop offset="0.4041" stop-color="#ff0000"/>
<stop offset="0.4383" stop-color="#ffff00"/>
<stop offset="0.4698" stop-color="#00ffff"/>
<stop offset="0.4961" stop-color="#0000ff"/>
<stop offset="0.5093" stop-color="#ffffff" stop-opacity="0"/>
<stop offset="1.0000" stop-color="#ffffff" stop-opacity="0"/>
</linearGradient>
<rect x="223.10" y="222.88" width="37.70" height="11.87" fill="url(#g144)"/>
<polyline points="251.50,164.20 251.50,169.90 246.30,170.40 246.30,176.90 242.30,180.30 241.30,183.80 240.30,186.50 239.80,187.00 238.80,188.00 238.80,210.00 237.30,211.00 237.30,218.40 235.90,220.90 235.40,234.70" fill="none" stroke="#333333" stroke-width="1.8" stroke-linejoin="miter"/>
<polyline points="251.50,164.20 251.50,169.90 246.30,170.40 246.30,176.90 242.30,180.30 241.30,183.80 240.30,186.50 239.80,187.00 238.80,188.00 238.80,210.00 237.30,211.00 237.30,218.40 235.90,220.90 235.40,234.70" fill="none" stroke="#a8a8a8" stroke-width="0.85" stroke-linejoin="miter"/>
<rect x="223.10" y="164.20" width="37.70" height="70.50" fill="none" stroke="#262626" stroke-width="0.6"/>
<path d="M223.10 173.01h0.90M260.80 173.01h-0.90M223.10 181.82h0.90M260.80 181.82h-0.90M223.10 190.64h0.90M260.80 190.64h-0.90M223.10 199.45h0.90M260.80 199.45h-0.90M223.10 208.26h0.90M260.80 208.26h-0.90M223.10 217.07h0.90M260.80 217.07h-0.90M223.10 225.89h0.90M260.80 225.89h-0.90M232.70 164.20v0.90M232.70 234.70v-0.90M242.30 164.20v0.90M242.30 234.70v-0.90M251.90 164.20v0.90M251.90 234.70v-0.90" stroke="#262626" stroke-width="0.5" fill="none"/>
<line x1="266.25" y1="173.01" x2="304.50" y2="173.01" stroke="#d6d6d6" stroke-width="0.5"/>
<line x1="266.25" y1="181.82" x2="304.50" y2="181.82" stroke="#d6d6d6" stroke-width="0.5"/>
<line x1="266.25" y1="190.64" x2="304.50" y2="190.64" stroke="#d6d6d6" stroke-width="0.5"/>
<line x1="266.25" y1="199.45" x2="304.50" y2="199.45" stroke="#d6d6d6" stroke-width="0.5"/>
<line x1="266.25" y1="208.26" x2="304.50" y2="208.26" stroke="#d6d6d6" stroke-width="0.5"/>
<line x1="266.25" y1="217.07" x2="304.50" y2="217.07" stroke="#d6d6d6" stroke-width="0.5"/>
<line x1="266.25" y1="225.89" x2="304.50" y2="225.89" stroke="#d6d6d6" stroke-width="0.5"/>
<line x1="285.40" y1="164.20" x2="285.40" y2="234.70" stroke="#d6d6d6" stroke-width="0.5"/>
<linearGradient id="g145" gradientUnits="userSpaceOnUse" x1="266.25" y1="0" x2="304.50" y2="0">
<stop offset="0.0008" stop-color="#0000ff"/>
<stop offset="0.0448" stop-color="#0000ff"/>
<stop offset="0.0837" stop-color="#00ffff"/>
<stop offset="0.1174" stop-color="#80ff80"/>
<stop offset="0.1433" stop-color="#0000ff"/>
<stop offset="0.1692" stop-color="#808080"/>
<stop offset="0.2003" stop-color="#aeaeff"/>
<stop offset="0.2262" stop-color="#ffffff" stop-opacity="0"/>
<stop offset="1.0000" stop-color="#ffffff" stop-opacity="0"/>
</linearGradient>
<rect x="266.25" y="164.20" width="38.25" height="6.38" fill="url(#g145)"/>
<linearGradient id="g146" gradientUnits="userSpaceOnUse" x1="266.25" y1="0" x2="304.50" y2="0">
<stop offset="0.0008" stop-color="#0000a0"/>
<stop offset="0.0448" stop-color="#0000ff"/>
<stop offset="0.0966" stop-color="#00ffff"/>
<stop offset="0.1485" stop-color="#ffff00"/>
<stop offset="0.1925" stop-color="#ff0000"/>
<stop offset="0.2314" stop-color="#808080"/>
<stop offset="0.2728" stop-color="#00ffff"/>
<stop offset="0.3091" stop-color="#0000ff"/>
<stop offset="0.3350" stop-color="#0000ff"/>
<stop offset="0.3557" stop-color="#ffffff" stop-opacity="0"/>
<stop offset="1.0000" stop-color="#ffffff" stop-opacity="0"/>
</linearGradient>
<rect x="266.25" y="169.93" width="38.25" height="7.59" fill="url(#g146)"/>
<linearGradient id="g147" gradientUnits="userSpaceOnUse" x1="266.25" y1="0" x2="304.50" y2="0">
<stop offset="0.0008" stop-color="#0000ff"/>
<stop offset="0.0241" stop-color="#e8e8ff"/>
<stop offset="0.0837" stop-color="#e8e8ff"/>
<stop offset="0.1018" stop-color="#0000ff"/>
<stop offset="0.1355" stop-color="#00ffff"/>
<stop offset="0.1873" stop-color="#ffff00"/>
<stop offset="0.2391" stop-color="#ff0000"/>
<stop offset="0.2910" stop-color="#808080"/>
<stop offset="0.3298" stop-color="#ffff00"/>
<stop offset="0.3557" stop-color="#00ffff"/>
<stop offset="0.3868" stop-color="#0000ff"/>
<stop offset="0.4283" stop-color="#0000ff"/>
<stop offset="0.4542" stop-color="#ffffff" stop-opacity="0"/>
<stop offset="1.0000" stop-color="#ffffff" stop-opacity="0"/>
</linearGradient>
<rect x="266.25" y="176.87" width="38.25" height="5.61" fill="url(#g147)"/>
<linearGradient id="g148" gradientUnits="userSpaceOnUse" x1="266.25" y1="0" x2="304.50" y2="0">
<stop offset="0.0008" stop-color="#0080ff"/>
<stop offset="0.0578" stop-color="#00ffff"/>
<stop offset="0.1485" stop-color="#80ff80"/>
<stop offset="0.2262" stop-color="#ffa000"/>
<stop offset="0.2910" stop-color="#ff0000"/>
<stop offset="0.3428" stop-color="#ff0000"/>
<stop offset="0.3765" stop-color="#808080"/>
<stop offset="0.4205" stop-color="#00ffff"/>
<stop offset="0.4723" stop-color="#0000ff"/>
<stop offset="0.5501" stop-color="#0000ff"/>
<stop offset="0.5760" stop-color="#ffffff" stop-opacity="0"/>
<stop offset="0.6796" stop-color="#ffffff" stop-opacity="0"/>
<stop offset="0.6978" stop-color="#aeaeff"/>
<stop offset="0.7185" stop-color="#ffffff" stop-opacity="0"/>
<stop offset="0.8221" stop-color="#ffffff" stop-opacity="0"/>
<stop offset="0.8403" stop-color="#e8e8ff"/>
<stop offset="0.8610" stop-color="#ffffff" stop-opacity="0"/>
<stop offset="1.0000" stop-color="#ffffff" stop-opacity="0"/>
</linearGradient>
<rect x="266.25" y="181.82" width="38.25" height="3.83" fill="url(#g148)"/>
<linearGradient id="g149" gradientUnits="userSpaceOnUse" x1="266.25" y1="0" x2="304.50" y2="0">
<stop offset="0.0008" stop-color="#0000ff"/>
<stop offset="0.0707" stop-color="#00ffff"/>
<stop offset="0.1485" stop-color="#00ffff"/>
<stop offset="0.2003" stop-color="#80ff80"/>
<stop offset="0.2521" stop-color="#ffff00"/>
<stop offset="0.2910" stop-color="#ffa000"/>
<stop offset="0.3298" stop-color="#ff0000"/>
<stop offset="0.3817" stop-color="#808080"/>
<stop offset="0.4283" stop-color="#80ff80"/>
<stop offset="0.4723" stop-color="#0000ff"/>
<stop offset="0.5164" stop-color="#0000ff"/>
<stop offset="0.5371" stop-color="#ffffff" stop-opacity="0"/>
<stop offset="0.6667" stop-color="#ffffff" stop-opacity="0"/>
<stop offset="0.6926" stop-color="#0000ff"/>
<stop offset="0.7185" stop-color="#ffffff" stop-opacity="0"/>
<stop offset="0.7962" stop-color="#ffffff" stop-opacity="0"/>
<stop offset="0.8351" stop-color="#e8e8ff"/>
<stop offset="0.8740" stop-color="#ffffff" stop-opacity="0"/>
<stop offset="1.0000" stop-color="#ffffff" stop-opacity="0"/>
</linearGradient>
<rect x="266.25" y="185.00" width="38.25" height="5.11" fill="url(#g149)"/>
<linearGradient id="g150" gradientUnits="userSpaceOnUse" x1="266.25" y1="0" x2="304.50" y2="0">
<stop offset="0.0008" stop-color="#ffffff" stop-opacity="0"/>
<stop offset="0.1692" stop-color="#ffffff" stop-opacity="0"/>
<stop offset="0.2003" stop-color="#e8e8ff"/>
<stop offset="0.2780" stop-color="#d2d2ff"/>
<stop offset="0.3298" stop-color="#aeaeff"/>
<stop offset="0.3480" stop-color="#0000ff"/>
<stop offset="0.3817" stop-color="#00ffff"/>
<stop offset="0.4231" stop-color="#ffff00"/>
<stop offset="0.4594" stop-color="#808080"/>
<stop offset="0.4931" stop-color="#ffa000"/>
<stop offset="0.5242" stop-color="#ff0000"/>
<stop offset="0.5630" stop-color="#ffff00"/>
<stop offset="0.5941" stop-color="#00ffff"/>
<stop offset="0.6200" stop-color="#0000ff"/>
<stop offset="0.6459" stop-color="#0000ff"/>
<stop offset="0.6615" stop-color="#ffffff" stop-opacity="0"/>
<stop offset="1.0000" stop-color="#ffffff" stop-opacity="0"/>
</linearGradient>
<rect x="266.25" y="189.46" width="38.25" height="21.19" fill="url(#g150)"/>
<linearGradient id="g151" gradientUnits="userSpaceOnUse" x1="266.25" y1="0" x2="304.50" y2="0">
<stop offset="0.0008" stop-color="#ffffff" stop-opacity="0"/>
<stop offset="0.1692" stop-color="#ffffff" stop-opacity="0"/>
<stop offset="0.2003" stop-color="#e8e8ff"/>
<stop offset="0.3039" stop-color="#e8e8ff"/>
<stop offset="0.3298" stop-color="#aeaeff"/>
<stop offset="0.3480" stop-color="#0000ff"/>
<stop offset="0.3868" stop-color="#00ffff"/>
<stop offset="0.4257" stop-color="#ffff00"/>
<stop offset="0.4646" stop-color="#808080"/>
<stop offset="0.5034" stop-color="#ff0000"/>
<stop offset="0.5423" stop-color="#ffff00"/>
<stop offset="0.5812" stop-color="#00ffff"/>
<stop offset="0.6200" stop-color="#0000ff"/>
<stop offset="0.6459" stop-color="#0000ff"/>
<stop offset="0.6615" stop-color="#ffffff" stop-opacity="0"/>
<stop offset="1.0000" stop-color="#ffffff" stop-opacity="0"/>
</linearGradient>
<rect x="266.25" y="210.00" width="38.25" height="9.07" fill="url(#g151)"/>
<linearGradient id="g152" gradientUnits="userSpaceOnUse" x1="266.25" y1="0" x2="304.50" y2="0">
<stop offset="0.0008" stop-color="#ffffff" stop-opacity="0"/>
<stop offset="0.2132" stop-color="#ffffff" stop-opacity="0"/>
<stop offset="0.2391" stop-color="#e8e8ff"/>
<stop offset="0.3169" stop-color="#e8e8ff"/>
<stop offset="0.3428" stop-color="#0000ff"/>
<stop offset="0.3817" stop-color="#00ffff"/>
<stop offset="0.4205" stop-color="#ffff00"/>
<stop offset="0.4594" stop-color="#ff0000"/>
<stop offset="0.5242" stop-color="#808080"/>
<stop offset="0.5760" stop-color="#ff0000"/>
<stop offset="0.6149" stop-color="#ffff00"/>
<stop offset="0.6408" stop-color="#00ffff"/>
<stop offset="0.6719" stop-color="#0000ff"/>
<stop offset="0.6978" stop-color="#0000ff"/>
<stop offset="0.7133" stop-color="#ffffff" stop-opacity="0"/>
<stop offset="1.0000" stop-color="#ffffff" stop-opacity="0"/>
</linearGradient>
<rect x="266.25" y="218.42" width="38.25" height="5.11" fill="url(#g152)"/>
<linearGradient id="g153" gradientUnits="userSpaceOnUse" x1="266.25" y1="0" x2="304.50" y2="0">
<stop offset="0.0008" stop-color="#ffffff" stop-opacity="0"/>
<stop offset="0.2132" stop-color="#ffffff" stop-opacity="0"/>
<stop offset="0.2391" stop-color="#e8e8ff"/>
<stop offset="0.3557" stop-color="#e8e8ff"/>
<stop offset="0.3868" stop-color="#0000ff"/>
<stop offset="0.4283" stop-color="#00ffff"/>
<stop offset="0.4594" stop-color="#ffff00"/>
<stop offset="0.4983" stop-color="#ffa000"/>
<stop offset="0.5501" stop-color="#808080"/>
<stop offset="0.6019" stop-color="#b00000"/>
<stop offset="0.6408" stop-color="#ffff00"/>
<stop offset="0.6744" stop-color="#00ffff"/>
<stop offset="0.7004" stop-color="#0000ff"/>
<stop offset="0.7237" stop-color="#0000ff"/>
<stop offset="0.7392" stop-color="#ffffff" stop-opacity="0"/>
<stop offset="1.0000" stop-color="#ffffff" stop-opacity="0"/>
</linearGradient>
<rect x="266.25" y="222.88" width="38.25" height="11.87" fill="url(#g153)"/>
<polyline points="273.10,164.20 273.10,169.90 275.40,171.90 275.90,176.90 277.90,178.80 278.90,184.80 280.40,185.50 280.80,188.00 283.80,189.50 283.80,201.80 284.30,204.80 284.30,218.40 286.30,219.90 287.80,222.90 287.80,234.70" fill="none" stroke="#333333" stroke-width="1.8" stroke-linejoin="miter"/>
<polyline points="273.10,164.20 273.10,169.90 275.40,171.90 275.90,176.90 277.90,178.80 278.90,184.80 280.40,185.50 280.80,188.00 283.80,189.50 283.80,201.80 284.30,204.80 284.30,218.40 286.30,219.90 287.80,222.90 287.80,234.70" fill="none" stroke="#a8a8a8" stroke-width="0.85" stroke-linejoin="miter"/>
<rect x="266.25" y="164.20" width="38.25" height="70.50" fill="none" stroke="#262626" stroke-width="0.6"/>
<path d="M266.25 173.01h0.90M304.50 173.01h-0.90M266.25 181.82h0.90M304.50 181.82h-0.90M266.25 190.64h0.90M304.50 190.64h-0.90M266.25 199.45h0.90M304.50 199.45h-0.90M266.25 208.26h0.90M304.50 208.26h-0.90M266.25 217.07h0.90M304.50 217.07h-0.90M266.25 225.89h0.90M304.50 225.89h-0.90M285.40 164.20v0.90M285.40 234.70v-0.90" stroke="#262626" stroke-width="0.5" fill="none"/>
<line x1="310.00" y1="173.01" x2="348.00" y2="173.01" stroke="#d6d6d6" stroke-width="0.5"/>
<line x1="310.00" y1="181.82" x2="348.00" y2="181.82" stroke="#d6d6d6" stroke-width="0.5"/>
<line x1="310.00" y1="190.64" x2="348.00" y2="190.64" stroke="#d6d6d6" stroke-width="0.5"/>
<line x1="310.00" y1="199.45" x2="348.00" y2="199.45" stroke="#d6d6d6" stroke-width="0.5"/>
<line x1="310.00" y1="208.26" x2="348.00" y2="208.26" stroke="#d6d6d6" stroke-width="0.5"/>
<line x1="310.00" y1="217.07" x2="348.00" y2="217.07" stroke="#d6d6d6" stroke-width="0.5"/>
<line x1="310.00" y1="225.89" x2="348.00" y2="225.89" stroke="#d6d6d6" stroke-width="0.5"/>
<line x1="318.10" y1="164.20" x2="318.10" y2="234.70" stroke="#d6d6d6" stroke-width="0.5"/>
<line x1="333.10" y1="164.20" x2="333.10" y2="234.70" stroke="#d6d6d6" stroke-width="0.5"/>
<linearGradient id="g154" gradientUnits="userSpaceOnUse" x1="310.00" y1="0" x2="348.00" y2="0">
<stop offset="0.0000" stop-color="#ff0000"/>
<stop offset="0.0775" stop-color="#ffa000"/>
<stop offset="0.1558" stop-color="#ff0000"/>
<stop offset="0.3123" stop-color="#ff0000"/>
<stop offset="0.4427" stop-color="#b00000"/>
<stop offset="0.5731" stop-color="#ff0000"/>
<stop offset="0.7035" stop-color="#ff0000"/>
<stop offset="0.7556" stop-color="#ff0000"/>
<stop offset="0.8026" stop-color="#808080"/>
<stop offset="0.8391" stop-color="#808080"/>
<stop offset="0.8652" stop-color="#ffff00"/>
<stop offset="0.9069" stop-color="#00ffff"/>
<stop offset="0.9513" stop-color="#0080ff"/>
<stop offset="0.9773" stop-color="#0000ff"/>
<stop offset="1.0000" stop-color="#0000ff"/>
</linearGradient>
<rect x="310.00" y="164.20" width="38.00" height="6.38" fill="url(#g154)"/>
<linearGradient id="g155" gradientUnits="userSpaceOnUse" x1="310.00" y1="0" x2="348.00" y2="0">
<stop offset="0.0000" stop-color="#ffff00"/>
<stop offset="0.0515" stop-color="#48f0c8"/>
<stop offset="0.1819" stop-color="#48f0c8"/>
<stop offset="0.4427" stop-color="#48f0c8"/>
<stop offset="0.6513" stop-color="#48f0c8"/>
<stop offset="0.6904" stop-color="#ffff00"/>
<stop offset="0.7348" stop-color="#ffff00"/>
<stop offset="0.7687" stop-color="#808080"/>
<stop offset="0.8078" stop-color="#ff0000"/>
<stop offset="0.8861" stop-color="#b00000"/>
<stop offset="0.9513" stop-color="#b00000"/>
<stop offset="1.0000" stop-color="#ff0000"/>
</linearGradient>
<rect x="310.00" y="169.93" width="38.00" height="6.60" fill="url(#g155)"/>
<linearGradient id="g156" gradientUnits="userSpaceOnUse" x1="310.00" y1="0" x2="348.00" y2="0">
<stop offset="0.0000" stop-color="#ffff00"/>
<stop offset="0.1819" stop-color="#ffff00"/>
<stop offset="0.3905" stop-color="#ffff00"/>
<stop offset="0.5209" stop-color="#ffa000"/>
<stop offset="0.6252" stop-color="#ff0000"/>
<stop offset="0.6774" stop-color="#ffa000"/>
<stop offset="0.7035" stop-color="#808080"/>
<stop offset="0.7556" stop-color="#ff0000"/>
<stop offset="0.8339" stop-color="#b00000"/>
<stop offset="0.9121" stop-color="#ff0000"/>
<stop offset="1.0000" stop-color="#ff0000"/>
</linearGradient>
<rect x="310.00" y="175.88" width="38.00" height="6.10" fill="url(#g156)"/>
<linearGradient id="g157" gradientUnits="userSpaceOnUse" x1="310.00" y1="0" x2="348.00" y2="0">
<stop offset="0.0000" stop-color="#00ffff"/>
<stop offset="0.3123" stop-color="#00ffff"/>
<stop offset="0.5731" stop-color="#00ffff"/>
<stop offset="0.6252" stop-color="#808080"/>
<stop offset="0.6774" stop-color="#ffff00"/>
<stop offset="0.7296" stop-color="#ffa000"/>
<stop offset="0.8078" stop-color="#ff0000"/>
<stop offset="0.9121" stop-color="#ffa000"/>
<stop offset="1.0000" stop-color="#ff0000"/>
</linearGradient>
<rect x="310.00" y="181.33" width="38.00" height="3.13" fill="url(#g157)"/>
<linearGradient id="g158" gradientUnits="userSpaceOnUse" x1="310.00" y1="0" x2="348.00" y2="0">
<stop offset="0.0000" stop-color="#ff0000"/>
<stop offset="0.3123" stop-color="#ff0000"/>
<stop offset="0.5470" stop-color="#ff0000"/>
<stop offset="0.5731" stop-color="#808080"/>
<stop offset="0.6252" stop-color="#ffa000"/>
<stop offset="0.7035" stop-color="#ffa000"/>
<stop offset="0.7556" stop-color="#ffff00"/>
<stop offset="0.8078" stop-color="#00ffff"/>
<stop offset="0.8600" stop-color="#0000ff"/>
<stop offset="0.9643" stop-color="#0000ff"/>
<stop offset="1.0000" stop-color="#0000ff"/>
</linearGradient>
<rect x="310.00" y="183.80" width="38.00" height="3.82" fill="url(#g158)"/>
<linearGradient id="g159" gradientUnits="userSpaceOnUse" x1="310.00" y1="0" x2="348.00" y2="0">
<stop offset="0.0000" stop-color="#ff0000"/>
<stop offset="0.5731" stop-color="#ff0000"/>
<stop offset="0.5992" stop-color="#808080"/>
<stop offset="0.6513" stop-color="#ffa000"/>
<stop offset="0.7426" stop-color="#ffa000"/>
<stop offset="0.7817" stop-color="#ffff00"/>
<stop offset="0.8208" stop-color="#0000ff"/>
<stop offset="1.0000" stop-color="#0000ff"/>
</linearGradient>
<rect x="310.00" y="185.00" width="38.00" height="2.14" fill="url(#g159)"/>
<linearGradient id="g160" gradientUnits="userSpaceOnUse" x1="310.00" y1="0" x2="348.00" y2="0">
<stop offset="0.0000" stop-color="#00ffff"/>
<stop offset="0.1297" stop-color="#0080ff"/>
<stop offset="0.2340" stop-color="#00ffff"/>
<stop offset="0.4427" stop-color="#0080ff"/>
<stop offset="0.5731" stop-color="#00ffff"/>
<stop offset="0.6044" stop-color="#808080"/>
<stop offset="0.6513" stop-color="#48f0c8"/>
<stop offset="0.7426" stop-color="#80ff80"/>
<stop offset="0.7817" stop-color="#ffff00"/>
<stop offset="0.8208" stop-color="#ff0000"/>
<stop offset="0.9121" stop-color="#b00000"/>
<stop offset="1.0000" stop-color="#ff0000"/>
</linearGradient>
<rect x="310.00" y="186.49" width="38.00" height="4.12" fill="url(#g160)"/>
<linearGradient id="g161" gradientUnits="userSpaceOnUse" x1="310.00" y1="0" x2="348.00" y2="0">
<stop offset="0.0000" stop-color="#ff0000"/>
<stop offset="0.0775" stop-color="#b00000"/>
<stop offset="0.1819" stop-color="#ff0000"/>
<stop offset="0.2601" stop-color="#b00000"/>
<stop offset="0.3123" stop-color="#ffa000"/>
<stop offset="0.3905" stop-color="#ffa000"/>
<stop offset="0.4688" stop-color="#ffff00"/>
<stop offset="0.5470" stop-color="#ffff00"/>
<stop offset="0.5731" stop-color="#808080"/>
<stop offset="0.6044" stop-color="#ffff00"/>
<stop offset="0.6461" stop-color="#80ff80"/>
<stop offset="0.6826" stop-color="#00ffff"/>
<stop offset="0.7296" stop-color="#0080ff"/>
<stop offset="0.7609" stop-color="#0000ff"/>
<stop offset="0.7896" stop-color="#0000ff"/>
<stop offset="0.8026" stop-color="#ffffff" stop-opacity="0"/>
<stop offset="1.0000" stop-color="#ffffff" stop-opacity="0"/>
</linearGradient>
<rect x="310.00" y="189.96" width="38.00" height="13.53" fill="url(#g161)"/>
<linearGradient id="g162" gradientUnits="userSpaceOnUse" x1="310.00" y1="0" x2="348.00" y2="0">
<stop offset="0.0000" stop-color="#ffa000"/>
<stop offset="0.0775" stop-color="#ffff00"/>
<stop offset="0.1819" stop-color="#ffa000"/>
<stop offset="0.3123" stop-color="#ffff00"/>
<stop offset="0.3905" stop-color="#ffa000"/>
<stop offset="0.4427" stop-color="#ff0000"/>
<stop offset="0.4948" stop-color="#b00000"/>
<stop offset="0.5340" stop-color="#808080"/>
<stop offset="0.5861" stop-color="#ff0000"/>
<stop offset="0.6644" stop-color="#ffa000"/>
<stop offset="0.7035" stop-color="#ffff00"/>
<stop offset="0.7426" stop-color="#00ffff"/>
<stop offset="0.7765" stop-color="#0000ff"/>
<stop offset="0.7974" stop-color="#0000ff"/>
<stop offset="0.8130" stop-color="#ffffff" stop-opacity="0"/>
<stop offset="1.0000" stop-color="#ffffff" stop-opacity="0"/>
</linearGradient>
<rect x="310.00" y="202.84" width="38.00" height="8.80" fill="url(#g162)"/>
<linearGradient id="g163" gradientUnits="userSpaceOnUse" x1="310.00" y1="0" x2="348.00" y2="0">
<stop offset="0.0000" stop-color="#ff0000"/>
<stop offset="0.0775" stop-color="#ffa000"/>
<stop offset="0.2340" stop-color="#ffa000"/>
<stop offset="0.3905" stop-color="#ffa000"/>
<stop offset="0.4427" stop-color="#ff0000"/>
<stop offset="0.5079" stop-color="#ff0000"/>
<stop offset="0.5392" stop-color="#808080"/>
<stop offset="0.5861" stop-color="#ff0000"/>
<stop offset="0.6513" stop-color="#ffa000"/>
<stop offset="0.7035" stop-color="#ffff00"/>
<stop offset="0.7556" stop-color="#00ffff"/>
<stop offset="0.7948" stop-color="#0000ff"/>
<stop offset="0.8208" stop-color="#0000ff"/>
<stop offset="0.8391" stop-color="#ffffff" stop-opacity="0"/>
<stop offset="1.0000" stop-color="#ffffff" stop-opacity="0"/>
</linearGradient>
<rect x="310.00" y="210.99" width="38.00" height="8.58" fill="url(#g163)"/>
<linearGradient id="g164" gradientUnits="userSpaceOnUse" x1="310.00" y1="0" x2="348.00" y2="0">
<stop offset="0.0000" stop-color="#ffff00"/>
<stop offset="0.1819" stop-color="#ffff00"/>
<stop offset="0.4427" stop-color="#ffff00"/>
<stop offset="0.5079" stop-color="#808080"/>
<stop offset="0.5600" stop-color="#ffff00"/>
<stop offset="0.5992" stop-color="#ffa000"/>
<stop offset="0.6513" stop-color="#ff0000"/>
<stop offset="0.7296" stop-color="#b00000"/>
<stop offset="0.7817" stop-color="#ff0000"/>
<stop offset="0.8130" stop-color="#ffff00"/>
<stop offset="0.8339" stop-color="#00ffff"/>
<stop offset="0.8548" stop-color="#0000ff"/>
<stop offset="0.8704" stop-color="#ffffff" stop-opacity="0"/>
<stop offset="1.0000" stop-color="#ffffff" stop-opacity="0"/>
</linearGradient>
<rect x="310.00" y="218.92" width="38.00" height="4.61" fill="url(#g164)"/>
<linearGradient id="g165" gradientUnits="userSpaceOnUse" x1="310.00" y1="0" x2="348.00" y2="0">
<stop offset="0.0000" stop-color="#ff0000"/>
<stop offset="0.0775" stop-color="#b00000"/>
<stop offset="0.1819" stop-color="#ff0000"/>
<stop offset="0.2862" stop-color="#b00000"/>
<stop offset="0.3775" stop-color="#ff0000"/>
<stop offset="0.4114" stop-color="#808080"/>
<stop offset="0.4427" stop-color="#ff0000"/>
<stop offset="0.5731" stop-color="#ff0000"/>
<stop offset="0.6305" stop-color="#ffa000"/>
<stop offset="0.6904" stop-color="#ffff00"/>
<stop offset="0.7296" stop-color="#80ff80"/>
<stop offset="0.7609" stop-color="#00ffff"/>
<stop offset="0.7922" stop-color="#0000ff"/>
<stop offset="0.8130" stop-color="#0000ff"/>
<stop offset="0.8235" stop-color="#ffffff" stop-opacity="0"/>
<stop offset="1.0000" stop-color="#ffffff" stop-opacity="0"/>
</linearGradient>
<rect x="310.00" y="222.88" width="38.00" height="11.87" fill="url(#g165)"/>
<polyline points="341.70,164.20 341.70,169.40 339.70,170.90 339.20,175.90 336.70,177.90 336.20,181.80 333.80,183.80 332.30,187.00 332.80,188.00 331.80,190.50 331.30,210.00 330.80,211.00 330.30,218.90 327.80,221.40 325.80,223.40 325.80,234.70" fill="none" stroke="#333333" stroke-width="1.8" stroke-linejoin="miter"/>
<polyline points="341.70,164.20 341.70,169.40 339.70,170.90 339.20,175.90 336.70,177.90 336.20,181.80 333.80,183.80 332.30,187.00 332.80,188.00 331.80,190.50 331.30,210.00 330.80,211.00 330.30,218.90 327.80,221.40 325.80,223.40 325.80,234.70" fill="none" stroke="#a8a8a8" stroke-width="0.85" stroke-linejoin="miter"/>
<rect x="310.00" y="164.20" width="38.00" height="70.50" fill="none" stroke="#262626" stroke-width="0.6"/>
<path d="M310.00 173.01h0.90M348.00 173.01h-0.90M310.00 181.82h0.90M348.00 181.82h-0.90M310.00 190.64h0.90M348.00 190.64h-0.90M310.00 199.45h0.90M348.00 199.45h-0.90M310.00 208.26h0.90M348.00 208.26h-0.90M310.00 217.07h0.90M348.00 217.07h-0.90M310.00 225.89h0.90M348.00 225.89h-0.90M318.10 164.20v0.90M318.10 234.70v-0.90M333.10 164.20v0.90M333.10 234.70v-0.90" stroke="#262626" stroke-width="0.5" fill="none"/>
</g>
<polyline points="111.75,1.80 111.75,7.91 128.30,8.40 111.75,8.89 111.75,9.45 113.00,9.90 111.75,10.35 111.75,11.55 113.30,12.00 111.75,12.45 111.75,14.75 115.00,15.20 111.75,15.65 111.75,18.55 113.70,19.00 111.75,19.45 111.75,20.35 113.00,20.80 111.75,21.25 111.75,21.75 113.00,22.20 111.75,22.65 111.75,24.67 123.30,25.30 111.75,25.93 111.75,27.95 114.90,28.40 111.75,28.85 111.75,35.45 117.90,35.90 111.75,36.35 111.75,38.85 114.40,39.30 111.75,39.75 111.75,56.45 112.50,56.90 111.75,57.35 111.75,61.28 114.40,62.40 111.75,63.52 111.75,72.40" fill="none" stroke="#000" stroke-width="0.9" stroke-linejoin="miter"/>
<text x="109.3" y="2.30" font-size="5.3" text-anchor="end" dominant-baseline="central">0</text>
<text x="109.3" y="11.13" font-size="5.3" text-anchor="end" dominant-baseline="central">2</text>
<text x="109.3" y="19.95" font-size="5.3" text-anchor="end" dominant-baseline="central">4</text>
<text x="109.3" y="28.78" font-size="5.3" text-anchor="end" dominant-baseline="central">6</text>
<text x="109.3" y="37.60" font-size="5.3" text-anchor="end" dominant-baseline="central">8</text>
<text x="109.3" y="46.43" font-size="5.3" text-anchor="end" dominant-baseline="central">10</text>
<text x="109.3" y="55.25" font-size="5.3" text-anchor="end" dominant-baseline="central">12</text>
<text x="109.3" y="64.08" font-size="5.3" text-anchor="end" dominant-baseline="central">14</text>
<text x="109.3" y="72.90" font-size="5.3" text-anchor="end" dominant-baseline="central">16</text>
<text transform="translate(97.7 38.30) rotate(-90)" font-size="5.6" text-anchor="middle" dominant-baseline="central"><tspan font-style="italic">z</tspan> (m)</text>
<polyline points="111.75,83.00 111.75,88.91 128.30,89.40 111.75,89.89 111.75,95.95 124.30,96.40 111.75,96.85 111.75,99.85 124.80,100.30 111.75,100.75 111.75,103.18 122.50,104.30 111.75,105.42 111.75,109.01 127.80,109.50 111.75,109.99 111.75,115.95 114.90,116.40 111.75,116.85 111.75,119.45 118.90,119.90 111.75,120.35 111.75,125.35 113.00,125.80 111.75,126.25 111.75,137.84 119.40,138.40 111.75,138.96 111.75,141.84 121.80,142.40 111.75,142.96 111.75,153.40" fill="none" stroke="#000" stroke-width="0.9" stroke-linejoin="miter"/>
<text x="109.3" y="83.50" font-size="5.3" text-anchor="end" dominant-baseline="central">0</text>
<text x="109.3" y="92.30" font-size="5.3" text-anchor="end" dominant-baseline="central">2</text>
<text x="109.3" y="101.10" font-size="5.3" text-anchor="end" dominant-baseline="central">4</text>
<text x="109.3" y="109.90" font-size="5.3" text-anchor="end" dominant-baseline="central">6</text>
<text x="109.3" y="118.70" font-size="5.3" text-anchor="end" dominant-baseline="central">8</text>
<text x="109.3" y="127.50" font-size="5.3" text-anchor="end" dominant-baseline="central">10</text>
<text x="109.3" y="136.30" font-size="5.3" text-anchor="end" dominant-baseline="central">12</text>
<text x="109.3" y="145.10" font-size="5.3" text-anchor="end" dominant-baseline="central">14</text>
<text x="109.3" y="153.90" font-size="5.3" text-anchor="end" dominant-baseline="central">16</text>
<text transform="translate(97.7 119.40) rotate(-90)" font-size="5.6" text-anchor="middle" dominant-baseline="central"><tspan font-style="italic">z</tspan> (m)</text>
<polyline points="111.75,164.20 111.75,169.70 112.35,170.15 124.80,170.30 124.80,170.50 112.35,170.65 111.75,171.10 111.75,176.20 112.35,176.65 125.80,176.80 125.80,177.00 112.35,177.15 111.75,177.60 111.75,180.60 112.35,181.05 127.80,181.20 127.80,181.40 112.35,181.55 111.75,182.00 111.75,182.70 112.35,183.05 119.90,183.20 119.90,183.40 112.35,183.55 111.75,183.90 111.75,185.30 112.35,185.75 126.80,185.90 126.80,186.10 112.35,186.25 111.75,186.70 111.75,189.80 112.35,190.25 127.80,190.40 127.80,190.60 112.35,190.75 111.75,191.20 111.75,203.10 112.35,203.55 120.40,203.70 120.40,203.90 112.35,204.05 111.75,204.50 111.75,218.90 112.35,219.35 126.30,219.50 126.30,219.70 112.35,219.85 111.75,220.30 111.75,223.00 112.35,223.45 125.80,223.60 125.80,223.80 112.35,223.95 111.75,224.40 111.75,234.70" fill="none" stroke="#000" stroke-width="0.9" stroke-linejoin="miter"/>
<text x="109.3" y="164.70" font-size="5.3" text-anchor="end" dominant-baseline="central">0</text>
<text x="109.3" y="173.51" font-size="5.3" text-anchor="end" dominant-baseline="central">2</text>
<text x="109.3" y="182.32" font-size="5.3" text-anchor="end" dominant-baseline="central">4</text>
<text x="109.3" y="191.14" font-size="5.3" text-anchor="end" dominant-baseline="central">6</text>
<text x="109.3" y="199.95" font-size="5.3" text-anchor="end" dominant-baseline="central">8</text>
<text x="109.3" y="208.76" font-size="5.3" text-anchor="end" dominant-baseline="central">10</text>
<text x="109.3" y="217.57" font-size="5.3" text-anchor="end" dominant-baseline="central">12</text>
<text x="109.3" y="226.39" font-size="5.3" text-anchor="end" dominant-baseline="central">14</text>
<text x="109.3" y="235.20" font-size="5.3" text-anchor="end" dominant-baseline="central">16</text>
<text transform="translate(97.7 200.65) rotate(-90)" font-size="5.6" text-anchor="middle" dominant-baseline="central"><tspan font-style="italic">z</tspan> (m)</text>
<text x="172.0" y="7.40" font-size="4.9" text-anchor="end" dominant-baseline="central">10% error</text>
<text x="172.0" y="88.60" font-size="4.9" text-anchor="end" dominant-baseline="central">4% error</text>
<text x="172.0" y="169.80" font-size="4.9" text-anchor="end" dominant-baseline="central">1% error</text>
<text x="135.40" y="239.40" font-size="5.0" text-anchor="middle" dominant-baseline="central">1500</text>
<text x="154.50" y="239.40" font-size="5.0" text-anchor="middle" dominant-baseline="central">1700</text>
<text x="173.10" y="239.40" font-size="5.0" text-anchor="middle" dominant-baseline="central">1900</text>
<text x="192.50" y="239.40" font-size="5.0" text-anchor="middle" dominant-baseline="central">1.6</text>
<text x="204.60" y="239.40" font-size="5.0" text-anchor="middle" dominant-baseline="central">2</text>
<text x="216.80" y="239.40" font-size="5.0" text-anchor="middle" dominant-baseline="central">2.4</text>
<text x="232.30" y="241.30" font-size="4.8" text-anchor="middle" dominant-baseline="central">10<tspan font-size="3.7" dx="0.5" dy="-1.5">-2</tspan></text>
<text x="250.80" y="241.30" font-size="4.8" text-anchor="middle" dominant-baseline="central">10<tspan font-size="3.7" dx="0.5" dy="-1.5">0</tspan></text>
<text x="266.50" y="239.40" font-size="5.0" text-anchor="middle" dominant-baseline="central">0</text>
<text x="284.70" y="239.40" font-size="5.0" text-anchor="middle" dominant-baseline="central">400</text>
<text x="303.40" y="239.40" font-size="5.0" text-anchor="middle" dominant-baseline="central">800</text>
<text x="317.50" y="241.30" font-size="4.8" text-anchor="middle" dominant-baseline="central">10<tspan font-size="3.7" dx="0.5" dy="-1.5">-2</tspan></text>
<text x="332.50" y="241.30" font-size="4.8" text-anchor="middle" dominant-baseline="central">10<tspan font-size="3.7" dx="0.5" dy="-1.5">0</tspan></text>
<text x="347.60" y="241.30" font-size="4.8" text-anchor="middle" dominant-baseline="central">10<tspan font-size="3.7" dx="0.5" dy="-1.5">2</tspan></text>
<text x="101.0" y="247.00" font-size="5.6" dominant-baseline="central">Interface Prob</text>
<text x="143.7" y="247.00" font-size="5.6" dominant-baseline="central">c<tspan font-size="4.3" dy="1.9">p</tspan><tspan dx="0.6" dy="-1.9"> (m/s)</tspan></text>
<text x="186.3" y="247.00" font-size="5.6" dominant-baseline="central">ρ (g/cm<tspan font-size="4.0" dy="-1.7">3</tspan><tspan dy="1.7">)</tspan></text>
<text x="222.3" y="247.00" font-size="5.6" dominant-baseline="central">α<tspan font-size="4.3" dy="1.9">p</tspan><tspan dx="1.2" dy="-1.9"> (dB/m/kHz)</tspan></text>
<text x="274.3" y="247.00" font-size="5.6" dominant-baseline="central">c<tspan font-size="4.3" dy="1.9">s</tspan><tspan dx="0.6" dy="-1.9"> (m/s)</tspan></text>
<text x="308.3" y="247.00" font-size="5.6" dominant-baseline="central">α<tspan font-size="4.3" dy="1.9">s</tspan><tspan dx="1.2" dy="-1.9"> (dB/m/kHz)</tspan></text>
</svg></body></html>
